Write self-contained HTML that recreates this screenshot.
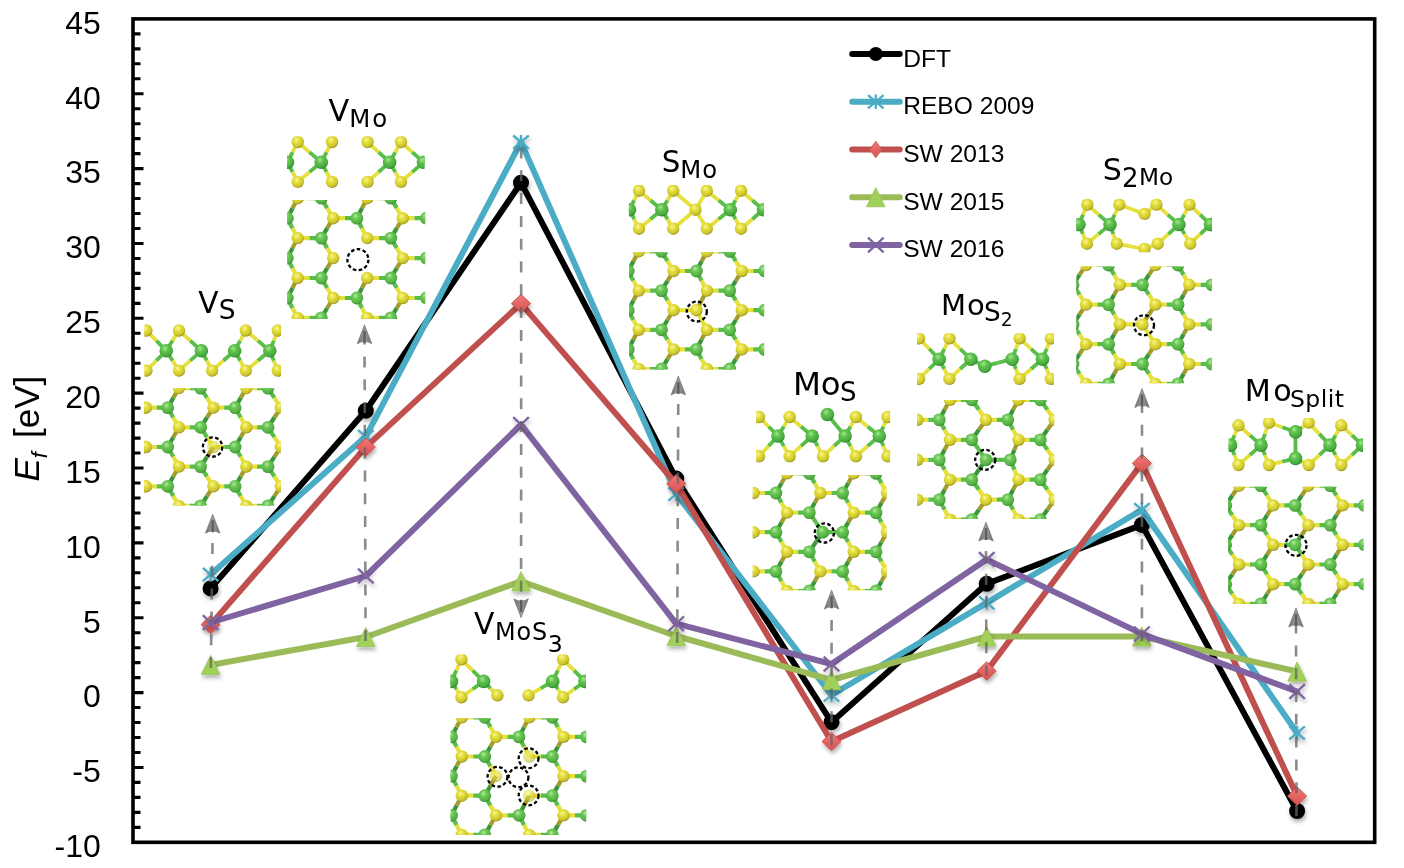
<!DOCTYPE html><html><head><meta charset="utf-8"><title>Formation energies</title><style>html,body{margin:0;padding:0;background:#fff;}svg{display:block;}</style></head><body><svg width="1404" height="868" viewBox="0 0 1404 868">
<defs>
<radialGradient id="gS" cx="0.42" cy="0.36" r="0.66" fx="0.40" fy="0.32">
<stop offset="0" stop-color="#f7f59a"/><stop offset="0.35" stop-color="#e6e03e"/><stop offset="0.8" stop-color="#c9c22c"/><stop offset="1" stop-color="#8f8a1c"/>
</radialGradient>
<radialGradient id="gM" cx="0.42" cy="0.36" r="0.66" fx="0.40" fy="0.32">
<stop offset="0" stop-color="#a6e696"/><stop offset="0.35" stop-color="#62c44e"/><stop offset="0.8" stop-color="#46aa3e"/><stop offset="1" stop-color="#2c7e2a"/>
</radialGradient>
<radialGradient id="gM2" cx="0.42" cy="0.36" r="0.66" fx="0.40" fy="0.32">
<stop offset="0" stop-color="#b4e8a4"/><stop offset="0.35" stop-color="#6cc854"/><stop offset="0.8" stop-color="#52b044"/><stop offset="1" stop-color="#3a8a32"/>
</radialGradient>
<linearGradient id="gDia" x1="0" y1="0" x2="0" y2="1">
<stop offset="0" stop-color="#ef7a78"/><stop offset="1" stop-color="#d9504f"/>
</linearGradient>
<linearGradient id="gTri" x1="0" y1="0" x2="0" y2="1">
<stop offset="0" stop-color="#a4cf5c"/><stop offset="1" stop-color="#9ed255"/>
</linearGradient>
<linearGradient id="gArr" x1="0" y1="0" x2="1" y2="0">
<stop offset="0" stop-color="#6f6f6f"/><stop offset="0.5" stop-color="#9a9a9a"/><stop offset="1" stop-color="#6f6f6f"/>
</linearGradient>
<filter id="sh" x="-60%" y="-60%" width="220%" height="220%">
<feGaussianBlur in="SourceAlpha" stdDeviation="2"/><feOffset dx="1.2" dy="2.6" result="o"/>
<feComponentTransfer><feFuncA type="linear" slope="0.32"/></feComponentTransfer>
<feMerge><feMergeNode/><feMergeNode in="SourceGraphic"/></feMerge>
</filter>
</defs>
<rect width="1404" height="868" fill="#ffffff"/>
<path d="M133.0,827.33H140.5M133.0,812.36H140.5M133.0,797.39H140.5M133.0,782.42H140.5M133.0,767.45H143.5M133.0,752.47H140.5M133.0,737.50H140.5M133.0,722.53H140.5M133.0,707.56H140.5M133.0,692.59H143.5M133.0,677.62H140.5M133.0,662.65H140.5M133.0,647.68H140.5M133.0,632.71H140.5M133.0,617.74H143.5M133.0,602.77H140.5M133.0,587.79H140.5M133.0,572.82H140.5M133.0,557.85H140.5M133.0,542.88H143.5M133.0,527.91H140.5M133.0,512.94H140.5M133.0,497.97H140.5M133.0,483.00H140.5M133.0,468.03H143.5M133.0,453.06H140.5M133.0,438.09H140.5M133.0,423.11H140.5M133.0,408.14H140.5M133.0,393.17H143.5M133.0,378.20H140.5M133.0,363.23H140.5M133.0,348.26H140.5M133.0,333.29H140.5M133.0,318.32H143.5M133.0,303.35H140.5M133.0,288.38H140.5M133.0,273.41H140.5M133.0,258.43H140.5M133.0,243.46H143.5M133.0,228.49H140.5M133.0,213.52H140.5M133.0,198.55H140.5M133.0,183.58H140.5M133.0,168.61H143.5M133.0,153.64H140.5M133.0,138.67H140.5M133.0,123.70H140.5M133.0,108.73H140.5M133.0,93.75H143.5M133.0,78.78H140.5M133.0,63.81H140.5M133.0,48.84H140.5M133.0,33.87H140.5" stroke="#000" stroke-width="3.1" fill="none"/>
<rect x="133.0" y="18.9" width="1241.7" height="823.4" fill="none" stroke="#000" stroke-width="3.6"/>
<g font-family="'Liberation Sans', sans-serif" font-size="32" fill="#000"><text x="100.8" y="857.1" text-anchor="end">-10</text><text x="100.8" y="782.2" text-anchor="end">-5</text><text x="100.8" y="707.4" text-anchor="end">0</text><text x="100.8" y="632.5" text-anchor="end">5</text><text x="100.8" y="557.7" text-anchor="end">10</text><text x="100.8" y="482.8" text-anchor="end">15</text><text x="100.8" y="408.0" text-anchor="end">20</text><text x="100.8" y="333.1" text-anchor="end">25</text><text x="100.8" y="258.3" text-anchor="end">30</text><text x="100.8" y="183.4" text-anchor="end">35</text><text x="100.8" y="108.6" text-anchor="end">40</text><text x="100.8" y="33.7" text-anchor="end">45</text></g>
<text transform="translate(39.3,481.5) rotate(-90)" font-family="'Liberation Sans', sans-serif" font-size="35" fill="#000"><tspan font-style="italic">E</tspan><tspan font-style="italic" font-size="22" dy="8">f</tspan><tspan dy="-8" dx="14">[eV]</tspan></text>
<polyline points="210.6,588.4 365.8,410.7 521.0,182.7 676.2,478.6 831.5,722.2 986.7,583.8 1141.9,524.9 1297.1,811.0" fill="none" stroke="#000000" stroke-width="6" stroke-linejoin="round" stroke-linecap="round"/>
<g filter="url(#sh)"><circle cx="210.6" cy="588.4" r="8" fill="#000000"/><circle cx="365.8" cy="410.7" r="8" fill="#000000"/><circle cx="521.0" cy="182.7" r="8" fill="#000000"/><circle cx="676.2" cy="478.6" r="8" fill="#000000"/><circle cx="831.5" cy="722.2" r="8" fill="#000000"/><circle cx="986.7" cy="583.8" r="8" fill="#000000"/><circle cx="1141.9" cy="524.9" r="8" fill="#000000"/><circle cx="1297.1" cy="811.0" r="8" fill="#000000"/></g>
<polyline points="210.6,574.5 365.8,436.6 521.0,142.1 676.2,494.0 831.5,695.0 986.7,602.8 1141.9,509.7 1297.1,732.9" fill="none" stroke="#4BACC6" stroke-width="6" stroke-linejoin="round" stroke-linecap="round"/>
<g filter="url(#sh)"><path d="M210.6,567.3V581.7M202.8,567.9L218.4,581.1M202.8,581.1L218.4,567.9" stroke="#4BACC6" stroke-width="2.3" fill="none"/><path d="M365.8,429.4V443.8M358.0,430.0L373.6,443.2M358.0,443.2L373.6,430.0" stroke="#4BACC6" stroke-width="2.3" fill="none"/><path d="M521.0,134.9V149.3M513.2,135.5L528.8,148.7M513.2,148.7L528.8,135.5" stroke="#4BACC6" stroke-width="2.3" fill="none"/><path d="M676.2,486.8V501.2M668.4,487.4L684.0,500.6M668.4,500.6L684.0,487.4" stroke="#4BACC6" stroke-width="2.3" fill="none"/><path d="M831.5,687.8V702.2M823.7,688.4L839.3,701.6M823.7,701.6L839.3,688.4" stroke="#4BACC6" stroke-width="2.3" fill="none"/><path d="M986.7,595.6V610.0M978.9,596.2L994.5,609.4M978.9,609.4L994.5,596.2" stroke="#4BACC6" stroke-width="2.3" fill="none"/><path d="M1141.9,502.5V516.9M1134.1,503.1L1149.7,516.3M1134.1,516.3L1149.7,503.1" stroke="#4BACC6" stroke-width="2.3" fill="none"/><path d="M1297.1,725.7V740.1M1289.3,726.3L1304.9,739.5M1289.3,739.5L1304.9,726.3" stroke="#4BACC6" stroke-width="2.3" fill="none"/></g>
<polyline points="210.6,624.6 365.8,447.1 521.0,303.6 676.2,483.8 831.5,741.5 986.7,671.0 1141.9,463.3 1297.1,796.1" fill="none" stroke="#C0504D" stroke-width="6" stroke-linejoin="round" stroke-linecap="round"/>
<g filter="url(#sh)"><path d="M210.6,615.4L220.1,624.6L210.6,633.8L201.1,624.6Z" fill="url(#gDia)" stroke="#c9524f" stroke-width="1"/><path d="M365.8,437.9L375.3,447.1L365.8,456.3L356.3,447.1Z" fill="url(#gDia)" stroke="#c9524f" stroke-width="1"/><path d="M521.0,294.4L530.5,303.6L521.0,312.8L511.5,303.6Z" fill="url(#gDia)" stroke="#c9524f" stroke-width="1"/><path d="M676.2,474.6L685.7,483.8L676.2,493.0L666.7,483.8Z" fill="url(#gDia)" stroke="#c9524f" stroke-width="1"/><path d="M831.5,732.3L841.0,741.5L831.5,750.7L822.0,741.5Z" fill="url(#gDia)" stroke="#c9524f" stroke-width="1"/><path d="M986.7,661.8L996.2,671.0L986.7,680.2L977.2,671.0Z" fill="url(#gDia)" stroke="#c9524f" stroke-width="1"/><path d="M1141.9,454.1L1151.4,463.3L1141.9,472.5L1132.4,463.3Z" fill="url(#gDia)" stroke="#c9524f" stroke-width="1"/><path d="M1297.1,786.9L1306.6,796.1L1297.1,805.3L1287.6,796.1Z" fill="url(#gDia)" stroke="#c9524f" stroke-width="1"/></g>
<polyline points="210.6,665.0 365.8,637.0 521.0,581.3 676.2,636.0 831.5,680.0 986.7,636.5 1141.9,636.5 1297.1,671.5" fill="none" stroke="#9BBB59" stroke-width="6" stroke-linejoin="round" stroke-linecap="round"/>
<g filter="url(#sh)"><path d="M210.6,655.4L219.9,674.6L201.3,674.6Z" fill="url(#gTri)" stroke="#9cc25a" stroke-width="0.8"/><path d="M365.8,627.4L375.1,646.6L356.5,646.6Z" fill="url(#gTri)" stroke="#9cc25a" stroke-width="0.8"/><path d="M521.0,571.7L530.3,590.9L511.7,590.9Z" fill="url(#gTri)" stroke="#9cc25a" stroke-width="0.8"/><path d="M676.2,626.4L685.5,645.6L666.9,645.6Z" fill="url(#gTri)" stroke="#9cc25a" stroke-width="0.8"/><path d="M831.5,670.4L840.8,689.6L822.2,689.6Z" fill="url(#gTri)" stroke="#9cc25a" stroke-width="0.8"/><path d="M986.7,626.9L996.0,646.1L977.4,646.1Z" fill="url(#gTri)" stroke="#9cc25a" stroke-width="0.8"/><path d="M1141.9,626.9L1151.2,646.1L1132.6,646.1Z" fill="url(#gTri)" stroke="#9cc25a" stroke-width="0.8"/><path d="M1297.1,661.9L1306.4,681.1L1287.8,681.1Z" fill="url(#gTri)" stroke="#9cc25a" stroke-width="0.8"/></g>
<polyline points="210.6,622.5 365.8,576.0 521.0,424.6 676.2,623.7 831.5,664.0 986.7,559.5 1141.9,633.9 1297.1,691.5" fill="none" stroke="#8064A2" stroke-width="6" stroke-linejoin="round" stroke-linecap="round"/>
<g filter="url(#sh)"><path d="M202.8,615.1L218.4,629.9M202.8,629.9L218.4,615.1" stroke="#8064A2" stroke-width="2.3" fill="none"/><path d="M358.0,568.6L373.6,583.4M358.0,583.4L373.6,568.6" stroke="#8064A2" stroke-width="2.3" fill="none"/><path d="M513.2,417.2L528.8,432.0M513.2,432.0L528.8,417.2" stroke="#8064A2" stroke-width="2.3" fill="none"/><path d="M668.4,616.3L684.0,631.1M668.4,631.1L684.0,616.3" stroke="#8064A2" stroke-width="2.3" fill="none"/><path d="M823.7,656.6L839.3,671.4M823.7,671.4L839.3,656.6" stroke="#8064A2" stroke-width="2.3" fill="none"/><path d="M978.9,552.1L994.5,566.9M978.9,566.9L994.5,552.1" stroke="#8064A2" stroke-width="2.3" fill="none"/><path d="M1134.1,626.5L1149.7,641.3M1134.1,641.3L1149.7,626.5" stroke="#8064A2" stroke-width="2.3" fill="none"/><path d="M1289.3,684.1L1304.9,698.9M1289.3,698.9L1304.9,684.1" stroke="#8064A2" stroke-width="2.3" fill="none"/></g>
<line x1="852.2" y1="54.0" x2="899.7" y2="54.0" stroke="#000000" stroke-width="6" stroke-linecap="round"/>
<circle cx="875.8" cy="54.0" r="7" fill="#000"/>
<text x="903.2" y="67.3" font-family="'Liberation Sans', sans-serif" font-size="24.6" fill="#000">DFT</text>
<line x1="852.2" y1="101.8" x2="899.7" y2="101.8" stroke="#4BACC6" stroke-width="6" stroke-linecap="round"/>
<path d="M875.8,94.6V109.0M868.0,95.2L883.6,108.4M868.0,108.4L883.6,95.2" stroke="#4BACC6" stroke-width="2.3" fill="none"/>
<text x="903.2" y="114.3" font-family="'Liberation Sans', sans-serif" font-size="24.6" fill="#000">REBO 2009</text>
<line x1="852.2" y1="149.5" x2="899.7" y2="149.5" stroke="#C0504D" stroke-width="6" stroke-linecap="round"/>
<path d="M875.8,141.2L881.9,149.5L875.8,157.8L869.7,149.5Z" fill="url(#gDia)" stroke="#c9524f" stroke-width="0.8"/>
<text x="903.2" y="162.1" font-family="'Liberation Sans', sans-serif" font-size="24.6" fill="#000">SW 2013</text>
<line x1="852.2" y1="197.2" x2="899.7" y2="197.2" stroke="#9BBB59" stroke-width="6" stroke-linecap="round"/>
<path d="M875.8,187.6L885.1,206.8L866.5,206.8Z" fill="url(#gTri)" stroke="#9cc25a" stroke-width="0.8"/>
<text x="903.2" y="209.7" font-family="'Liberation Sans', sans-serif" font-size="24.6" fill="#000">SW 2015</text>
<line x1="852.2" y1="245.0" x2="899.7" y2="245.0" stroke="#8064A2" stroke-width="6" stroke-linecap="round"/>
<path d="M868.0,237.6L883.6,252.4M868.0,252.4L883.6,237.6" stroke="#8064A2" stroke-width="2.3" fill="none"/>
<text x="903.2" y="256.6" font-family="'Liberation Sans', sans-serif" font-size="24.6" fill="#000">SW 2016</text>
<g font-family="'DejaVu Sans', 'Liberation Sans', sans-serif" fill="#000"><text x="198.3" y="313.1" font-size="29.6">V</text><text x="218.7" y="319.3" font-size="26.5">S</text></g>
<clipPath id="c1"><rect x="144.3" y="324.0" width="136.7" height="53.5"/></clipPath>
<g clip-path="url(#c1)"><line x1="131.5" y1="350.8" x2="122.5" y2="340.6" stroke="#58be48" stroke-width="3.8"/><line x1="122.5" y1="340.6" x2="113.5" y2="330.5" stroke="#e6e03c" stroke-width="3.8"/><line x1="131.5" y1="350.8" x2="122.5" y2="360.7" stroke="#58be48" stroke-width="3.8"/><line x1="122.5" y1="360.7" x2="113.5" y2="370.6" stroke="#e6e03c" stroke-width="3.8"/><line x1="131.5" y1="350.8" x2="138.9" y2="340.6" stroke="#58be48" stroke-width="3.8"/><line x1="138.9" y1="340.6" x2="146.4" y2="330.5" stroke="#e6e03c" stroke-width="3.8"/><line x1="131.5" y1="350.8" x2="138.9" y2="360.7" stroke="#58be48" stroke-width="3.8"/><line x1="138.9" y1="360.7" x2="146.4" y2="370.6" stroke="#e6e03c" stroke-width="3.8"/><line x1="166.2" y1="350.8" x2="156.3" y2="340.6" stroke="#58be48" stroke-width="3.8"/><line x1="156.3" y1="340.6" x2="146.4" y2="330.5" stroke="#e6e03c" stroke-width="3.8"/><line x1="166.2" y1="350.8" x2="156.3" y2="360.7" stroke="#58be48" stroke-width="3.8"/><line x1="156.3" y1="360.7" x2="146.4" y2="370.6" stroke="#e6e03c" stroke-width="3.8"/><line x1="166.2" y1="350.8" x2="172.6" y2="340.6" stroke="#58be48" stroke-width="3.8"/><line x1="172.6" y1="340.6" x2="179.0" y2="330.5" stroke="#e6e03c" stroke-width="3.8"/><line x1="166.2" y1="350.8" x2="172.6" y2="360.7" stroke="#58be48" stroke-width="3.8"/><line x1="172.6" y1="360.7" x2="179.0" y2="370.6" stroke="#e6e03c" stroke-width="3.8"/><line x1="201.4" y1="350.8" x2="190.2" y2="340.6" stroke="#58be48" stroke-width="3.8"/><line x1="190.2" y1="340.6" x2="179.0" y2="330.5" stroke="#e6e03c" stroke-width="3.8"/><line x1="201.4" y1="350.8" x2="190.2" y2="360.7" stroke="#58be48" stroke-width="3.8"/><line x1="190.2" y1="360.7" x2="179.0" y2="370.6" stroke="#e6e03c" stroke-width="3.8"/><line x1="201.4" y1="350.8" x2="206.8" y2="360.7" stroke="#58be48" stroke-width="3.8"/><line x1="206.8" y1="360.7" x2="212.1" y2="370.6" stroke="#e6e03c" stroke-width="3.8"/><line x1="234.6" y1="350.8" x2="223.3" y2="360.7" stroke="#58be48" stroke-width="3.8"/><line x1="223.3" y1="360.7" x2="212.1" y2="370.6" stroke="#e6e03c" stroke-width="3.8"/><line x1="234.6" y1="350.8" x2="240.2" y2="340.6" stroke="#58be48" stroke-width="3.8"/><line x1="240.2" y1="340.6" x2="245.8" y2="330.5" stroke="#e6e03c" stroke-width="3.8"/><line x1="234.6" y1="350.8" x2="240.2" y2="360.7" stroke="#58be48" stroke-width="3.8"/><line x1="240.2" y1="360.7" x2="245.8" y2="370.6" stroke="#e6e03c" stroke-width="3.8"/><line x1="269.8" y1="350.8" x2="257.8" y2="340.6" stroke="#58be48" stroke-width="3.8"/><line x1="257.8" y1="340.6" x2="245.8" y2="330.5" stroke="#e6e03c" stroke-width="3.8"/><line x1="269.8" y1="350.8" x2="257.8" y2="360.7" stroke="#58be48" stroke-width="3.8"/><line x1="257.8" y1="360.7" x2="245.8" y2="370.6" stroke="#e6e03c" stroke-width="3.8"/><line x1="269.8" y1="350.8" x2="273.8" y2="340.6" stroke="#58be48" stroke-width="3.8"/><line x1="273.8" y1="340.6" x2="277.8" y2="330.5" stroke="#e6e03c" stroke-width="3.8"/><line x1="269.8" y1="350.8" x2="273.8" y2="360.7" stroke="#58be48" stroke-width="3.8"/><line x1="273.8" y1="360.7" x2="277.8" y2="370.6" stroke="#e6e03c" stroke-width="3.8"/><line x1="304.0" y1="350.8" x2="290.9" y2="340.6" stroke="#58be48" stroke-width="3.8"/><line x1="290.9" y1="340.6" x2="277.8" y2="330.5" stroke="#e6e03c" stroke-width="3.8"/><line x1="304.0" y1="350.8" x2="290.9" y2="360.7" stroke="#58be48" stroke-width="3.8"/><line x1="290.9" y1="360.7" x2="277.8" y2="370.6" stroke="#e6e03c" stroke-width="3.8"/><line x1="304.0" y1="350.8" x2="307.5" y2="340.6" stroke="#58be48" stroke-width="3.8"/><line x1="307.5" y1="340.6" x2="311.0" y2="330.5" stroke="#e6e03c" stroke-width="3.8"/><line x1="304.0" y1="350.8" x2="307.5" y2="360.7" stroke="#58be48" stroke-width="3.8"/><line x1="307.5" y1="360.7" x2="311.0" y2="370.6" stroke="#e6e03c" stroke-width="3.8"/><circle cx="113.5" cy="330.5" r="6.2" fill="url(#gS)"/><circle cx="113.5" cy="370.6" r="6.2" fill="url(#gS)"/><circle cx="146.4" cy="330.5" r="6.2" fill="url(#gS)"/><circle cx="146.4" cy="370.6" r="6.2" fill="url(#gS)"/><circle cx="179.0" cy="330.5" r="6.2" fill="url(#gS)"/><circle cx="179.0" cy="370.6" r="6.2" fill="url(#gS)"/><circle cx="212.1" cy="370.6" r="6.2" fill="url(#gS)"/><circle cx="245.8" cy="330.5" r="6.2" fill="url(#gS)"/><circle cx="245.8" cy="370.6" r="6.2" fill="url(#gS)"/><circle cx="277.8" cy="330.5" r="6.2" fill="url(#gS)"/><circle cx="277.8" cy="370.6" r="6.2" fill="url(#gS)"/><circle cx="311.0" cy="330.5" r="6.2" fill="url(#gS)"/><circle cx="311.0" cy="370.6" r="6.2" fill="url(#gS)"/><circle cx="131.5" cy="350.8" r="6.8" fill="url(#gM)"/><circle cx="166.2" cy="350.8" r="6.8" fill="url(#gM)"/><circle cx="201.4" cy="350.8" r="6.8" fill="url(#gM)"/><circle cx="234.6" cy="350.8" r="6.8" fill="url(#gM)"/><circle cx="269.8" cy="350.8" r="6.8" fill="url(#gM)"/><circle cx="304.0" cy="350.8" r="6.8" fill="url(#gM)"/></g>
<clipPath id="c2"><rect x="144.2" y="388.2" width="136.5" height="117.3"/></clipPath>
<g clip-path="url(#c2)"><line x1="78.6" y1="368.4" x2="89.4" y2="368.4" stroke="#e6e03c" stroke-width="4.2"/><line x1="89.4" y1="368.4" x2="100.3" y2="368.4" stroke="#58be48" stroke-width="4.2"/><line x1="78.6" y1="368.4" x2="72.2" y2="378.2" stroke="#a39c2c" stroke-width="4.2"/><line x1="72.2" y1="378.2" x2="65.8" y2="388.1" stroke="#3a963a" stroke-width="4.2"/><line x1="100.3" y1="368.4" x2="105.9" y2="378.2" stroke="#58be48" stroke-width="4.2"/><line x1="105.9" y1="378.2" x2="111.5" y2="388.1" stroke="#e6e03c" stroke-width="4.2"/><line x1="146.0" y1="368.4" x2="156.8" y2="368.4" stroke="#e6e03c" stroke-width="4.2"/><line x1="156.8" y1="368.4" x2="167.7" y2="368.4" stroke="#58be48" stroke-width="4.2"/><line x1="146.0" y1="368.4" x2="139.6" y2="378.2" stroke="#a39c2c" stroke-width="4.2"/><line x1="139.6" y1="378.2" x2="133.2" y2="388.1" stroke="#3a963a" stroke-width="4.2"/><line x1="167.7" y1="368.4" x2="173.3" y2="378.2" stroke="#58be48" stroke-width="4.2"/><line x1="173.3" y1="378.2" x2="178.9" y2="388.1" stroke="#e6e03c" stroke-width="4.2"/><line x1="213.4" y1="368.4" x2="224.2" y2="368.4" stroke="#e6e03c" stroke-width="4.2"/><line x1="224.2" y1="368.4" x2="235.1" y2="368.4" stroke="#58be48" stroke-width="4.2"/><line x1="213.4" y1="368.4" x2="207.0" y2="378.2" stroke="#a39c2c" stroke-width="4.2"/><line x1="207.0" y1="378.2" x2="200.6" y2="388.1" stroke="#3a963a" stroke-width="4.2"/><line x1="235.1" y1="368.4" x2="240.7" y2="378.2" stroke="#58be48" stroke-width="4.2"/><line x1="240.7" y1="378.2" x2="246.3" y2="388.1" stroke="#e6e03c" stroke-width="4.2"/><line x1="280.8" y1="368.4" x2="291.6" y2="368.4" stroke="#e6e03c" stroke-width="4.2"/><line x1="291.6" y1="368.4" x2="302.5" y2="368.4" stroke="#58be48" stroke-width="4.2"/><line x1="280.8" y1="368.4" x2="274.4" y2="378.2" stroke="#a39c2c" stroke-width="4.2"/><line x1="274.4" y1="378.2" x2="268.0" y2="388.1" stroke="#3a963a" stroke-width="4.2"/><line x1="302.5" y1="368.4" x2="308.1" y2="378.2" stroke="#58be48" stroke-width="4.2"/><line x1="308.1" y1="378.2" x2="313.7" y2="388.1" stroke="#e6e03c" stroke-width="4.2"/><line x1="348.2" y1="368.4" x2="359.1" y2="368.4" stroke="#e6e03c" stroke-width="4.2"/><line x1="359.1" y1="368.4" x2="369.9" y2="368.4" stroke="#58be48" stroke-width="4.2"/><line x1="348.2" y1="368.4" x2="341.8" y2="378.2" stroke="#a39c2c" stroke-width="4.2"/><line x1="341.8" y1="378.2" x2="335.4" y2="388.1" stroke="#3a963a" stroke-width="4.2"/><line x1="369.9" y1="368.4" x2="375.5" y2="378.2" stroke="#58be48" stroke-width="4.2"/><line x1="375.5" y1="378.2" x2="381.1" y2="388.1" stroke="#e6e03c" stroke-width="4.2"/><line x1="44.1" y1="388.1" x2="54.9" y2="388.1" stroke="#e6e03c" stroke-width="4.2"/><line x1="54.9" y1="388.1" x2="65.8" y2="388.1" stroke="#58be48" stroke-width="4.2"/><line x1="65.8" y1="388.1" x2="72.2" y2="397.9" stroke="#58be48" stroke-width="4.2"/><line x1="72.2" y1="397.9" x2="78.6" y2="407.7" stroke="#e6e03c" stroke-width="4.2"/><line x1="111.5" y1="388.1" x2="122.3" y2="388.1" stroke="#e6e03c" stroke-width="4.2"/><line x1="122.3" y1="388.1" x2="133.2" y2="388.1" stroke="#58be48" stroke-width="4.2"/><line x1="111.5" y1="388.1" x2="105.9" y2="397.9" stroke="#a39c2c" stroke-width="4.2"/><line x1="105.9" y1="397.9" x2="100.3" y2="407.7" stroke="#3a963a" stroke-width="4.2"/><line x1="133.2" y1="388.1" x2="139.6" y2="397.9" stroke="#58be48" stroke-width="4.2"/><line x1="139.6" y1="397.9" x2="146.0" y2="407.7" stroke="#e6e03c" stroke-width="4.2"/><line x1="178.9" y1="388.1" x2="189.8" y2="388.1" stroke="#e6e03c" stroke-width="4.2"/><line x1="189.8" y1="388.1" x2="200.6" y2="388.1" stroke="#58be48" stroke-width="4.2"/><line x1="178.9" y1="388.1" x2="173.3" y2="397.9" stroke="#a39c2c" stroke-width="4.2"/><line x1="173.3" y1="397.9" x2="167.7" y2="407.7" stroke="#3a963a" stroke-width="4.2"/><line x1="200.6" y1="388.1" x2="207.0" y2="397.9" stroke="#58be48" stroke-width="4.2"/><line x1="207.0" y1="397.9" x2="213.4" y2="407.7" stroke="#e6e03c" stroke-width="4.2"/><line x1="246.3" y1="388.1" x2="257.1" y2="388.1" stroke="#e6e03c" stroke-width="4.2"/><line x1="257.1" y1="388.1" x2="268.0" y2="388.1" stroke="#58be48" stroke-width="4.2"/><line x1="246.3" y1="388.1" x2="240.7" y2="397.9" stroke="#a39c2c" stroke-width="4.2"/><line x1="240.7" y1="397.9" x2="235.1" y2="407.7" stroke="#3a963a" stroke-width="4.2"/><line x1="268.0" y1="388.1" x2="274.4" y2="397.9" stroke="#58be48" stroke-width="4.2"/><line x1="274.4" y1="397.9" x2="280.8" y2="407.7" stroke="#e6e03c" stroke-width="4.2"/><line x1="313.7" y1="388.1" x2="324.6" y2="388.1" stroke="#e6e03c" stroke-width="4.2"/><line x1="324.6" y1="388.1" x2="335.4" y2="388.1" stroke="#58be48" stroke-width="4.2"/><line x1="313.7" y1="388.1" x2="308.1" y2="397.9" stroke="#a39c2c" stroke-width="4.2"/><line x1="308.1" y1="397.9" x2="302.5" y2="407.7" stroke="#3a963a" stroke-width="4.2"/><line x1="335.4" y1="388.1" x2="341.8" y2="397.9" stroke="#58be48" stroke-width="4.2"/><line x1="341.8" y1="397.9" x2="348.2" y2="407.7" stroke="#e6e03c" stroke-width="4.2"/><line x1="381.1" y1="388.1" x2="392.0" y2="388.1" stroke="#e6e03c" stroke-width="4.2"/><line x1="392.0" y1="388.1" x2="402.8" y2="388.1" stroke="#58be48" stroke-width="4.2"/><line x1="381.1" y1="388.1" x2="375.5" y2="397.9" stroke="#a39c2c" stroke-width="4.2"/><line x1="375.5" y1="397.9" x2="369.9" y2="407.7" stroke="#3a963a" stroke-width="4.2"/><line x1="78.6" y1="407.7" x2="89.4" y2="407.7" stroke="#e6e03c" stroke-width="4.2"/><line x1="89.4" y1="407.7" x2="100.3" y2="407.7" stroke="#58be48" stroke-width="4.2"/><line x1="78.6" y1="407.7" x2="72.2" y2="417.5" stroke="#a39c2c" stroke-width="4.2"/><line x1="72.2" y1="417.5" x2="65.8" y2="427.3" stroke="#3a963a" stroke-width="4.2"/><line x1="100.3" y1="407.7" x2="105.9" y2="417.5" stroke="#58be48" stroke-width="4.2"/><line x1="105.9" y1="417.5" x2="111.5" y2="427.3" stroke="#e6e03c" stroke-width="4.2"/><line x1="146.0" y1="407.7" x2="156.8" y2="407.7" stroke="#e6e03c" stroke-width="4.2"/><line x1="156.8" y1="407.7" x2="167.7" y2="407.7" stroke="#58be48" stroke-width="4.2"/><line x1="146.0" y1="407.7" x2="139.6" y2="417.5" stroke="#a39c2c" stroke-width="4.2"/><line x1="139.6" y1="417.5" x2="133.2" y2="427.3" stroke="#3a963a" stroke-width="4.2"/><line x1="167.7" y1="407.7" x2="173.3" y2="417.5" stroke="#58be48" stroke-width="4.2"/><line x1="173.3" y1="417.5" x2="178.9" y2="427.3" stroke="#e6e03c" stroke-width="4.2"/><line x1="213.4" y1="407.7" x2="224.2" y2="407.7" stroke="#e6e03c" stroke-width="4.2"/><line x1="224.2" y1="407.7" x2="235.1" y2="407.7" stroke="#58be48" stroke-width="4.2"/><line x1="213.4" y1="407.7" x2="207.0" y2="417.5" stroke="#a39c2c" stroke-width="4.2"/><line x1="207.0" y1="417.5" x2="200.6" y2="427.3" stroke="#3a963a" stroke-width="4.2"/><line x1="235.1" y1="407.7" x2="240.7" y2="417.5" stroke="#58be48" stroke-width="4.2"/><line x1="240.7" y1="417.5" x2="246.3" y2="427.3" stroke="#e6e03c" stroke-width="4.2"/><line x1="280.8" y1="407.7" x2="291.6" y2="407.7" stroke="#e6e03c" stroke-width="4.2"/><line x1="291.6" y1="407.7" x2="302.5" y2="407.7" stroke="#58be48" stroke-width="4.2"/><line x1="280.8" y1="407.7" x2="274.4" y2="417.5" stroke="#a39c2c" stroke-width="4.2"/><line x1="274.4" y1="417.5" x2="268.0" y2="427.3" stroke="#3a963a" stroke-width="4.2"/><line x1="302.5" y1="407.7" x2="308.1" y2="417.5" stroke="#58be48" stroke-width="4.2"/><line x1="308.1" y1="417.5" x2="313.7" y2="427.3" stroke="#e6e03c" stroke-width="4.2"/><line x1="348.2" y1="407.7" x2="359.1" y2="407.7" stroke="#e6e03c" stroke-width="4.2"/><line x1="359.1" y1="407.7" x2="369.9" y2="407.7" stroke="#58be48" stroke-width="4.2"/><line x1="348.2" y1="407.7" x2="341.8" y2="417.5" stroke="#a39c2c" stroke-width="4.2"/><line x1="341.8" y1="417.5" x2="335.4" y2="427.3" stroke="#3a963a" stroke-width="4.2"/><line x1="369.9" y1="407.7" x2="375.5" y2="417.5" stroke="#58be48" stroke-width="4.2"/><line x1="375.5" y1="417.5" x2="381.1" y2="427.3" stroke="#e6e03c" stroke-width="4.2"/><line x1="44.1" y1="427.3" x2="54.9" y2="427.3" stroke="#e6e03c" stroke-width="4.2"/><line x1="54.9" y1="427.3" x2="65.8" y2="427.3" stroke="#58be48" stroke-width="4.2"/><line x1="65.8" y1="427.3" x2="72.2" y2="437.2" stroke="#58be48" stroke-width="4.2"/><line x1="72.2" y1="437.2" x2="78.6" y2="447.0" stroke="#e6e03c" stroke-width="4.2"/><line x1="111.5" y1="427.3" x2="122.3" y2="427.3" stroke="#e6e03c" stroke-width="4.2"/><line x1="122.3" y1="427.3" x2="133.2" y2="427.3" stroke="#58be48" stroke-width="4.2"/><line x1="111.5" y1="427.3" x2="105.9" y2="437.2" stroke="#a39c2c" stroke-width="4.2"/><line x1="105.9" y1="437.2" x2="100.3" y2="447.0" stroke="#3a963a" stroke-width="4.2"/><line x1="133.2" y1="427.3" x2="139.6" y2="437.2" stroke="#58be48" stroke-width="4.2"/><line x1="139.6" y1="437.2" x2="146.0" y2="447.0" stroke="#e6e03c" stroke-width="4.2"/><line x1="178.9" y1="427.3" x2="189.8" y2="427.3" stroke="#e6e03c" stroke-width="4.2"/><line x1="189.8" y1="427.3" x2="200.6" y2="427.3" stroke="#58be48" stroke-width="4.2"/><line x1="178.9" y1="427.3" x2="173.3" y2="437.2" stroke="#a39c2c" stroke-width="4.2"/><line x1="173.3" y1="437.2" x2="167.7" y2="447.0" stroke="#3a963a" stroke-width="4.2"/><line x1="200.6" y1="427.3" x2="207.0" y2="437.2" stroke="#58be48" stroke-width="4.2"/><line x1="207.0" y1="437.2" x2="213.4" y2="447.0" stroke="#e6e03c" stroke-width="4.2"/><line x1="246.3" y1="427.3" x2="257.1" y2="427.3" stroke="#e6e03c" stroke-width="4.2"/><line x1="257.1" y1="427.3" x2="268.0" y2="427.3" stroke="#58be48" stroke-width="4.2"/><line x1="246.3" y1="427.3" x2="240.7" y2="437.2" stroke="#a39c2c" stroke-width="4.2"/><line x1="240.7" y1="437.2" x2="235.1" y2="447.0" stroke="#3a963a" stroke-width="4.2"/><line x1="268.0" y1="427.3" x2="274.4" y2="437.2" stroke="#58be48" stroke-width="4.2"/><line x1="274.4" y1="437.2" x2="280.8" y2="447.0" stroke="#e6e03c" stroke-width="4.2"/><line x1="313.7" y1="427.3" x2="324.6" y2="427.3" stroke="#e6e03c" stroke-width="4.2"/><line x1="324.6" y1="427.3" x2="335.4" y2="427.3" stroke="#58be48" stroke-width="4.2"/><line x1="313.7" y1="427.3" x2="308.1" y2="437.2" stroke="#a39c2c" stroke-width="4.2"/><line x1="308.1" y1="437.2" x2="302.5" y2="447.0" stroke="#3a963a" stroke-width="4.2"/><line x1="335.4" y1="427.3" x2="341.8" y2="437.2" stroke="#58be48" stroke-width="4.2"/><line x1="341.8" y1="437.2" x2="348.2" y2="447.0" stroke="#e6e03c" stroke-width="4.2"/><line x1="381.1" y1="427.3" x2="392.0" y2="427.3" stroke="#e6e03c" stroke-width="4.2"/><line x1="392.0" y1="427.3" x2="402.8" y2="427.3" stroke="#58be48" stroke-width="4.2"/><line x1="381.1" y1="427.3" x2="375.5" y2="437.2" stroke="#a39c2c" stroke-width="4.2"/><line x1="375.5" y1="437.2" x2="369.9" y2="447.0" stroke="#3a963a" stroke-width="4.2"/><line x1="78.6" y1="447.0" x2="89.4" y2="447.0" stroke="#e6e03c" stroke-width="4.2"/><line x1="89.4" y1="447.0" x2="100.3" y2="447.0" stroke="#58be48" stroke-width="4.2"/><line x1="78.6" y1="447.0" x2="72.2" y2="456.8" stroke="#a39c2c" stroke-width="4.2"/><line x1="72.2" y1="456.8" x2="65.8" y2="466.6" stroke="#3a963a" stroke-width="4.2"/><line x1="100.3" y1="447.0" x2="105.9" y2="456.8" stroke="#58be48" stroke-width="4.2"/><line x1="105.9" y1="456.8" x2="111.5" y2="466.6" stroke="#e6e03c" stroke-width="4.2"/><line x1="146.0" y1="447.0" x2="156.8" y2="447.0" stroke="#e6e03c" stroke-width="4.2"/><line x1="156.8" y1="447.0" x2="167.7" y2="447.0" stroke="#58be48" stroke-width="4.2"/><line x1="146.0" y1="447.0" x2="139.6" y2="456.8" stroke="#a39c2c" stroke-width="4.2"/><line x1="139.6" y1="456.8" x2="133.2" y2="466.6" stroke="#3a963a" stroke-width="4.2"/><line x1="167.7" y1="447.0" x2="173.3" y2="456.8" stroke="#58be48" stroke-width="4.2"/><line x1="173.3" y1="456.8" x2="178.9" y2="466.6" stroke="#e6e03c" stroke-width="4.2"/><line x1="213.4" y1="447.0" x2="224.2" y2="447.0" stroke="#e6e03c" stroke-width="4.2"/><line x1="224.2" y1="447.0" x2="235.1" y2="447.0" stroke="#58be48" stroke-width="4.2"/><line x1="213.4" y1="447.0" x2="207.0" y2="456.8" stroke="#a39c2c" stroke-width="4.2"/><line x1="207.0" y1="456.8" x2="200.6" y2="466.6" stroke="#3a963a" stroke-width="4.2"/><line x1="235.1" y1="447.0" x2="240.7" y2="456.8" stroke="#58be48" stroke-width="4.2"/><line x1="240.7" y1="456.8" x2="246.3" y2="466.6" stroke="#e6e03c" stroke-width="4.2"/><line x1="280.8" y1="447.0" x2="291.6" y2="447.0" stroke="#e6e03c" stroke-width="4.2"/><line x1="291.6" y1="447.0" x2="302.5" y2="447.0" stroke="#58be48" stroke-width="4.2"/><line x1="280.8" y1="447.0" x2="274.4" y2="456.8" stroke="#a39c2c" stroke-width="4.2"/><line x1="274.4" y1="456.8" x2="268.0" y2="466.6" stroke="#3a963a" stroke-width="4.2"/><line x1="302.5" y1="447.0" x2="308.1" y2="456.8" stroke="#58be48" stroke-width="4.2"/><line x1="308.1" y1="456.8" x2="313.7" y2="466.6" stroke="#e6e03c" stroke-width="4.2"/><line x1="348.2" y1="447.0" x2="359.1" y2="447.0" stroke="#e6e03c" stroke-width="4.2"/><line x1="359.1" y1="447.0" x2="369.9" y2="447.0" stroke="#58be48" stroke-width="4.2"/><line x1="348.2" y1="447.0" x2="341.8" y2="456.8" stroke="#a39c2c" stroke-width="4.2"/><line x1="341.8" y1="456.8" x2="335.4" y2="466.6" stroke="#3a963a" stroke-width="4.2"/><line x1="369.9" y1="447.0" x2="375.5" y2="456.8" stroke="#58be48" stroke-width="4.2"/><line x1="375.5" y1="456.8" x2="381.1" y2="466.6" stroke="#e6e03c" stroke-width="4.2"/><line x1="44.1" y1="466.6" x2="54.9" y2="466.6" stroke="#e6e03c" stroke-width="4.2"/><line x1="54.9" y1="466.6" x2="65.8" y2="466.6" stroke="#58be48" stroke-width="4.2"/><line x1="65.8" y1="466.6" x2="72.2" y2="476.5" stroke="#58be48" stroke-width="4.2"/><line x1="72.2" y1="476.5" x2="78.6" y2="486.3" stroke="#e6e03c" stroke-width="4.2"/><line x1="111.5" y1="466.6" x2="122.3" y2="466.6" stroke="#e6e03c" stroke-width="4.2"/><line x1="122.3" y1="466.6" x2="133.2" y2="466.6" stroke="#58be48" stroke-width="4.2"/><line x1="111.5" y1="466.6" x2="105.9" y2="476.5" stroke="#a39c2c" stroke-width="4.2"/><line x1="105.9" y1="476.5" x2="100.3" y2="486.3" stroke="#3a963a" stroke-width="4.2"/><line x1="133.2" y1="466.6" x2="139.6" y2="476.5" stroke="#58be48" stroke-width="4.2"/><line x1="139.6" y1="476.5" x2="146.0" y2="486.3" stroke="#e6e03c" stroke-width="4.2"/><line x1="178.9" y1="466.6" x2="189.8" y2="466.6" stroke="#e6e03c" stroke-width="4.2"/><line x1="189.8" y1="466.6" x2="200.6" y2="466.6" stroke="#58be48" stroke-width="4.2"/><line x1="178.9" y1="466.6" x2="173.3" y2="476.5" stroke="#a39c2c" stroke-width="4.2"/><line x1="173.3" y1="476.5" x2="167.7" y2="486.3" stroke="#3a963a" stroke-width="4.2"/><line x1="200.6" y1="466.6" x2="207.0" y2="476.5" stroke="#58be48" stroke-width="4.2"/><line x1="207.0" y1="476.5" x2="213.4" y2="486.3" stroke="#e6e03c" stroke-width="4.2"/><line x1="246.3" y1="466.6" x2="257.1" y2="466.6" stroke="#e6e03c" stroke-width="4.2"/><line x1="257.1" y1="466.6" x2="268.0" y2="466.6" stroke="#58be48" stroke-width="4.2"/><line x1="246.3" y1="466.6" x2="240.7" y2="476.5" stroke="#a39c2c" stroke-width="4.2"/><line x1="240.7" y1="476.5" x2="235.1" y2="486.3" stroke="#3a963a" stroke-width="4.2"/><line x1="268.0" y1="466.6" x2="274.4" y2="476.5" stroke="#58be48" stroke-width="4.2"/><line x1="274.4" y1="476.5" x2="280.8" y2="486.3" stroke="#e6e03c" stroke-width="4.2"/><line x1="313.7" y1="466.6" x2="324.6" y2="466.6" stroke="#e6e03c" stroke-width="4.2"/><line x1="324.6" y1="466.6" x2="335.4" y2="466.6" stroke="#58be48" stroke-width="4.2"/><line x1="313.7" y1="466.6" x2="308.1" y2="476.5" stroke="#a39c2c" stroke-width="4.2"/><line x1="308.1" y1="476.5" x2="302.5" y2="486.3" stroke="#3a963a" stroke-width="4.2"/><line x1="335.4" y1="466.6" x2="341.8" y2="476.5" stroke="#58be48" stroke-width="4.2"/><line x1="341.8" y1="476.5" x2="348.2" y2="486.3" stroke="#e6e03c" stroke-width="4.2"/><line x1="381.1" y1="466.6" x2="392.0" y2="466.6" stroke="#e6e03c" stroke-width="4.2"/><line x1="392.0" y1="466.6" x2="402.8" y2="466.6" stroke="#58be48" stroke-width="4.2"/><line x1="381.1" y1="466.6" x2="375.5" y2="476.5" stroke="#a39c2c" stroke-width="4.2"/><line x1="375.5" y1="476.5" x2="369.9" y2="486.3" stroke="#3a963a" stroke-width="4.2"/><line x1="78.6" y1="486.3" x2="89.4" y2="486.3" stroke="#e6e03c" stroke-width="4.2"/><line x1="89.4" y1="486.3" x2="100.3" y2="486.3" stroke="#58be48" stroke-width="4.2"/><line x1="78.6" y1="486.3" x2="72.2" y2="496.1" stroke="#a39c2c" stroke-width="4.2"/><line x1="72.2" y1="496.1" x2="65.8" y2="505.9" stroke="#3a963a" stroke-width="4.2"/><line x1="100.3" y1="486.3" x2="105.9" y2="496.1" stroke="#58be48" stroke-width="4.2"/><line x1="105.9" y1="496.1" x2="111.5" y2="505.9" stroke="#e6e03c" stroke-width="4.2"/><line x1="146.0" y1="486.3" x2="156.8" y2="486.3" stroke="#e6e03c" stroke-width="4.2"/><line x1="156.8" y1="486.3" x2="167.7" y2="486.3" stroke="#58be48" stroke-width="4.2"/><line x1="146.0" y1="486.3" x2="139.6" y2="496.1" stroke="#a39c2c" stroke-width="4.2"/><line x1="139.6" y1="496.1" x2="133.2" y2="505.9" stroke="#3a963a" stroke-width="4.2"/><line x1="167.7" y1="486.3" x2="173.3" y2="496.1" stroke="#58be48" stroke-width="4.2"/><line x1="173.3" y1="496.1" x2="178.9" y2="505.9" stroke="#e6e03c" stroke-width="4.2"/><line x1="213.4" y1="486.3" x2="224.2" y2="486.3" stroke="#e6e03c" stroke-width="4.2"/><line x1="224.2" y1="486.3" x2="235.1" y2="486.3" stroke="#58be48" stroke-width="4.2"/><line x1="213.4" y1="486.3" x2="207.0" y2="496.1" stroke="#a39c2c" stroke-width="4.2"/><line x1="207.0" y1="496.1" x2="200.6" y2="505.9" stroke="#3a963a" stroke-width="4.2"/><line x1="235.1" y1="486.3" x2="240.7" y2="496.1" stroke="#58be48" stroke-width="4.2"/><line x1="240.7" y1="496.1" x2="246.3" y2="505.9" stroke="#e6e03c" stroke-width="4.2"/><line x1="280.8" y1="486.3" x2="291.6" y2="486.3" stroke="#e6e03c" stroke-width="4.2"/><line x1="291.6" y1="486.3" x2="302.5" y2="486.3" stroke="#58be48" stroke-width="4.2"/><line x1="280.8" y1="486.3" x2="274.4" y2="496.1" stroke="#a39c2c" stroke-width="4.2"/><line x1="274.4" y1="496.1" x2="268.0" y2="505.9" stroke="#3a963a" stroke-width="4.2"/><line x1="302.5" y1="486.3" x2="308.1" y2="496.1" stroke="#58be48" stroke-width="4.2"/><line x1="308.1" y1="496.1" x2="313.7" y2="505.9" stroke="#e6e03c" stroke-width="4.2"/><line x1="348.2" y1="486.3" x2="359.1" y2="486.3" stroke="#e6e03c" stroke-width="4.2"/><line x1="359.1" y1="486.3" x2="369.9" y2="486.3" stroke="#58be48" stroke-width="4.2"/><line x1="348.2" y1="486.3" x2="341.8" y2="496.1" stroke="#a39c2c" stroke-width="4.2"/><line x1="341.8" y1="496.1" x2="335.4" y2="505.9" stroke="#3a963a" stroke-width="4.2"/><line x1="369.9" y1="486.3" x2="375.5" y2="496.1" stroke="#58be48" stroke-width="4.2"/><line x1="375.5" y1="496.1" x2="381.1" y2="505.9" stroke="#e6e03c" stroke-width="4.2"/><line x1="44.1" y1="505.9" x2="54.9" y2="505.9" stroke="#e6e03c" stroke-width="4.2"/><line x1="54.9" y1="505.9" x2="65.8" y2="505.9" stroke="#58be48" stroke-width="4.2"/><line x1="65.8" y1="505.9" x2="72.2" y2="515.8" stroke="#58be48" stroke-width="4.2"/><line x1="72.2" y1="515.8" x2="78.6" y2="525.6" stroke="#e6e03c" stroke-width="4.2"/><line x1="111.5" y1="505.9" x2="122.3" y2="505.9" stroke="#e6e03c" stroke-width="4.2"/><line x1="122.3" y1="505.9" x2="133.2" y2="505.9" stroke="#58be48" stroke-width="4.2"/><line x1="111.5" y1="505.9" x2="105.9" y2="515.8" stroke="#a39c2c" stroke-width="4.2"/><line x1="105.9" y1="515.8" x2="100.3" y2="525.6" stroke="#3a963a" stroke-width="4.2"/><line x1="133.2" y1="505.9" x2="139.6" y2="515.8" stroke="#58be48" stroke-width="4.2"/><line x1="139.6" y1="515.8" x2="146.0" y2="525.6" stroke="#e6e03c" stroke-width="4.2"/><line x1="178.9" y1="505.9" x2="189.8" y2="505.9" stroke="#e6e03c" stroke-width="4.2"/><line x1="189.8" y1="505.9" x2="200.6" y2="505.9" stroke="#58be48" stroke-width="4.2"/><line x1="178.9" y1="505.9" x2="173.3" y2="515.8" stroke="#a39c2c" stroke-width="4.2"/><line x1="173.3" y1="515.8" x2="167.7" y2="525.6" stroke="#3a963a" stroke-width="4.2"/><line x1="200.6" y1="505.9" x2="207.0" y2="515.8" stroke="#58be48" stroke-width="4.2"/><line x1="207.0" y1="515.8" x2="213.4" y2="525.6" stroke="#e6e03c" stroke-width="4.2"/><line x1="246.3" y1="505.9" x2="257.1" y2="505.9" stroke="#e6e03c" stroke-width="4.2"/><line x1="257.1" y1="505.9" x2="268.0" y2="505.9" stroke="#58be48" stroke-width="4.2"/><line x1="246.3" y1="505.9" x2="240.7" y2="515.8" stroke="#a39c2c" stroke-width="4.2"/><line x1="240.7" y1="515.8" x2="235.1" y2="525.6" stroke="#3a963a" stroke-width="4.2"/><line x1="268.0" y1="505.9" x2="274.4" y2="515.8" stroke="#58be48" stroke-width="4.2"/><line x1="274.4" y1="515.8" x2="280.8" y2="525.6" stroke="#e6e03c" stroke-width="4.2"/><line x1="313.7" y1="505.9" x2="324.6" y2="505.9" stroke="#e6e03c" stroke-width="4.2"/><line x1="324.6" y1="505.9" x2="335.4" y2="505.9" stroke="#58be48" stroke-width="4.2"/><line x1="313.7" y1="505.9" x2="308.1" y2="515.8" stroke="#a39c2c" stroke-width="4.2"/><line x1="308.1" y1="515.8" x2="302.5" y2="525.6" stroke="#3a963a" stroke-width="4.2"/><line x1="335.4" y1="505.9" x2="341.8" y2="515.8" stroke="#58be48" stroke-width="4.2"/><line x1="341.8" y1="515.8" x2="348.2" y2="525.6" stroke="#e6e03c" stroke-width="4.2"/><line x1="381.1" y1="505.9" x2="392.0" y2="505.9" stroke="#e6e03c" stroke-width="4.2"/><line x1="392.0" y1="505.9" x2="402.8" y2="505.9" stroke="#58be48" stroke-width="4.2"/><line x1="381.1" y1="505.9" x2="375.5" y2="515.8" stroke="#a39c2c" stroke-width="4.2"/><line x1="375.5" y1="515.8" x2="369.9" y2="525.6" stroke="#3a963a" stroke-width="4.2"/><line x1="78.6" y1="525.6" x2="89.4" y2="525.6" stroke="#e6e03c" stroke-width="4.2"/><line x1="89.4" y1="525.6" x2="100.3" y2="525.6" stroke="#58be48" stroke-width="4.2"/><line x1="146.0" y1="525.6" x2="156.8" y2="525.6" stroke="#e6e03c" stroke-width="4.2"/><line x1="156.8" y1="525.6" x2="167.7" y2="525.6" stroke="#58be48" stroke-width="4.2"/><line x1="213.4" y1="525.6" x2="224.2" y2="525.6" stroke="#e6e03c" stroke-width="4.2"/><line x1="224.2" y1="525.6" x2="235.1" y2="525.6" stroke="#58be48" stroke-width="4.2"/><line x1="280.8" y1="525.6" x2="291.6" y2="525.6" stroke="#e6e03c" stroke-width="4.2"/><line x1="291.6" y1="525.6" x2="302.5" y2="525.6" stroke="#58be48" stroke-width="4.2"/><line x1="348.2" y1="525.6" x2="359.1" y2="525.6" stroke="#e6e03c" stroke-width="4.2"/><line x1="359.1" y1="525.6" x2="369.9" y2="525.6" stroke="#58be48" stroke-width="4.2"/><circle cx="78.6" cy="368.4" r="6.2" fill="url(#gS)"/><circle cx="100.3" cy="368.4" r="6.4" fill="url(#gM2)"/><circle cx="146.0" cy="368.4" r="6.2" fill="url(#gS)"/><circle cx="167.7" cy="368.4" r="6.4" fill="url(#gM2)"/><circle cx="213.4" cy="368.4" r="6.2" fill="url(#gS)"/><circle cx="235.1" cy="368.4" r="6.4" fill="url(#gM2)"/><circle cx="280.8" cy="368.4" r="6.2" fill="url(#gS)"/><circle cx="302.5" cy="368.4" r="6.4" fill="url(#gM2)"/><circle cx="348.2" cy="368.4" r="6.2" fill="url(#gS)"/><circle cx="369.9" cy="368.4" r="6.4" fill="url(#gM2)"/><circle cx="44.1" cy="388.1" r="6.2" fill="url(#gS)"/><circle cx="65.8" cy="388.1" r="6.4" fill="url(#gM2)"/><circle cx="111.5" cy="388.1" r="6.2" fill="url(#gS)"/><circle cx="133.2" cy="388.1" r="6.4" fill="url(#gM2)"/><circle cx="178.9" cy="388.1" r="6.2" fill="url(#gS)"/><circle cx="200.6" cy="388.1" r="6.4" fill="url(#gM2)"/><circle cx="246.3" cy="388.1" r="6.2" fill="url(#gS)"/><circle cx="268.0" cy="388.1" r="6.4" fill="url(#gM2)"/><circle cx="313.7" cy="388.1" r="6.2" fill="url(#gS)"/><circle cx="335.4" cy="388.1" r="6.4" fill="url(#gM2)"/><circle cx="381.1" cy="388.1" r="6.2" fill="url(#gS)"/><circle cx="402.8" cy="388.1" r="6.4" fill="url(#gM2)"/><circle cx="78.6" cy="407.7" r="6.2" fill="url(#gS)"/><circle cx="100.3" cy="407.7" r="6.4" fill="url(#gM2)"/><circle cx="146.0" cy="407.7" r="6.2" fill="url(#gS)"/><circle cx="167.7" cy="407.7" r="6.4" fill="url(#gM2)"/><circle cx="213.4" cy="407.7" r="6.2" fill="url(#gS)"/><circle cx="235.1" cy="407.7" r="6.4" fill="url(#gM2)"/><circle cx="280.8" cy="407.7" r="6.2" fill="url(#gS)"/><circle cx="302.5" cy="407.7" r="6.4" fill="url(#gM2)"/><circle cx="348.2" cy="407.7" r="6.2" fill="url(#gS)"/><circle cx="369.9" cy="407.7" r="6.4" fill="url(#gM2)"/><circle cx="44.1" cy="427.3" r="6.2" fill="url(#gS)"/><circle cx="65.8" cy="427.3" r="6.4" fill="url(#gM2)"/><circle cx="111.5" cy="427.3" r="6.2" fill="url(#gS)"/><circle cx="133.2" cy="427.3" r="6.4" fill="url(#gM2)"/><circle cx="178.9" cy="427.3" r="6.2" fill="url(#gS)"/><circle cx="200.6" cy="427.3" r="6.4" fill="url(#gM2)"/><circle cx="246.3" cy="427.3" r="6.2" fill="url(#gS)"/><circle cx="268.0" cy="427.3" r="6.4" fill="url(#gM2)"/><circle cx="313.7" cy="427.3" r="6.2" fill="url(#gS)"/><circle cx="335.4" cy="427.3" r="6.4" fill="url(#gM2)"/><circle cx="381.1" cy="427.3" r="6.2" fill="url(#gS)"/><circle cx="402.8" cy="427.3" r="6.4" fill="url(#gM2)"/><circle cx="78.6" cy="447.0" r="6.2" fill="url(#gS)"/><circle cx="100.3" cy="447.0" r="6.4" fill="url(#gM2)"/><circle cx="146.0" cy="447.0" r="6.2" fill="url(#gS)"/><circle cx="167.7" cy="447.0" r="6.4" fill="url(#gM2)"/><circle cx="213.4" cy="447.0" r="6.2" fill="url(#gS)" opacity="0.6"/><circle cx="235.1" cy="447.0" r="6.4" fill="url(#gM2)"/><circle cx="280.8" cy="447.0" r="6.2" fill="url(#gS)"/><circle cx="302.5" cy="447.0" r="6.4" fill="url(#gM2)"/><circle cx="348.2" cy="447.0" r="6.2" fill="url(#gS)"/><circle cx="369.9" cy="447.0" r="6.4" fill="url(#gM2)"/><circle cx="44.1" cy="466.6" r="6.2" fill="url(#gS)"/><circle cx="65.8" cy="466.6" r="6.4" fill="url(#gM2)"/><circle cx="111.5" cy="466.6" r="6.2" fill="url(#gS)"/><circle cx="133.2" cy="466.6" r="6.4" fill="url(#gM2)"/><circle cx="178.9" cy="466.6" r="6.2" fill="url(#gS)"/><circle cx="200.6" cy="466.6" r="6.4" fill="url(#gM2)"/><circle cx="246.3" cy="466.6" r="6.2" fill="url(#gS)"/><circle cx="268.0" cy="466.6" r="6.4" fill="url(#gM2)"/><circle cx="313.7" cy="466.6" r="6.2" fill="url(#gS)"/><circle cx="335.4" cy="466.6" r="6.4" fill="url(#gM2)"/><circle cx="381.1" cy="466.6" r="6.2" fill="url(#gS)"/><circle cx="402.8" cy="466.6" r="6.4" fill="url(#gM2)"/><circle cx="78.6" cy="486.3" r="6.2" fill="url(#gS)"/><circle cx="100.3" cy="486.3" r="6.4" fill="url(#gM2)"/><circle cx="146.0" cy="486.3" r="6.2" fill="url(#gS)"/><circle cx="167.7" cy="486.3" r="6.4" fill="url(#gM2)"/><circle cx="213.4" cy="486.3" r="6.2" fill="url(#gS)"/><circle cx="235.1" cy="486.3" r="6.4" fill="url(#gM2)"/><circle cx="280.8" cy="486.3" r="6.2" fill="url(#gS)"/><circle cx="302.5" cy="486.3" r="6.4" fill="url(#gM2)"/><circle cx="348.2" cy="486.3" r="6.2" fill="url(#gS)"/><circle cx="369.9" cy="486.3" r="6.4" fill="url(#gM2)"/><circle cx="44.1" cy="505.9" r="6.2" fill="url(#gS)"/><circle cx="65.8" cy="505.9" r="6.4" fill="url(#gM2)"/><circle cx="111.5" cy="505.9" r="6.2" fill="url(#gS)"/><circle cx="133.2" cy="505.9" r="6.4" fill="url(#gM2)"/><circle cx="178.9" cy="505.9" r="6.2" fill="url(#gS)"/><circle cx="200.6" cy="505.9" r="6.4" fill="url(#gM2)"/><circle cx="246.3" cy="505.9" r="6.2" fill="url(#gS)"/><circle cx="268.0" cy="505.9" r="6.4" fill="url(#gM2)"/><circle cx="313.7" cy="505.9" r="6.2" fill="url(#gS)"/><circle cx="335.4" cy="505.9" r="6.4" fill="url(#gM2)"/><circle cx="381.1" cy="505.9" r="6.2" fill="url(#gS)"/><circle cx="402.8" cy="505.9" r="6.4" fill="url(#gM2)"/><circle cx="78.6" cy="525.6" r="6.2" fill="url(#gS)"/><circle cx="100.3" cy="525.6" r="6.4" fill="url(#gM2)"/><circle cx="146.0" cy="525.6" r="6.2" fill="url(#gS)"/><circle cx="167.7" cy="525.6" r="6.4" fill="url(#gM2)"/><circle cx="213.4" cy="525.6" r="6.2" fill="url(#gS)"/><circle cx="235.1" cy="525.6" r="6.4" fill="url(#gM2)"/><circle cx="280.8" cy="525.6" r="6.2" fill="url(#gS)"/><circle cx="302.5" cy="525.6" r="6.4" fill="url(#gM2)"/><circle cx="348.2" cy="525.6" r="6.2" fill="url(#gS)"/><circle cx="369.9" cy="525.6" r="6.4" fill="url(#gM2)"/></g><circle cx="212.6" cy="447.0" r="9.7" fill="none" stroke="#000" stroke-width="2.3" stroke-dasharray="3.6 2.4"/>
<g font-family="'DejaVu Sans', 'Liberation Sans', sans-serif" fill="#000"><text x="328.6" y="121.0" font-size="30.3">V</text><text x="349.2" y="127.4" font-size="24.4" letter-spacing="2">Mo</text></g>
<clipPath id="c3"><rect x="287.0" y="136.3" width="137.5" height="52.6"/></clipPath>
<g clip-path="url(#c3)"><line x1="287.5" y1="162.2" x2="275.5" y2="152.1" stroke="#58be48" stroke-width="3.8"/><line x1="275.5" y1="152.1" x2="263.5" y2="142.0" stroke="#e6e03c" stroke-width="3.8"/><line x1="287.5" y1="162.2" x2="275.5" y2="172.1" stroke="#58be48" stroke-width="3.8"/><line x1="275.5" y1="172.1" x2="263.5" y2="181.9" stroke="#e6e03c" stroke-width="3.8"/><line x1="287.5" y1="162.2" x2="292.6" y2="152.1" stroke="#58be48" stroke-width="3.8"/><line x1="292.6" y1="152.1" x2="297.7" y2="142.0" stroke="#e6e03c" stroke-width="3.8"/><line x1="287.5" y1="162.2" x2="292.6" y2="172.1" stroke="#58be48" stroke-width="3.8"/><line x1="292.6" y1="172.1" x2="297.7" y2="181.9" stroke="#e6e03c" stroke-width="3.8"/><line x1="321.2" y1="162.2" x2="309.4" y2="152.1" stroke="#58be48" stroke-width="3.8"/><line x1="309.4" y1="152.1" x2="297.7" y2="142.0" stroke="#e6e03c" stroke-width="3.8"/><line x1="321.2" y1="162.2" x2="309.4" y2="172.1" stroke="#58be48" stroke-width="3.8"/><line x1="309.4" y1="172.1" x2="297.7" y2="181.9" stroke="#e6e03c" stroke-width="3.8"/><line x1="321.2" y1="162.2" x2="326.6" y2="152.1" stroke="#58be48" stroke-width="3.8"/><line x1="326.6" y1="152.1" x2="332.0" y2="142.0" stroke="#e6e03c" stroke-width="3.8"/><line x1="321.2" y1="162.2" x2="326.6" y2="172.1" stroke="#58be48" stroke-width="3.8"/><line x1="326.6" y1="172.1" x2="332.0" y2="181.9" stroke="#e6e03c" stroke-width="3.8"/><line x1="389.6" y1="162.2" x2="378.6" y2="152.1" stroke="#58be48" stroke-width="3.8"/><line x1="378.6" y1="152.1" x2="367.5" y2="142.0" stroke="#e6e03c" stroke-width="3.8"/><line x1="389.6" y1="162.2" x2="378.6" y2="172.1" stroke="#58be48" stroke-width="3.8"/><line x1="378.6" y1="172.1" x2="367.5" y2="181.9" stroke="#e6e03c" stroke-width="3.8"/><line x1="389.6" y1="162.2" x2="395.3" y2="152.1" stroke="#58be48" stroke-width="3.8"/><line x1="395.3" y1="152.1" x2="401.0" y2="142.0" stroke="#e6e03c" stroke-width="3.8"/><line x1="389.6" y1="162.2" x2="395.3" y2="172.1" stroke="#58be48" stroke-width="3.8"/><line x1="395.3" y1="172.1" x2="401.0" y2="181.9" stroke="#e6e03c" stroke-width="3.8"/><line x1="423.5" y1="162.2" x2="412.2" y2="152.1" stroke="#58be48" stroke-width="3.8"/><line x1="412.2" y1="152.1" x2="401.0" y2="142.0" stroke="#e6e03c" stroke-width="3.8"/><line x1="423.5" y1="162.2" x2="412.2" y2="172.1" stroke="#58be48" stroke-width="3.8"/><line x1="412.2" y1="172.1" x2="401.0" y2="181.9" stroke="#e6e03c" stroke-width="3.8"/><line x1="423.5" y1="162.2" x2="429.2" y2="152.1" stroke="#58be48" stroke-width="3.8"/><line x1="429.2" y1="152.1" x2="435.0" y2="142.0" stroke="#e6e03c" stroke-width="3.8"/><line x1="423.5" y1="162.2" x2="429.2" y2="172.1" stroke="#58be48" stroke-width="3.8"/><line x1="429.2" y1="172.1" x2="435.0" y2="181.9" stroke="#e6e03c" stroke-width="3.8"/><line x1="457.0" y1="162.2" x2="446.0" y2="152.1" stroke="#58be48" stroke-width="3.8"/><line x1="446.0" y1="152.1" x2="435.0" y2="142.0" stroke="#e6e03c" stroke-width="3.8"/><line x1="457.0" y1="162.2" x2="446.0" y2="172.1" stroke="#58be48" stroke-width="3.8"/><line x1="446.0" y1="172.1" x2="435.0" y2="181.9" stroke="#e6e03c" stroke-width="3.8"/><circle cx="263.5" cy="142.0" r="6.2" fill="url(#gS)"/><circle cx="263.5" cy="181.9" r="6.2" fill="url(#gS)"/><circle cx="297.7" cy="142.0" r="6.2" fill="url(#gS)"/><circle cx="297.7" cy="181.9" r="6.2" fill="url(#gS)"/><circle cx="332.0" cy="142.0" r="6.2" fill="url(#gS)"/><circle cx="332.0" cy="181.9" r="6.2" fill="url(#gS)"/><circle cx="367.5" cy="142.0" r="6.2" fill="url(#gS)"/><circle cx="367.5" cy="181.9" r="6.2" fill="url(#gS)"/><circle cx="401.0" cy="142.0" r="6.2" fill="url(#gS)"/><circle cx="401.0" cy="181.9" r="6.2" fill="url(#gS)"/><circle cx="435.0" cy="142.0" r="6.2" fill="url(#gS)"/><circle cx="435.0" cy="181.9" r="6.2" fill="url(#gS)"/><circle cx="287.5" cy="162.2" r="6.8" fill="url(#gM)"/><circle cx="321.2" cy="162.2" r="6.8" fill="url(#gM)"/><circle cx="389.6" cy="162.2" r="6.8" fill="url(#gM)"/><circle cx="423.5" cy="162.2" r="6.8" fill="url(#gM)"/><circle cx="457.0" cy="162.2" r="6.8" fill="url(#gM)"/></g>
<clipPath id="c4"><rect x="287.3" y="200.0" width="137.9" height="119.0"/></clipPath>
<g clip-path="url(#c4)"><line x1="194.2" y1="178.3" x2="206.0" y2="178.3" stroke="#e6e03c" stroke-width="4.2"/><line x1="206.0" y1="178.3" x2="217.8" y2="178.3" stroke="#58be48" stroke-width="4.2"/><line x1="217.8" y1="178.3" x2="223.0" y2="188.3" stroke="#58be48" stroke-width="4.2"/><line x1="223.0" y1="188.3" x2="228.2" y2="198.2" stroke="#e6e03c" stroke-width="4.2"/><line x1="263.7" y1="178.3" x2="275.5" y2="178.3" stroke="#e6e03c" stroke-width="4.2"/><line x1="275.5" y1="178.3" x2="287.3" y2="178.3" stroke="#58be48" stroke-width="4.2"/><line x1="263.7" y1="178.3" x2="257.8" y2="188.3" stroke="#a39c2c" stroke-width="4.2"/><line x1="257.8" y1="188.3" x2="251.8" y2="198.2" stroke="#3a963a" stroke-width="4.2"/><line x1="287.3" y1="178.3" x2="292.5" y2="188.3" stroke="#58be48" stroke-width="4.2"/><line x1="292.5" y1="188.3" x2="297.7" y2="198.2" stroke="#e6e03c" stroke-width="4.2"/><line x1="333.2" y1="178.3" x2="345.0" y2="178.3" stroke="#e6e03c" stroke-width="4.2"/><line x1="345.0" y1="178.3" x2="356.8" y2="178.3" stroke="#58be48" stroke-width="4.2"/><line x1="333.2" y1="178.3" x2="327.2" y2="188.3" stroke="#a39c2c" stroke-width="4.2"/><line x1="327.2" y1="188.3" x2="321.3" y2="198.2" stroke="#3a963a" stroke-width="4.2"/><line x1="356.8" y1="178.3" x2="362.0" y2="188.3" stroke="#58be48" stroke-width="4.2"/><line x1="362.0" y1="188.3" x2="367.2" y2="198.2" stroke="#e6e03c" stroke-width="4.2"/><line x1="402.7" y1="178.3" x2="414.5" y2="178.3" stroke="#e6e03c" stroke-width="4.2"/><line x1="414.5" y1="178.3" x2="426.3" y2="178.3" stroke="#58be48" stroke-width="4.2"/><line x1="402.7" y1="178.3" x2="396.8" y2="188.3" stroke="#a39c2c" stroke-width="4.2"/><line x1="396.8" y1="188.3" x2="390.8" y2="198.2" stroke="#3a963a" stroke-width="4.2"/><line x1="426.3" y1="178.3" x2="431.5" y2="188.3" stroke="#58be48" stroke-width="4.2"/><line x1="431.5" y1="188.3" x2="436.7" y2="198.2" stroke="#e6e03c" stroke-width="4.2"/><line x1="472.2" y1="178.3" x2="484.0" y2="178.3" stroke="#e6e03c" stroke-width="4.2"/><line x1="484.0" y1="178.3" x2="495.8" y2="178.3" stroke="#58be48" stroke-width="4.2"/><line x1="472.2" y1="178.3" x2="466.2" y2="188.3" stroke="#a39c2c" stroke-width="4.2"/><line x1="466.2" y1="188.3" x2="460.3" y2="198.2" stroke="#3a963a" stroke-width="4.2"/><line x1="495.8" y1="178.3" x2="501.0" y2="188.3" stroke="#58be48" stroke-width="4.2"/><line x1="501.0" y1="188.3" x2="506.2" y2="198.2" stroke="#e6e03c" stroke-width="4.2"/><line x1="228.2" y1="198.2" x2="240.0" y2="198.2" stroke="#e6e03c" stroke-width="4.2"/><line x1="240.0" y1="198.2" x2="251.8" y2="198.2" stroke="#58be48" stroke-width="4.2"/><line x1="228.2" y1="198.2" x2="223.0" y2="208.2" stroke="#a39c2c" stroke-width="4.2"/><line x1="223.0" y1="208.2" x2="217.8" y2="218.2" stroke="#3a963a" stroke-width="4.2"/><line x1="251.8" y1="198.2" x2="257.8" y2="208.2" stroke="#58be48" stroke-width="4.2"/><line x1="257.8" y1="208.2" x2="263.7" y2="218.2" stroke="#e6e03c" stroke-width="4.2"/><line x1="297.7" y1="198.2" x2="309.5" y2="198.2" stroke="#e6e03c" stroke-width="4.2"/><line x1="309.5" y1="198.2" x2="321.3" y2="198.2" stroke="#58be48" stroke-width="4.2"/><line x1="297.7" y1="198.2" x2="292.5" y2="208.2" stroke="#a39c2c" stroke-width="4.2"/><line x1="292.5" y1="208.2" x2="287.3" y2="218.2" stroke="#3a963a" stroke-width="4.2"/><line x1="321.3" y1="198.2" x2="327.2" y2="208.2" stroke="#58be48" stroke-width="4.2"/><line x1="327.2" y1="208.2" x2="333.2" y2="218.2" stroke="#e6e03c" stroke-width="4.2"/><line x1="367.2" y1="198.2" x2="379.0" y2="198.2" stroke="#e6e03c" stroke-width="4.2"/><line x1="379.0" y1="198.2" x2="390.8" y2="198.2" stroke="#58be48" stroke-width="4.2"/><line x1="367.2" y1="198.2" x2="362.0" y2="208.2" stroke="#a39c2c" stroke-width="4.2"/><line x1="362.0" y1="208.2" x2="356.8" y2="218.2" stroke="#3a963a" stroke-width="4.2"/><line x1="390.8" y1="198.2" x2="396.8" y2="208.2" stroke="#58be48" stroke-width="4.2"/><line x1="396.8" y1="208.2" x2="402.7" y2="218.2" stroke="#e6e03c" stroke-width="4.2"/><line x1="436.7" y1="198.2" x2="448.5" y2="198.2" stroke="#e6e03c" stroke-width="4.2"/><line x1="448.5" y1="198.2" x2="460.3" y2="198.2" stroke="#58be48" stroke-width="4.2"/><line x1="436.7" y1="198.2" x2="431.5" y2="208.2" stroke="#a39c2c" stroke-width="4.2"/><line x1="431.5" y1="208.2" x2="426.3" y2="218.2" stroke="#3a963a" stroke-width="4.2"/><line x1="460.3" y1="198.2" x2="466.2" y2="208.2" stroke="#58be48" stroke-width="4.2"/><line x1="466.2" y1="208.2" x2="472.2" y2="218.2" stroke="#e6e03c" stroke-width="4.2"/><line x1="506.2" y1="198.2" x2="518.0" y2="198.2" stroke="#e6e03c" stroke-width="4.2"/><line x1="518.0" y1="198.2" x2="529.8" y2="198.2" stroke="#58be48" stroke-width="4.2"/><line x1="506.2" y1="198.2" x2="501.0" y2="208.2" stroke="#a39c2c" stroke-width="4.2"/><line x1="501.0" y1="208.2" x2="495.8" y2="218.2" stroke="#3a963a" stroke-width="4.2"/><line x1="194.2" y1="218.2" x2="206.0" y2="218.2" stroke="#e6e03c" stroke-width="4.2"/><line x1="206.0" y1="218.2" x2="217.8" y2="218.2" stroke="#58be48" stroke-width="4.2"/><line x1="217.8" y1="218.2" x2="223.0" y2="228.2" stroke="#58be48" stroke-width="4.2"/><line x1="223.0" y1="228.2" x2="228.2" y2="238.1" stroke="#e6e03c" stroke-width="4.2"/><line x1="263.7" y1="218.2" x2="275.5" y2="218.2" stroke="#e6e03c" stroke-width="4.2"/><line x1="275.5" y1="218.2" x2="287.3" y2="218.2" stroke="#58be48" stroke-width="4.2"/><line x1="263.7" y1="218.2" x2="257.8" y2="228.2" stroke="#a39c2c" stroke-width="4.2"/><line x1="257.8" y1="228.2" x2="251.8" y2="238.1" stroke="#3a963a" stroke-width="4.2"/><line x1="287.3" y1="218.2" x2="292.5" y2="228.2" stroke="#58be48" stroke-width="4.2"/><line x1="292.5" y1="228.2" x2="297.7" y2="238.1" stroke="#e6e03c" stroke-width="4.2"/><line x1="333.2" y1="218.2" x2="345.0" y2="218.2" stroke="#e6e03c" stroke-width="4.2"/><line x1="345.0" y1="218.2" x2="356.8" y2="218.2" stroke="#58be48" stroke-width="4.2"/><line x1="333.2" y1="218.2" x2="327.2" y2="228.2" stroke="#a39c2c" stroke-width="4.2"/><line x1="327.2" y1="228.2" x2="321.3" y2="238.1" stroke="#3a963a" stroke-width="4.2"/><line x1="356.8" y1="218.2" x2="362.0" y2="228.2" stroke="#58be48" stroke-width="4.2"/><line x1="362.0" y1="228.2" x2="367.2" y2="238.1" stroke="#e6e03c" stroke-width="4.2"/><line x1="402.7" y1="218.2" x2="414.5" y2="218.2" stroke="#e6e03c" stroke-width="4.2"/><line x1="414.5" y1="218.2" x2="426.3" y2="218.2" stroke="#58be48" stroke-width="4.2"/><line x1="402.7" y1="218.2" x2="396.8" y2="228.2" stroke="#a39c2c" stroke-width="4.2"/><line x1="396.8" y1="228.2" x2="390.8" y2="238.1" stroke="#3a963a" stroke-width="4.2"/><line x1="426.3" y1="218.2" x2="431.5" y2="228.2" stroke="#58be48" stroke-width="4.2"/><line x1="431.5" y1="228.2" x2="436.7" y2="238.1" stroke="#e6e03c" stroke-width="4.2"/><line x1="472.2" y1="218.2" x2="484.0" y2="218.2" stroke="#e6e03c" stroke-width="4.2"/><line x1="484.0" y1="218.2" x2="495.8" y2="218.2" stroke="#58be48" stroke-width="4.2"/><line x1="472.2" y1="218.2" x2="466.2" y2="228.2" stroke="#a39c2c" stroke-width="4.2"/><line x1="466.2" y1="228.2" x2="460.3" y2="238.1" stroke="#3a963a" stroke-width="4.2"/><line x1="495.8" y1="218.2" x2="501.0" y2="228.2" stroke="#58be48" stroke-width="4.2"/><line x1="501.0" y1="228.2" x2="506.2" y2="238.1" stroke="#e6e03c" stroke-width="4.2"/><line x1="228.2" y1="238.1" x2="240.0" y2="238.1" stroke="#e6e03c" stroke-width="4.2"/><line x1="240.0" y1="238.1" x2="251.8" y2="238.1" stroke="#58be48" stroke-width="4.2"/><line x1="228.2" y1="238.1" x2="223.0" y2="248.1" stroke="#a39c2c" stroke-width="4.2"/><line x1="223.0" y1="248.1" x2="217.8" y2="258.1" stroke="#3a963a" stroke-width="4.2"/><line x1="251.8" y1="238.1" x2="257.8" y2="248.1" stroke="#58be48" stroke-width="4.2"/><line x1="257.8" y1="248.1" x2="263.7" y2="258.1" stroke="#e6e03c" stroke-width="4.2"/><line x1="297.7" y1="238.1" x2="309.5" y2="238.1" stroke="#e6e03c" stroke-width="4.2"/><line x1="309.5" y1="238.1" x2="321.3" y2="238.1" stroke="#58be48" stroke-width="4.2"/><line x1="297.7" y1="238.1" x2="292.5" y2="248.1" stroke="#a39c2c" stroke-width="4.2"/><line x1="292.5" y1="248.1" x2="287.3" y2="258.1" stroke="#3a963a" stroke-width="4.2"/><line x1="321.3" y1="238.1" x2="327.2" y2="248.1" stroke="#58be48" stroke-width="4.2"/><line x1="327.2" y1="248.1" x2="333.2" y2="258.1" stroke="#e6e03c" stroke-width="4.2"/><line x1="367.2" y1="238.1" x2="379.0" y2="238.1" stroke="#e6e03c" stroke-width="4.2"/><line x1="379.0" y1="238.1" x2="390.8" y2="238.1" stroke="#58be48" stroke-width="4.2"/><line x1="390.8" y1="238.1" x2="396.8" y2="248.1" stroke="#58be48" stroke-width="4.2"/><line x1="396.8" y1="248.1" x2="402.7" y2="258.1" stroke="#e6e03c" stroke-width="4.2"/><line x1="436.7" y1="238.1" x2="448.5" y2="238.1" stroke="#e6e03c" stroke-width="4.2"/><line x1="448.5" y1="238.1" x2="460.3" y2="238.1" stroke="#58be48" stroke-width="4.2"/><line x1="436.7" y1="238.1" x2="431.5" y2="248.1" stroke="#a39c2c" stroke-width="4.2"/><line x1="431.5" y1="248.1" x2="426.3" y2="258.1" stroke="#3a963a" stroke-width="4.2"/><line x1="460.3" y1="238.1" x2="466.2" y2="248.1" stroke="#58be48" stroke-width="4.2"/><line x1="466.2" y1="248.1" x2="472.2" y2="258.1" stroke="#e6e03c" stroke-width="4.2"/><line x1="506.2" y1="238.1" x2="518.0" y2="238.1" stroke="#e6e03c" stroke-width="4.2"/><line x1="518.0" y1="238.1" x2="529.8" y2="238.1" stroke="#58be48" stroke-width="4.2"/><line x1="506.2" y1="238.1" x2="501.0" y2="248.1" stroke="#a39c2c" stroke-width="4.2"/><line x1="501.0" y1="248.1" x2="495.8" y2="258.1" stroke="#3a963a" stroke-width="4.2"/><line x1="194.2" y1="258.1" x2="206.0" y2="258.1" stroke="#e6e03c" stroke-width="4.2"/><line x1="206.0" y1="258.1" x2="217.8" y2="258.1" stroke="#58be48" stroke-width="4.2"/><line x1="217.8" y1="258.1" x2="223.0" y2="268.1" stroke="#58be48" stroke-width="4.2"/><line x1="223.0" y1="268.1" x2="228.2" y2="278.0" stroke="#e6e03c" stroke-width="4.2"/><line x1="263.7" y1="258.1" x2="275.5" y2="258.1" stroke="#e6e03c" stroke-width="4.2"/><line x1="275.5" y1="258.1" x2="287.3" y2="258.1" stroke="#58be48" stroke-width="4.2"/><line x1="263.7" y1="258.1" x2="257.8" y2="268.1" stroke="#a39c2c" stroke-width="4.2"/><line x1="257.8" y1="268.1" x2="251.8" y2="278.0" stroke="#3a963a" stroke-width="4.2"/><line x1="287.3" y1="258.1" x2="292.5" y2="268.1" stroke="#58be48" stroke-width="4.2"/><line x1="292.5" y1="268.1" x2="297.7" y2="278.0" stroke="#e6e03c" stroke-width="4.2"/><line x1="333.2" y1="258.1" x2="327.2" y2="268.1" stroke="#a39c2c" stroke-width="4.2"/><line x1="327.2" y1="268.1" x2="321.3" y2="278.0" stroke="#3a963a" stroke-width="4.2"/><line x1="402.7" y1="258.1" x2="414.5" y2="258.1" stroke="#e6e03c" stroke-width="4.2"/><line x1="414.5" y1="258.1" x2="426.3" y2="258.1" stroke="#58be48" stroke-width="4.2"/><line x1="402.7" y1="258.1" x2="396.8" y2="268.1" stroke="#a39c2c" stroke-width="4.2"/><line x1="396.8" y1="268.1" x2="390.8" y2="278.0" stroke="#3a963a" stroke-width="4.2"/><line x1="426.3" y1="258.1" x2="431.5" y2="268.1" stroke="#58be48" stroke-width="4.2"/><line x1="431.5" y1="268.1" x2="436.7" y2="278.0" stroke="#e6e03c" stroke-width="4.2"/><line x1="472.2" y1="258.1" x2="484.0" y2="258.1" stroke="#e6e03c" stroke-width="4.2"/><line x1="484.0" y1="258.1" x2="495.8" y2="258.1" stroke="#58be48" stroke-width="4.2"/><line x1="472.2" y1="258.1" x2="466.2" y2="268.1" stroke="#a39c2c" stroke-width="4.2"/><line x1="466.2" y1="268.1" x2="460.3" y2="278.0" stroke="#3a963a" stroke-width="4.2"/><line x1="495.8" y1="258.1" x2="501.0" y2="268.1" stroke="#58be48" stroke-width="4.2"/><line x1="501.0" y1="268.1" x2="506.2" y2="278.0" stroke="#e6e03c" stroke-width="4.2"/><line x1="228.2" y1="278.0" x2="240.0" y2="278.0" stroke="#e6e03c" stroke-width="4.2"/><line x1="240.0" y1="278.0" x2="251.8" y2="278.0" stroke="#58be48" stroke-width="4.2"/><line x1="228.2" y1="278.0" x2="223.0" y2="288.0" stroke="#a39c2c" stroke-width="4.2"/><line x1="223.0" y1="288.0" x2="217.8" y2="298.0" stroke="#3a963a" stroke-width="4.2"/><line x1="251.8" y1="278.0" x2="257.8" y2="288.0" stroke="#58be48" stroke-width="4.2"/><line x1="257.8" y1="288.0" x2="263.7" y2="298.0" stroke="#e6e03c" stroke-width="4.2"/><line x1="297.7" y1="278.0" x2="309.5" y2="278.0" stroke="#e6e03c" stroke-width="4.2"/><line x1="309.5" y1="278.0" x2="321.3" y2="278.0" stroke="#58be48" stroke-width="4.2"/><line x1="297.7" y1="278.0" x2="292.5" y2="288.0" stroke="#a39c2c" stroke-width="4.2"/><line x1="292.5" y1="288.0" x2="287.3" y2="298.0" stroke="#3a963a" stroke-width="4.2"/><line x1="321.3" y1="278.0" x2="327.2" y2="288.0" stroke="#58be48" stroke-width="4.2"/><line x1="327.2" y1="288.0" x2="333.2" y2="298.0" stroke="#e6e03c" stroke-width="4.2"/><line x1="367.2" y1="278.0" x2="379.0" y2="278.0" stroke="#e6e03c" stroke-width="4.2"/><line x1="379.0" y1="278.0" x2="390.8" y2="278.0" stroke="#58be48" stroke-width="4.2"/><line x1="367.2" y1="278.0" x2="362.0" y2="288.0" stroke="#a39c2c" stroke-width="4.2"/><line x1="362.0" y1="288.0" x2="356.8" y2="298.0" stroke="#3a963a" stroke-width="4.2"/><line x1="390.8" y1="278.0" x2="396.8" y2="288.0" stroke="#58be48" stroke-width="4.2"/><line x1="396.8" y1="288.0" x2="402.7" y2="298.0" stroke="#e6e03c" stroke-width="4.2"/><line x1="436.7" y1="278.0" x2="448.5" y2="278.0" stroke="#e6e03c" stroke-width="4.2"/><line x1="448.5" y1="278.0" x2="460.3" y2="278.0" stroke="#58be48" stroke-width="4.2"/><line x1="436.7" y1="278.0" x2="431.5" y2="288.0" stroke="#a39c2c" stroke-width="4.2"/><line x1="431.5" y1="288.0" x2="426.3" y2="298.0" stroke="#3a963a" stroke-width="4.2"/><line x1="460.3" y1="278.0" x2="466.2" y2="288.0" stroke="#58be48" stroke-width="4.2"/><line x1="466.2" y1="288.0" x2="472.2" y2="298.0" stroke="#e6e03c" stroke-width="4.2"/><line x1="506.2" y1="278.0" x2="518.0" y2="278.0" stroke="#e6e03c" stroke-width="4.2"/><line x1="518.0" y1="278.0" x2="529.8" y2="278.0" stroke="#58be48" stroke-width="4.2"/><line x1="506.2" y1="278.0" x2="501.0" y2="288.0" stroke="#a39c2c" stroke-width="4.2"/><line x1="501.0" y1="288.0" x2="495.8" y2="298.0" stroke="#3a963a" stroke-width="4.2"/><line x1="194.2" y1="298.0" x2="206.0" y2="298.0" stroke="#e6e03c" stroke-width="4.2"/><line x1="206.0" y1="298.0" x2="217.8" y2="298.0" stroke="#58be48" stroke-width="4.2"/><line x1="217.8" y1="298.0" x2="223.0" y2="308.0" stroke="#58be48" stroke-width="4.2"/><line x1="223.0" y1="308.0" x2="228.2" y2="317.9" stroke="#e6e03c" stroke-width="4.2"/><line x1="263.7" y1="298.0" x2="275.5" y2="298.0" stroke="#e6e03c" stroke-width="4.2"/><line x1="275.5" y1="298.0" x2="287.3" y2="298.0" stroke="#58be48" stroke-width="4.2"/><line x1="263.7" y1="298.0" x2="257.8" y2="308.0" stroke="#a39c2c" stroke-width="4.2"/><line x1="257.8" y1="308.0" x2="251.8" y2="317.9" stroke="#3a963a" stroke-width="4.2"/><line x1="287.3" y1="298.0" x2="292.5" y2="308.0" stroke="#58be48" stroke-width="4.2"/><line x1="292.5" y1="308.0" x2="297.7" y2="317.9" stroke="#e6e03c" stroke-width="4.2"/><line x1="333.2" y1="298.0" x2="345.0" y2="298.0" stroke="#e6e03c" stroke-width="4.2"/><line x1="345.0" y1="298.0" x2="356.8" y2="298.0" stroke="#58be48" stroke-width="4.2"/><line x1="333.2" y1="298.0" x2="327.2" y2="308.0" stroke="#a39c2c" stroke-width="4.2"/><line x1="327.2" y1="308.0" x2="321.3" y2="317.9" stroke="#3a963a" stroke-width="4.2"/><line x1="356.8" y1="298.0" x2="362.0" y2="308.0" stroke="#58be48" stroke-width="4.2"/><line x1="362.0" y1="308.0" x2="367.2" y2="317.9" stroke="#e6e03c" stroke-width="4.2"/><line x1="402.7" y1="298.0" x2="414.5" y2="298.0" stroke="#e6e03c" stroke-width="4.2"/><line x1="414.5" y1="298.0" x2="426.3" y2="298.0" stroke="#58be48" stroke-width="4.2"/><line x1="402.7" y1="298.0" x2="396.8" y2="308.0" stroke="#a39c2c" stroke-width="4.2"/><line x1="396.8" y1="308.0" x2="390.8" y2="317.9" stroke="#3a963a" stroke-width="4.2"/><line x1="426.3" y1="298.0" x2="431.5" y2="308.0" stroke="#58be48" stroke-width="4.2"/><line x1="431.5" y1="308.0" x2="436.7" y2="317.9" stroke="#e6e03c" stroke-width="4.2"/><line x1="472.2" y1="298.0" x2="484.0" y2="298.0" stroke="#e6e03c" stroke-width="4.2"/><line x1="484.0" y1="298.0" x2="495.8" y2="298.0" stroke="#58be48" stroke-width="4.2"/><line x1="472.2" y1="298.0" x2="466.2" y2="308.0" stroke="#a39c2c" stroke-width="4.2"/><line x1="466.2" y1="308.0" x2="460.3" y2="317.9" stroke="#3a963a" stroke-width="4.2"/><line x1="495.8" y1="298.0" x2="501.0" y2="308.0" stroke="#58be48" stroke-width="4.2"/><line x1="501.0" y1="308.0" x2="506.2" y2="317.9" stroke="#e6e03c" stroke-width="4.2"/><line x1="228.2" y1="317.9" x2="240.0" y2="317.9" stroke="#e6e03c" stroke-width="4.2"/><line x1="240.0" y1="317.9" x2="251.8" y2="317.9" stroke="#58be48" stroke-width="4.2"/><line x1="228.2" y1="317.9" x2="223.0" y2="327.9" stroke="#a39c2c" stroke-width="4.2"/><line x1="223.0" y1="327.9" x2="217.8" y2="337.9" stroke="#3a963a" stroke-width="4.2"/><line x1="251.8" y1="317.9" x2="257.8" y2="327.9" stroke="#58be48" stroke-width="4.2"/><line x1="257.8" y1="327.9" x2="263.7" y2="337.9" stroke="#e6e03c" stroke-width="4.2"/><line x1="297.7" y1="317.9" x2="309.5" y2="317.9" stroke="#e6e03c" stroke-width="4.2"/><line x1="309.5" y1="317.9" x2="321.3" y2="317.9" stroke="#58be48" stroke-width="4.2"/><line x1="297.7" y1="317.9" x2="292.5" y2="327.9" stroke="#a39c2c" stroke-width="4.2"/><line x1="292.5" y1="327.9" x2="287.3" y2="337.9" stroke="#3a963a" stroke-width="4.2"/><line x1="321.3" y1="317.9" x2="327.2" y2="327.9" stroke="#58be48" stroke-width="4.2"/><line x1="327.2" y1="327.9" x2="333.2" y2="337.9" stroke="#e6e03c" stroke-width="4.2"/><line x1="367.2" y1="317.9" x2="379.0" y2="317.9" stroke="#e6e03c" stroke-width="4.2"/><line x1="379.0" y1="317.9" x2="390.8" y2="317.9" stroke="#58be48" stroke-width="4.2"/><line x1="367.2" y1="317.9" x2="362.0" y2="327.9" stroke="#a39c2c" stroke-width="4.2"/><line x1="362.0" y1="327.9" x2="356.8" y2="337.9" stroke="#3a963a" stroke-width="4.2"/><line x1="390.8" y1="317.9" x2="396.8" y2="327.9" stroke="#58be48" stroke-width="4.2"/><line x1="396.8" y1="327.9" x2="402.7" y2="337.9" stroke="#e6e03c" stroke-width="4.2"/><line x1="436.7" y1="317.9" x2="448.5" y2="317.9" stroke="#e6e03c" stroke-width="4.2"/><line x1="448.5" y1="317.9" x2="460.3" y2="317.9" stroke="#58be48" stroke-width="4.2"/><line x1="436.7" y1="317.9" x2="431.5" y2="327.9" stroke="#a39c2c" stroke-width="4.2"/><line x1="431.5" y1="327.9" x2="426.3" y2="337.9" stroke="#3a963a" stroke-width="4.2"/><line x1="460.3" y1="317.9" x2="466.2" y2="327.9" stroke="#58be48" stroke-width="4.2"/><line x1="466.2" y1="327.9" x2="472.2" y2="337.9" stroke="#e6e03c" stroke-width="4.2"/><line x1="506.2" y1="317.9" x2="518.0" y2="317.9" stroke="#e6e03c" stroke-width="4.2"/><line x1="518.0" y1="317.9" x2="529.8" y2="317.9" stroke="#58be48" stroke-width="4.2"/><line x1="506.2" y1="317.9" x2="501.0" y2="327.9" stroke="#a39c2c" stroke-width="4.2"/><line x1="501.0" y1="327.9" x2="495.8" y2="337.9" stroke="#3a963a" stroke-width="4.2"/><line x1="194.2" y1="337.9" x2="206.0" y2="337.9" stroke="#e6e03c" stroke-width="4.2"/><line x1="206.0" y1="337.9" x2="217.8" y2="337.9" stroke="#58be48" stroke-width="4.2"/><line x1="217.8" y1="337.9" x2="223.0" y2="347.9" stroke="#58be48" stroke-width="4.2"/><line x1="223.0" y1="347.9" x2="228.2" y2="357.9" stroke="#e6e03c" stroke-width="4.2"/><line x1="263.7" y1="337.9" x2="275.5" y2="337.9" stroke="#e6e03c" stroke-width="4.2"/><line x1="275.5" y1="337.9" x2="287.3" y2="337.9" stroke="#58be48" stroke-width="4.2"/><line x1="263.7" y1="337.9" x2="257.8" y2="347.9" stroke="#a39c2c" stroke-width="4.2"/><line x1="257.8" y1="347.9" x2="251.8" y2="357.9" stroke="#3a963a" stroke-width="4.2"/><line x1="287.3" y1="337.9" x2="292.5" y2="347.9" stroke="#58be48" stroke-width="4.2"/><line x1="292.5" y1="347.9" x2="297.7" y2="357.9" stroke="#e6e03c" stroke-width="4.2"/><line x1="333.2" y1="337.9" x2="345.0" y2="337.9" stroke="#e6e03c" stroke-width="4.2"/><line x1="345.0" y1="337.9" x2="356.8" y2="337.9" stroke="#58be48" stroke-width="4.2"/><line x1="333.2" y1="337.9" x2="327.2" y2="347.9" stroke="#a39c2c" stroke-width="4.2"/><line x1="327.2" y1="347.9" x2="321.3" y2="357.9" stroke="#3a963a" stroke-width="4.2"/><line x1="356.8" y1="337.9" x2="362.0" y2="347.9" stroke="#58be48" stroke-width="4.2"/><line x1="362.0" y1="347.9" x2="367.2" y2="357.9" stroke="#e6e03c" stroke-width="4.2"/><line x1="402.7" y1="337.9" x2="414.5" y2="337.9" stroke="#e6e03c" stroke-width="4.2"/><line x1="414.5" y1="337.9" x2="426.3" y2="337.9" stroke="#58be48" stroke-width="4.2"/><line x1="402.7" y1="337.9" x2="396.8" y2="347.9" stroke="#a39c2c" stroke-width="4.2"/><line x1="396.8" y1="347.9" x2="390.8" y2="357.9" stroke="#3a963a" stroke-width="4.2"/><line x1="426.3" y1="337.9" x2="431.5" y2="347.9" stroke="#58be48" stroke-width="4.2"/><line x1="431.5" y1="347.9" x2="436.7" y2="357.9" stroke="#e6e03c" stroke-width="4.2"/><line x1="472.2" y1="337.9" x2="484.0" y2="337.9" stroke="#e6e03c" stroke-width="4.2"/><line x1="484.0" y1="337.9" x2="495.8" y2="337.9" stroke="#58be48" stroke-width="4.2"/><line x1="472.2" y1="337.9" x2="466.2" y2="347.9" stroke="#a39c2c" stroke-width="4.2"/><line x1="466.2" y1="347.9" x2="460.3" y2="357.9" stroke="#3a963a" stroke-width="4.2"/><line x1="495.8" y1="337.9" x2="501.0" y2="347.9" stroke="#58be48" stroke-width="4.2"/><line x1="501.0" y1="347.9" x2="506.2" y2="357.9" stroke="#e6e03c" stroke-width="4.2"/><line x1="228.2" y1="357.9" x2="240.0" y2="357.9" stroke="#e6e03c" stroke-width="4.2"/><line x1="240.0" y1="357.9" x2="251.8" y2="357.9" stroke="#58be48" stroke-width="4.2"/><line x1="297.7" y1="357.9" x2="309.5" y2="357.9" stroke="#e6e03c" stroke-width="4.2"/><line x1="309.5" y1="357.9" x2="321.3" y2="357.9" stroke="#58be48" stroke-width="4.2"/><line x1="367.2" y1="357.9" x2="379.0" y2="357.9" stroke="#e6e03c" stroke-width="4.2"/><line x1="379.0" y1="357.9" x2="390.8" y2="357.9" stroke="#58be48" stroke-width="4.2"/><line x1="436.7" y1="357.9" x2="448.5" y2="357.9" stroke="#e6e03c" stroke-width="4.2"/><line x1="448.5" y1="357.9" x2="460.3" y2="357.9" stroke="#58be48" stroke-width="4.2"/><line x1="506.2" y1="357.9" x2="518.0" y2="357.9" stroke="#e6e03c" stroke-width="4.2"/><line x1="518.0" y1="357.9" x2="529.8" y2="357.9" stroke="#58be48" stroke-width="4.2"/><circle cx="194.2" cy="178.3" r="6.2" fill="url(#gS)"/><circle cx="217.8" cy="178.3" r="6.4" fill="url(#gM2)"/><circle cx="263.7" cy="178.3" r="6.2" fill="url(#gS)"/><circle cx="287.3" cy="178.3" r="6.4" fill="url(#gM2)"/><circle cx="333.2" cy="178.3" r="6.2" fill="url(#gS)"/><circle cx="356.8" cy="178.3" r="6.4" fill="url(#gM2)"/><circle cx="402.7" cy="178.3" r="6.2" fill="url(#gS)"/><circle cx="426.3" cy="178.3" r="6.4" fill="url(#gM2)"/><circle cx="472.2" cy="178.3" r="6.2" fill="url(#gS)"/><circle cx="495.8" cy="178.3" r="6.4" fill="url(#gM2)"/><circle cx="228.2" cy="198.2" r="6.2" fill="url(#gS)"/><circle cx="251.8" cy="198.2" r="6.4" fill="url(#gM2)"/><circle cx="297.7" cy="198.2" r="6.2" fill="url(#gS)"/><circle cx="321.3" cy="198.2" r="6.4" fill="url(#gM2)"/><circle cx="367.2" cy="198.2" r="6.2" fill="url(#gS)"/><circle cx="390.8" cy="198.2" r="6.4" fill="url(#gM2)"/><circle cx="436.7" cy="198.2" r="6.2" fill="url(#gS)"/><circle cx="460.3" cy="198.2" r="6.4" fill="url(#gM2)"/><circle cx="506.2" cy="198.2" r="6.2" fill="url(#gS)"/><circle cx="529.8" cy="198.2" r="6.4" fill="url(#gM2)"/><circle cx="194.2" cy="218.2" r="6.2" fill="url(#gS)"/><circle cx="217.8" cy="218.2" r="6.4" fill="url(#gM2)"/><circle cx="263.7" cy="218.2" r="6.2" fill="url(#gS)"/><circle cx="287.3" cy="218.2" r="6.4" fill="url(#gM2)"/><circle cx="333.2" cy="218.2" r="6.2" fill="url(#gS)"/><circle cx="356.8" cy="218.2" r="6.4" fill="url(#gM2)"/><circle cx="402.7" cy="218.2" r="6.2" fill="url(#gS)"/><circle cx="426.3" cy="218.2" r="6.4" fill="url(#gM2)"/><circle cx="472.2" cy="218.2" r="6.2" fill="url(#gS)"/><circle cx="495.8" cy="218.2" r="6.4" fill="url(#gM2)"/><circle cx="228.2" cy="238.1" r="6.2" fill="url(#gS)"/><circle cx="251.8" cy="238.1" r="6.4" fill="url(#gM2)"/><circle cx="297.7" cy="238.1" r="6.2" fill="url(#gS)"/><circle cx="321.3" cy="238.1" r="6.4" fill="url(#gM2)"/><circle cx="367.2" cy="238.1" r="6.2" fill="url(#gS)"/><circle cx="390.8" cy="238.1" r="6.4" fill="url(#gM2)"/><circle cx="436.7" cy="238.1" r="6.2" fill="url(#gS)"/><circle cx="460.3" cy="238.1" r="6.4" fill="url(#gM2)"/><circle cx="506.2" cy="238.1" r="6.2" fill="url(#gS)"/><circle cx="529.8" cy="238.1" r="6.4" fill="url(#gM2)"/><circle cx="194.2" cy="258.1" r="6.2" fill="url(#gS)"/><circle cx="217.8" cy="258.1" r="6.4" fill="url(#gM2)"/><circle cx="263.7" cy="258.1" r="6.2" fill="url(#gS)"/><circle cx="287.3" cy="258.1" r="6.4" fill="url(#gM2)"/><circle cx="333.2" cy="258.1" r="6.2" fill="url(#gS)"/><circle cx="402.7" cy="258.1" r="6.2" fill="url(#gS)"/><circle cx="426.3" cy="258.1" r="6.4" fill="url(#gM2)"/><circle cx="472.2" cy="258.1" r="6.2" fill="url(#gS)"/><circle cx="495.8" cy="258.1" r="6.4" fill="url(#gM2)"/><circle cx="228.2" cy="278.0" r="6.2" fill="url(#gS)"/><circle cx="251.8" cy="278.0" r="6.4" fill="url(#gM2)"/><circle cx="297.7" cy="278.0" r="6.2" fill="url(#gS)"/><circle cx="321.3" cy="278.0" r="6.4" fill="url(#gM2)"/><circle cx="367.2" cy="278.0" r="6.2" fill="url(#gS)"/><circle cx="390.8" cy="278.0" r="6.4" fill="url(#gM2)"/><circle cx="436.7" cy="278.0" r="6.2" fill="url(#gS)"/><circle cx="460.3" cy="278.0" r="6.4" fill="url(#gM2)"/><circle cx="506.2" cy="278.0" r="6.2" fill="url(#gS)"/><circle cx="529.8" cy="278.0" r="6.4" fill="url(#gM2)"/><circle cx="194.2" cy="298.0" r="6.2" fill="url(#gS)"/><circle cx="217.8" cy="298.0" r="6.4" fill="url(#gM2)"/><circle cx="263.7" cy="298.0" r="6.2" fill="url(#gS)"/><circle cx="287.3" cy="298.0" r="6.4" fill="url(#gM2)"/><circle cx="333.2" cy="298.0" r="6.2" fill="url(#gS)"/><circle cx="356.8" cy="298.0" r="6.4" fill="url(#gM2)"/><circle cx="402.7" cy="298.0" r="6.2" fill="url(#gS)"/><circle cx="426.3" cy="298.0" r="6.4" fill="url(#gM2)"/><circle cx="472.2" cy="298.0" r="6.2" fill="url(#gS)"/><circle cx="495.8" cy="298.0" r="6.4" fill="url(#gM2)"/><circle cx="228.2" cy="317.9" r="6.2" fill="url(#gS)"/><circle cx="251.8" cy="317.9" r="6.4" fill="url(#gM2)"/><circle cx="297.7" cy="317.9" r="6.2" fill="url(#gS)"/><circle cx="321.3" cy="317.9" r="6.4" fill="url(#gM2)"/><circle cx="367.2" cy="317.9" r="6.2" fill="url(#gS)"/><circle cx="390.8" cy="317.9" r="6.4" fill="url(#gM2)"/><circle cx="436.7" cy="317.9" r="6.2" fill="url(#gS)"/><circle cx="460.3" cy="317.9" r="6.4" fill="url(#gM2)"/><circle cx="506.2" cy="317.9" r="6.2" fill="url(#gS)"/><circle cx="529.8" cy="317.9" r="6.4" fill="url(#gM2)"/><circle cx="194.2" cy="337.9" r="6.2" fill="url(#gS)"/><circle cx="217.8" cy="337.9" r="6.4" fill="url(#gM2)"/><circle cx="263.7" cy="337.9" r="6.2" fill="url(#gS)"/><circle cx="287.3" cy="337.9" r="6.4" fill="url(#gM2)"/><circle cx="333.2" cy="337.9" r="6.2" fill="url(#gS)"/><circle cx="356.8" cy="337.9" r="6.4" fill="url(#gM2)"/><circle cx="402.7" cy="337.9" r="6.2" fill="url(#gS)"/><circle cx="426.3" cy="337.9" r="6.4" fill="url(#gM2)"/><circle cx="472.2" cy="337.9" r="6.2" fill="url(#gS)"/><circle cx="495.8" cy="337.9" r="6.4" fill="url(#gM2)"/><circle cx="228.2" cy="357.9" r="6.2" fill="url(#gS)"/><circle cx="251.8" cy="357.9" r="6.4" fill="url(#gM2)"/><circle cx="297.7" cy="357.9" r="6.2" fill="url(#gS)"/><circle cx="321.3" cy="357.9" r="6.4" fill="url(#gM2)"/><circle cx="367.2" cy="357.9" r="6.2" fill="url(#gS)"/><circle cx="390.8" cy="357.9" r="6.4" fill="url(#gM2)"/><circle cx="436.7" cy="357.9" r="6.2" fill="url(#gS)"/><circle cx="460.3" cy="357.9" r="6.4" fill="url(#gM2)"/><circle cx="506.2" cy="357.9" r="6.2" fill="url(#gS)"/><circle cx="529.8" cy="357.9" r="6.4" fill="url(#gM2)"/></g><circle cx="357.9" cy="259.7" r="10.5" fill="none" stroke="#000" stroke-width="2.3" stroke-dasharray="3.6 2.4"/>
<g font-family="'DejaVu Sans', 'Liberation Sans', sans-serif" fill="#000"><text x="473.9" y="633.8" font-size="29.8">V</text><text x="494.9" y="639.5" font-size="23.9" letter-spacing="1">MoS</text><text x="547.8" y="652.1" font-size="23.6">3</text></g>
<clipPath id="c5"><rect x="450.4" y="654.5" width="135.6" height="51.5"/></clipPath>
<g clip-path="url(#c5)"><line x1="451.5" y1="681.4" x2="439.8" y2="670.3" stroke="#58be48" stroke-width="3.8"/><line x1="439.8" y1="670.3" x2="428.0" y2="659.3" stroke="#e6e03c" stroke-width="3.8"/><line x1="451.5" y1="681.4" x2="439.8" y2="689.3" stroke="#58be48" stroke-width="3.8"/><line x1="439.8" y1="689.3" x2="428.0" y2="697.3" stroke="#e6e03c" stroke-width="3.8"/><line x1="451.5" y1="681.4" x2="456.4" y2="670.3" stroke="#58be48" stroke-width="3.8"/><line x1="456.4" y1="670.3" x2="461.4" y2="659.3" stroke="#e6e03c" stroke-width="3.8"/><line x1="451.5" y1="681.4" x2="456.4" y2="689.3" stroke="#58be48" stroke-width="3.8"/><line x1="456.4" y1="689.3" x2="461.4" y2="697.3" stroke="#e6e03c" stroke-width="3.8"/><line x1="483.6" y1="681.4" x2="472.5" y2="670.3" stroke="#58be48" stroke-width="3.8"/><line x1="472.5" y1="670.3" x2="461.4" y2="659.3" stroke="#e6e03c" stroke-width="3.8"/><line x1="483.6" y1="681.4" x2="472.5" y2="689.3" stroke="#58be48" stroke-width="3.8"/><line x1="472.5" y1="689.3" x2="461.4" y2="697.3" stroke="#e6e03c" stroke-width="3.8"/><line x1="483.6" y1="681.4" x2="490.5" y2="688.3" stroke="#58be48" stroke-width="3.8"/><line x1="490.5" y1="688.3" x2="497.4" y2="695.3" stroke="#e6e03c" stroke-width="3.8"/><line x1="552.7" y1="681.4" x2="540.6" y2="688.3" stroke="#58be48" stroke-width="3.8"/><line x1="540.6" y1="688.3" x2="528.5" y2="695.3" stroke="#e6e03c" stroke-width="3.8"/><line x1="552.7" y1="681.4" x2="557.9" y2="670.3" stroke="#58be48" stroke-width="3.8"/><line x1="557.9" y1="670.3" x2="563.0" y2="659.3" stroke="#e6e03c" stroke-width="3.8"/><line x1="552.7" y1="681.4" x2="557.9" y2="689.3" stroke="#58be48" stroke-width="3.8"/><line x1="557.9" y1="689.3" x2="563.0" y2="697.3" stroke="#e6e03c" stroke-width="3.8"/><line x1="585.0" y1="681.4" x2="574.0" y2="670.3" stroke="#58be48" stroke-width="3.8"/><line x1="574.0" y1="670.3" x2="563.0" y2="659.3" stroke="#e6e03c" stroke-width="3.8"/><line x1="585.0" y1="681.4" x2="574.0" y2="689.3" stroke="#58be48" stroke-width="3.8"/><line x1="574.0" y1="689.3" x2="563.0" y2="697.3" stroke="#e6e03c" stroke-width="3.8"/><line x1="585.0" y1="681.4" x2="590.5" y2="670.3" stroke="#58be48" stroke-width="3.8"/><line x1="590.5" y1="670.3" x2="596.0" y2="659.3" stroke="#e6e03c" stroke-width="3.8"/><line x1="585.0" y1="681.4" x2="590.5" y2="689.3" stroke="#58be48" stroke-width="3.8"/><line x1="590.5" y1="689.3" x2="596.0" y2="697.3" stroke="#e6e03c" stroke-width="3.8"/><circle cx="428.0" cy="659.3" r="6.2" fill="url(#gS)"/><circle cx="428.0" cy="697.3" r="6.2" fill="url(#gS)"/><circle cx="461.4" cy="659.3" r="6.2" fill="url(#gS)"/><circle cx="461.4" cy="697.3" r="6.2" fill="url(#gS)"/><circle cx="497.4" cy="695.3" r="6.2" fill="url(#gS)"/><circle cx="528.5" cy="695.3" r="6.2" fill="url(#gS)"/><circle cx="563.0" cy="659.3" r="6.2" fill="url(#gS)"/><circle cx="563.0" cy="697.3" r="6.2" fill="url(#gS)"/><circle cx="596.0" cy="659.3" r="6.2" fill="url(#gS)"/><circle cx="596.0" cy="697.3" r="6.2" fill="url(#gS)"/><circle cx="451.5" cy="681.4" r="6.8" fill="url(#gM)"/><circle cx="483.6" cy="681.4" r="6.8" fill="url(#gM)"/><circle cx="552.7" cy="681.4" r="6.8" fill="url(#gM)"/><circle cx="585.0" cy="681.4" r="6.8" fill="url(#gM)"/></g>
<clipPath id="c6"><rect x="450.6" y="718.2" width="135.6" height="116.7"/></clipPath>
<g clip-path="url(#c6)"><line x1="361.0" y1="697.7" x2="372.5" y2="697.7" stroke="#e6e03c" stroke-width="4.2"/><line x1="372.5" y1="697.7" x2="384.0" y2="697.7" stroke="#58be48" stroke-width="4.2"/><line x1="384.0" y1="697.7" x2="389.1" y2="707.5" stroke="#58be48" stroke-width="4.2"/><line x1="389.1" y1="707.5" x2="394.3" y2="717.3" stroke="#e6e03c" stroke-width="4.2"/><line x1="428.5" y1="697.7" x2="440.0" y2="697.7" stroke="#e6e03c" stroke-width="4.2"/><line x1="440.0" y1="697.7" x2="451.5" y2="697.7" stroke="#58be48" stroke-width="4.2"/><line x1="428.5" y1="697.7" x2="422.9" y2="707.5" stroke="#a39c2c" stroke-width="4.2"/><line x1="422.9" y1="707.5" x2="417.3" y2="717.3" stroke="#3a963a" stroke-width="4.2"/><line x1="451.5" y1="697.7" x2="456.6" y2="707.5" stroke="#58be48" stroke-width="4.2"/><line x1="456.6" y1="707.5" x2="461.8" y2="717.3" stroke="#e6e03c" stroke-width="4.2"/><line x1="496.0" y1="697.7" x2="507.5" y2="697.7" stroke="#e6e03c" stroke-width="4.2"/><line x1="507.5" y1="697.7" x2="519.0" y2="697.7" stroke="#58be48" stroke-width="4.2"/><line x1="496.0" y1="697.7" x2="490.4" y2="707.5" stroke="#a39c2c" stroke-width="4.2"/><line x1="490.4" y1="707.5" x2="484.8" y2="717.3" stroke="#3a963a" stroke-width="4.2"/><line x1="519.0" y1="697.7" x2="524.1" y2="707.5" stroke="#58be48" stroke-width="4.2"/><line x1="524.1" y1="707.5" x2="529.3" y2="717.3" stroke="#e6e03c" stroke-width="4.2"/><line x1="563.5" y1="697.7" x2="575.0" y2="697.7" stroke="#e6e03c" stroke-width="4.2"/><line x1="575.0" y1="697.7" x2="586.5" y2="697.7" stroke="#58be48" stroke-width="4.2"/><line x1="563.5" y1="697.7" x2="557.9" y2="707.5" stroke="#a39c2c" stroke-width="4.2"/><line x1="557.9" y1="707.5" x2="552.3" y2="717.3" stroke="#3a963a" stroke-width="4.2"/><line x1="586.5" y1="697.7" x2="591.6" y2="707.5" stroke="#58be48" stroke-width="4.2"/><line x1="591.6" y1="707.5" x2="596.8" y2="717.3" stroke="#e6e03c" stroke-width="4.2"/><line x1="631.0" y1="697.7" x2="642.5" y2="697.7" stroke="#e6e03c" stroke-width="4.2"/><line x1="642.5" y1="697.7" x2="654.0" y2="697.7" stroke="#58be48" stroke-width="4.2"/><line x1="631.0" y1="697.7" x2="625.4" y2="707.5" stroke="#a39c2c" stroke-width="4.2"/><line x1="625.4" y1="707.5" x2="619.8" y2="717.3" stroke="#3a963a" stroke-width="4.2"/><line x1="654.0" y1="697.7" x2="659.1" y2="707.5" stroke="#58be48" stroke-width="4.2"/><line x1="659.1" y1="707.5" x2="664.3" y2="717.3" stroke="#e6e03c" stroke-width="4.2"/><line x1="394.3" y1="717.3" x2="405.8" y2="717.3" stroke="#e6e03c" stroke-width="4.2"/><line x1="405.8" y1="717.3" x2="417.3" y2="717.3" stroke="#58be48" stroke-width="4.2"/><line x1="394.3" y1="717.3" x2="389.1" y2="727.1" stroke="#a39c2c" stroke-width="4.2"/><line x1="389.1" y1="727.1" x2="384.0" y2="736.9" stroke="#3a963a" stroke-width="4.2"/><line x1="417.3" y1="717.3" x2="422.9" y2="727.1" stroke="#58be48" stroke-width="4.2"/><line x1="422.9" y1="727.1" x2="428.5" y2="736.9" stroke="#e6e03c" stroke-width="4.2"/><line x1="461.8" y1="717.3" x2="473.3" y2="717.3" stroke="#e6e03c" stroke-width="4.2"/><line x1="473.3" y1="717.3" x2="484.8" y2="717.3" stroke="#58be48" stroke-width="4.2"/><line x1="461.8" y1="717.3" x2="456.6" y2="727.1" stroke="#a39c2c" stroke-width="4.2"/><line x1="456.6" y1="727.1" x2="451.5" y2="736.9" stroke="#3a963a" stroke-width="4.2"/><line x1="484.8" y1="717.3" x2="490.4" y2="727.1" stroke="#58be48" stroke-width="4.2"/><line x1="490.4" y1="727.1" x2="496.0" y2="736.9" stroke="#e6e03c" stroke-width="4.2"/><line x1="529.3" y1="717.3" x2="540.8" y2="717.3" stroke="#e6e03c" stroke-width="4.2"/><line x1="540.8" y1="717.3" x2="552.3" y2="717.3" stroke="#58be48" stroke-width="4.2"/><line x1="529.3" y1="717.3" x2="524.1" y2="727.1" stroke="#a39c2c" stroke-width="4.2"/><line x1="524.1" y1="727.1" x2="519.0" y2="736.9" stroke="#3a963a" stroke-width="4.2"/><line x1="552.3" y1="717.3" x2="557.9" y2="727.1" stroke="#58be48" stroke-width="4.2"/><line x1="557.9" y1="727.1" x2="563.5" y2="736.9" stroke="#e6e03c" stroke-width="4.2"/><line x1="596.8" y1="717.3" x2="608.3" y2="717.3" stroke="#e6e03c" stroke-width="4.2"/><line x1="608.3" y1="717.3" x2="619.8" y2="717.3" stroke="#58be48" stroke-width="4.2"/><line x1="596.8" y1="717.3" x2="591.6" y2="727.1" stroke="#a39c2c" stroke-width="4.2"/><line x1="591.6" y1="727.1" x2="586.5" y2="736.9" stroke="#3a963a" stroke-width="4.2"/><line x1="619.8" y1="717.3" x2="625.4" y2="727.1" stroke="#58be48" stroke-width="4.2"/><line x1="625.4" y1="727.1" x2="631.0" y2="736.9" stroke="#e6e03c" stroke-width="4.2"/><line x1="664.3" y1="717.3" x2="675.8" y2="717.3" stroke="#e6e03c" stroke-width="4.2"/><line x1="675.8" y1="717.3" x2="687.3" y2="717.3" stroke="#58be48" stroke-width="4.2"/><line x1="664.3" y1="717.3" x2="659.1" y2="727.1" stroke="#a39c2c" stroke-width="4.2"/><line x1="659.1" y1="727.1" x2="654.0" y2="736.9" stroke="#3a963a" stroke-width="4.2"/><line x1="361.0" y1="736.9" x2="372.5" y2="736.9" stroke="#e6e03c" stroke-width="4.2"/><line x1="372.5" y1="736.9" x2="384.0" y2="736.9" stroke="#58be48" stroke-width="4.2"/><line x1="384.0" y1="736.9" x2="389.1" y2="746.7" stroke="#58be48" stroke-width="4.2"/><line x1="389.1" y1="746.7" x2="394.3" y2="756.5" stroke="#e6e03c" stroke-width="4.2"/><line x1="428.5" y1="736.9" x2="440.0" y2="736.9" stroke="#e6e03c" stroke-width="4.2"/><line x1="440.0" y1="736.9" x2="451.5" y2="736.9" stroke="#58be48" stroke-width="4.2"/><line x1="428.5" y1="736.9" x2="422.9" y2="746.7" stroke="#a39c2c" stroke-width="4.2"/><line x1="422.9" y1="746.7" x2="417.3" y2="756.5" stroke="#3a963a" stroke-width="4.2"/><line x1="451.5" y1="736.9" x2="456.6" y2="746.7" stroke="#58be48" stroke-width="4.2"/><line x1="456.6" y1="746.7" x2="461.8" y2="756.5" stroke="#e6e03c" stroke-width="4.2"/><line x1="496.0" y1="736.9" x2="507.5" y2="736.9" stroke="#e6e03c" stroke-width="4.2"/><line x1="507.5" y1="736.9" x2="519.0" y2="736.9" stroke="#58be48" stroke-width="4.2"/><line x1="496.0" y1="736.9" x2="490.4" y2="746.7" stroke="#a39c2c" stroke-width="4.2"/><line x1="490.4" y1="746.7" x2="484.8" y2="756.5" stroke="#3a963a" stroke-width="4.2"/><line x1="519.0" y1="736.9" x2="524.1" y2="746.7" stroke="#58be48" stroke-width="4.2"/><line x1="524.1" y1="746.7" x2="529.3" y2="756.5" stroke="#e6e03c" stroke-width="4.2"/><line x1="563.5" y1="736.9" x2="575.0" y2="736.9" stroke="#e6e03c" stroke-width="4.2"/><line x1="575.0" y1="736.9" x2="586.5" y2="736.9" stroke="#58be48" stroke-width="4.2"/><line x1="563.5" y1="736.9" x2="557.9" y2="746.7" stroke="#a39c2c" stroke-width="4.2"/><line x1="557.9" y1="746.7" x2="552.3" y2="756.5" stroke="#3a963a" stroke-width="4.2"/><line x1="586.5" y1="736.9" x2="591.6" y2="746.7" stroke="#58be48" stroke-width="4.2"/><line x1="591.6" y1="746.7" x2="596.8" y2="756.5" stroke="#e6e03c" stroke-width="4.2"/><line x1="631.0" y1="736.9" x2="642.5" y2="736.9" stroke="#e6e03c" stroke-width="4.2"/><line x1="642.5" y1="736.9" x2="654.0" y2="736.9" stroke="#58be48" stroke-width="4.2"/><line x1="631.0" y1="736.9" x2="625.4" y2="746.7" stroke="#a39c2c" stroke-width="4.2"/><line x1="625.4" y1="746.7" x2="619.8" y2="756.5" stroke="#3a963a" stroke-width="4.2"/><line x1="654.0" y1="736.9" x2="659.1" y2="746.7" stroke="#58be48" stroke-width="4.2"/><line x1="659.1" y1="746.7" x2="664.3" y2="756.5" stroke="#e6e03c" stroke-width="4.2"/><line x1="394.3" y1="756.5" x2="405.8" y2="756.5" stroke="#e6e03c" stroke-width="4.2"/><line x1="405.8" y1="756.5" x2="417.3" y2="756.5" stroke="#58be48" stroke-width="4.2"/><line x1="394.3" y1="756.5" x2="389.1" y2="766.3" stroke="#a39c2c" stroke-width="4.2"/><line x1="389.1" y1="766.3" x2="384.0" y2="776.1" stroke="#3a963a" stroke-width="4.2"/><line x1="417.3" y1="756.5" x2="422.9" y2="766.3" stroke="#58be48" stroke-width="4.2"/><line x1="422.9" y1="766.3" x2="428.5" y2="776.1" stroke="#e6e03c" stroke-width="4.2"/><line x1="461.8" y1="756.5" x2="473.3" y2="756.5" stroke="#e6e03c" stroke-width="4.2"/><line x1="473.3" y1="756.5" x2="484.8" y2="756.5" stroke="#58be48" stroke-width="4.2"/><line x1="461.8" y1="756.5" x2="456.6" y2="766.3" stroke="#a39c2c" stroke-width="4.2"/><line x1="456.6" y1="766.3" x2="451.5" y2="776.1" stroke="#3a963a" stroke-width="4.2"/><line x1="484.8" y1="756.5" x2="490.4" y2="766.3" stroke="#58be48" stroke-width="4.2"/><line x1="490.4" y1="766.3" x2="496.0" y2="776.1" stroke="#e6e03c" stroke-width="4.2"/><line x1="529.3" y1="756.5" x2="540.8" y2="756.5" stroke="#e6e03c" stroke-width="4.2"/><line x1="540.8" y1="756.5" x2="552.3" y2="756.5" stroke="#58be48" stroke-width="4.2"/><line x1="552.3" y1="756.5" x2="557.9" y2="766.3" stroke="#58be48" stroke-width="4.2"/><line x1="557.9" y1="766.3" x2="563.5" y2="776.1" stroke="#e6e03c" stroke-width="4.2"/><line x1="596.8" y1="756.5" x2="608.3" y2="756.5" stroke="#e6e03c" stroke-width="4.2"/><line x1="608.3" y1="756.5" x2="619.8" y2="756.5" stroke="#58be48" stroke-width="4.2"/><line x1="596.8" y1="756.5" x2="591.6" y2="766.3" stroke="#a39c2c" stroke-width="4.2"/><line x1="591.6" y1="766.3" x2="586.5" y2="776.1" stroke="#3a963a" stroke-width="4.2"/><line x1="619.8" y1="756.5" x2="625.4" y2="766.3" stroke="#58be48" stroke-width="4.2"/><line x1="625.4" y1="766.3" x2="631.0" y2="776.1" stroke="#e6e03c" stroke-width="4.2"/><line x1="664.3" y1="756.5" x2="675.8" y2="756.5" stroke="#e6e03c" stroke-width="4.2"/><line x1="675.8" y1="756.5" x2="687.3" y2="756.5" stroke="#58be48" stroke-width="4.2"/><line x1="664.3" y1="756.5" x2="659.1" y2="766.3" stroke="#a39c2c" stroke-width="4.2"/><line x1="659.1" y1="766.3" x2="654.0" y2="776.1" stroke="#3a963a" stroke-width="4.2"/><line x1="361.0" y1="776.1" x2="372.5" y2="776.1" stroke="#e6e03c" stroke-width="4.2"/><line x1="372.5" y1="776.1" x2="384.0" y2="776.1" stroke="#58be48" stroke-width="4.2"/><line x1="384.0" y1="776.1" x2="389.1" y2="785.9" stroke="#58be48" stroke-width="4.2"/><line x1="389.1" y1="785.9" x2="394.3" y2="795.7" stroke="#e6e03c" stroke-width="4.2"/><line x1="428.5" y1="776.1" x2="440.0" y2="776.1" stroke="#e6e03c" stroke-width="4.2"/><line x1="440.0" y1="776.1" x2="451.5" y2="776.1" stroke="#58be48" stroke-width="4.2"/><line x1="428.5" y1="776.1" x2="422.9" y2="785.9" stroke="#a39c2c" stroke-width="4.2"/><line x1="422.9" y1="785.9" x2="417.3" y2="795.7" stroke="#3a963a" stroke-width="4.2"/><line x1="451.5" y1="776.1" x2="456.6" y2="785.9" stroke="#58be48" stroke-width="4.2"/><line x1="456.6" y1="785.9" x2="461.8" y2="795.7" stroke="#e6e03c" stroke-width="4.2"/><line x1="496.0" y1="776.1" x2="490.4" y2="785.9" stroke="#a39c2c" stroke-width="4.2"/><line x1="490.4" y1="785.9" x2="484.8" y2="795.7" stroke="#3a963a" stroke-width="4.2"/><line x1="563.5" y1="776.1" x2="575.0" y2="776.1" stroke="#e6e03c" stroke-width="4.2"/><line x1="575.0" y1="776.1" x2="586.5" y2="776.1" stroke="#58be48" stroke-width="4.2"/><line x1="563.5" y1="776.1" x2="557.9" y2="785.9" stroke="#a39c2c" stroke-width="4.2"/><line x1="557.9" y1="785.9" x2="552.3" y2="795.7" stroke="#3a963a" stroke-width="4.2"/><line x1="586.5" y1="776.1" x2="591.6" y2="785.9" stroke="#58be48" stroke-width="4.2"/><line x1="591.6" y1="785.9" x2="596.8" y2="795.7" stroke="#e6e03c" stroke-width="4.2"/><line x1="631.0" y1="776.1" x2="642.5" y2="776.1" stroke="#e6e03c" stroke-width="4.2"/><line x1="642.5" y1="776.1" x2="654.0" y2="776.1" stroke="#58be48" stroke-width="4.2"/><line x1="631.0" y1="776.1" x2="625.4" y2="785.9" stroke="#a39c2c" stroke-width="4.2"/><line x1="625.4" y1="785.9" x2="619.8" y2="795.7" stroke="#3a963a" stroke-width="4.2"/><line x1="654.0" y1="776.1" x2="659.1" y2="785.9" stroke="#58be48" stroke-width="4.2"/><line x1="659.1" y1="785.9" x2="664.3" y2="795.7" stroke="#e6e03c" stroke-width="4.2"/><line x1="394.3" y1="795.7" x2="405.8" y2="795.7" stroke="#e6e03c" stroke-width="4.2"/><line x1="405.8" y1="795.7" x2="417.3" y2="795.7" stroke="#58be48" stroke-width="4.2"/><line x1="394.3" y1="795.7" x2="389.1" y2="805.5" stroke="#a39c2c" stroke-width="4.2"/><line x1="389.1" y1="805.5" x2="384.0" y2="815.3" stroke="#3a963a" stroke-width="4.2"/><line x1="417.3" y1="795.7" x2="422.9" y2="805.5" stroke="#58be48" stroke-width="4.2"/><line x1="422.9" y1="805.5" x2="428.5" y2="815.3" stroke="#e6e03c" stroke-width="4.2"/><line x1="461.8" y1="795.7" x2="473.3" y2="795.7" stroke="#e6e03c" stroke-width="4.2"/><line x1="473.3" y1="795.7" x2="484.8" y2="795.7" stroke="#58be48" stroke-width="4.2"/><line x1="461.8" y1="795.7" x2="456.6" y2="805.5" stroke="#a39c2c" stroke-width="4.2"/><line x1="456.6" y1="805.5" x2="451.5" y2="815.3" stroke="#3a963a" stroke-width="4.2"/><line x1="484.8" y1="795.7" x2="490.4" y2="805.5" stroke="#58be48" stroke-width="4.2"/><line x1="490.4" y1="805.5" x2="496.0" y2="815.3" stroke="#e6e03c" stroke-width="4.2"/><line x1="529.3" y1="795.7" x2="540.8" y2="795.7" stroke="#e6e03c" stroke-width="4.2"/><line x1="540.8" y1="795.7" x2="552.3" y2="795.7" stroke="#58be48" stroke-width="4.2"/><line x1="529.3" y1="795.7" x2="524.1" y2="805.5" stroke="#a39c2c" stroke-width="4.2"/><line x1="524.1" y1="805.5" x2="519.0" y2="815.3" stroke="#3a963a" stroke-width="4.2"/><line x1="552.3" y1="795.7" x2="557.9" y2="805.5" stroke="#58be48" stroke-width="4.2"/><line x1="557.9" y1="805.5" x2="563.5" y2="815.3" stroke="#e6e03c" stroke-width="4.2"/><line x1="596.8" y1="795.7" x2="608.3" y2="795.7" stroke="#e6e03c" stroke-width="4.2"/><line x1="608.3" y1="795.7" x2="619.8" y2="795.7" stroke="#58be48" stroke-width="4.2"/><line x1="596.8" y1="795.7" x2="591.6" y2="805.5" stroke="#a39c2c" stroke-width="4.2"/><line x1="591.6" y1="805.5" x2="586.5" y2="815.3" stroke="#3a963a" stroke-width="4.2"/><line x1="619.8" y1="795.7" x2="625.4" y2="805.5" stroke="#58be48" stroke-width="4.2"/><line x1="625.4" y1="805.5" x2="631.0" y2="815.3" stroke="#e6e03c" stroke-width="4.2"/><line x1="664.3" y1="795.7" x2="675.8" y2="795.7" stroke="#e6e03c" stroke-width="4.2"/><line x1="675.8" y1="795.7" x2="687.3" y2="795.7" stroke="#58be48" stroke-width="4.2"/><line x1="664.3" y1="795.7" x2="659.1" y2="805.5" stroke="#a39c2c" stroke-width="4.2"/><line x1="659.1" y1="805.5" x2="654.0" y2="815.3" stroke="#3a963a" stroke-width="4.2"/><line x1="361.0" y1="815.3" x2="372.5" y2="815.3" stroke="#e6e03c" stroke-width="4.2"/><line x1="372.5" y1="815.3" x2="384.0" y2="815.3" stroke="#58be48" stroke-width="4.2"/><line x1="384.0" y1="815.3" x2="389.1" y2="825.1" stroke="#58be48" stroke-width="4.2"/><line x1="389.1" y1="825.1" x2="394.3" y2="834.9" stroke="#e6e03c" stroke-width="4.2"/><line x1="428.5" y1="815.3" x2="440.0" y2="815.3" stroke="#e6e03c" stroke-width="4.2"/><line x1="440.0" y1="815.3" x2="451.5" y2="815.3" stroke="#58be48" stroke-width="4.2"/><line x1="428.5" y1="815.3" x2="422.9" y2="825.1" stroke="#a39c2c" stroke-width="4.2"/><line x1="422.9" y1="825.1" x2="417.3" y2="834.9" stroke="#3a963a" stroke-width="4.2"/><line x1="451.5" y1="815.3" x2="456.6" y2="825.1" stroke="#58be48" stroke-width="4.2"/><line x1="456.6" y1="825.1" x2="461.8" y2="834.9" stroke="#e6e03c" stroke-width="4.2"/><line x1="496.0" y1="815.3" x2="507.5" y2="815.3" stroke="#e6e03c" stroke-width="4.2"/><line x1="507.5" y1="815.3" x2="519.0" y2="815.3" stroke="#58be48" stroke-width="4.2"/><line x1="496.0" y1="815.3" x2="490.4" y2="825.1" stroke="#a39c2c" stroke-width="4.2"/><line x1="490.4" y1="825.1" x2="484.8" y2="834.9" stroke="#3a963a" stroke-width="4.2"/><line x1="519.0" y1="815.3" x2="524.1" y2="825.1" stroke="#58be48" stroke-width="4.2"/><line x1="524.1" y1="825.1" x2="529.3" y2="834.9" stroke="#e6e03c" stroke-width="4.2"/><line x1="563.5" y1="815.3" x2="575.0" y2="815.3" stroke="#e6e03c" stroke-width="4.2"/><line x1="575.0" y1="815.3" x2="586.5" y2="815.3" stroke="#58be48" stroke-width="4.2"/><line x1="563.5" y1="815.3" x2="557.9" y2="825.1" stroke="#a39c2c" stroke-width="4.2"/><line x1="557.9" y1="825.1" x2="552.3" y2="834.9" stroke="#3a963a" stroke-width="4.2"/><line x1="586.5" y1="815.3" x2="591.6" y2="825.1" stroke="#58be48" stroke-width="4.2"/><line x1="591.6" y1="825.1" x2="596.8" y2="834.9" stroke="#e6e03c" stroke-width="4.2"/><line x1="631.0" y1="815.3" x2="642.5" y2="815.3" stroke="#e6e03c" stroke-width="4.2"/><line x1="642.5" y1="815.3" x2="654.0" y2="815.3" stroke="#58be48" stroke-width="4.2"/><line x1="631.0" y1="815.3" x2="625.4" y2="825.1" stroke="#a39c2c" stroke-width="4.2"/><line x1="625.4" y1="825.1" x2="619.8" y2="834.9" stroke="#3a963a" stroke-width="4.2"/><line x1="654.0" y1="815.3" x2="659.1" y2="825.1" stroke="#58be48" stroke-width="4.2"/><line x1="659.1" y1="825.1" x2="664.3" y2="834.9" stroke="#e6e03c" stroke-width="4.2"/><line x1="394.3" y1="834.9" x2="405.8" y2="834.9" stroke="#e6e03c" stroke-width="4.2"/><line x1="405.8" y1="834.9" x2="417.3" y2="834.9" stroke="#58be48" stroke-width="4.2"/><line x1="394.3" y1="834.9" x2="389.1" y2="844.7" stroke="#a39c2c" stroke-width="4.2"/><line x1="389.1" y1="844.7" x2="384.0" y2="854.5" stroke="#3a963a" stroke-width="4.2"/><line x1="417.3" y1="834.9" x2="422.9" y2="844.7" stroke="#58be48" stroke-width="4.2"/><line x1="422.9" y1="844.7" x2="428.5" y2="854.5" stroke="#e6e03c" stroke-width="4.2"/><line x1="461.8" y1="834.9" x2="473.3" y2="834.9" stroke="#e6e03c" stroke-width="4.2"/><line x1="473.3" y1="834.9" x2="484.8" y2="834.9" stroke="#58be48" stroke-width="4.2"/><line x1="461.8" y1="834.9" x2="456.6" y2="844.7" stroke="#a39c2c" stroke-width="4.2"/><line x1="456.6" y1="844.7" x2="451.5" y2="854.5" stroke="#3a963a" stroke-width="4.2"/><line x1="484.8" y1="834.9" x2="490.4" y2="844.7" stroke="#58be48" stroke-width="4.2"/><line x1="490.4" y1="844.7" x2="496.0" y2="854.5" stroke="#e6e03c" stroke-width="4.2"/><line x1="529.3" y1="834.9" x2="540.8" y2="834.9" stroke="#e6e03c" stroke-width="4.2"/><line x1="540.8" y1="834.9" x2="552.3" y2="834.9" stroke="#58be48" stroke-width="4.2"/><line x1="529.3" y1="834.9" x2="524.1" y2="844.7" stroke="#a39c2c" stroke-width="4.2"/><line x1="524.1" y1="844.7" x2="519.0" y2="854.5" stroke="#3a963a" stroke-width="4.2"/><line x1="552.3" y1="834.9" x2="557.9" y2="844.7" stroke="#58be48" stroke-width="4.2"/><line x1="557.9" y1="844.7" x2="563.5" y2="854.5" stroke="#e6e03c" stroke-width="4.2"/><line x1="596.8" y1="834.9" x2="608.3" y2="834.9" stroke="#e6e03c" stroke-width="4.2"/><line x1="608.3" y1="834.9" x2="619.8" y2="834.9" stroke="#58be48" stroke-width="4.2"/><line x1="596.8" y1="834.9" x2="591.6" y2="844.7" stroke="#a39c2c" stroke-width="4.2"/><line x1="591.6" y1="844.7" x2="586.5" y2="854.5" stroke="#3a963a" stroke-width="4.2"/><line x1="619.8" y1="834.9" x2="625.4" y2="844.7" stroke="#58be48" stroke-width="4.2"/><line x1="625.4" y1="844.7" x2="631.0" y2="854.5" stroke="#e6e03c" stroke-width="4.2"/><line x1="664.3" y1="834.9" x2="675.8" y2="834.9" stroke="#e6e03c" stroke-width="4.2"/><line x1="675.8" y1="834.9" x2="687.3" y2="834.9" stroke="#58be48" stroke-width="4.2"/><line x1="664.3" y1="834.9" x2="659.1" y2="844.7" stroke="#a39c2c" stroke-width="4.2"/><line x1="659.1" y1="844.7" x2="654.0" y2="854.5" stroke="#3a963a" stroke-width="4.2"/><line x1="361.0" y1="854.5" x2="372.5" y2="854.5" stroke="#e6e03c" stroke-width="4.2"/><line x1="372.5" y1="854.5" x2="384.0" y2="854.5" stroke="#58be48" stroke-width="4.2"/><line x1="428.5" y1="854.5" x2="440.0" y2="854.5" stroke="#e6e03c" stroke-width="4.2"/><line x1="440.0" y1="854.5" x2="451.5" y2="854.5" stroke="#58be48" stroke-width="4.2"/><line x1="496.0" y1="854.5" x2="507.5" y2="854.5" stroke="#e6e03c" stroke-width="4.2"/><line x1="507.5" y1="854.5" x2="519.0" y2="854.5" stroke="#58be48" stroke-width="4.2"/><line x1="563.5" y1="854.5" x2="575.0" y2="854.5" stroke="#e6e03c" stroke-width="4.2"/><line x1="575.0" y1="854.5" x2="586.5" y2="854.5" stroke="#58be48" stroke-width="4.2"/><line x1="631.0" y1="854.5" x2="642.5" y2="854.5" stroke="#e6e03c" stroke-width="4.2"/><line x1="642.5" y1="854.5" x2="654.0" y2="854.5" stroke="#58be48" stroke-width="4.2"/><circle cx="361.0" cy="697.7" r="6.2" fill="url(#gS)"/><circle cx="384.0" cy="697.7" r="6.4" fill="url(#gM2)"/><circle cx="428.5" cy="697.7" r="6.2" fill="url(#gS)"/><circle cx="451.5" cy="697.7" r="6.4" fill="url(#gM2)"/><circle cx="496.0" cy="697.7" r="6.2" fill="url(#gS)"/><circle cx="519.0" cy="697.7" r="6.4" fill="url(#gM2)"/><circle cx="563.5" cy="697.7" r="6.2" fill="url(#gS)"/><circle cx="586.5" cy="697.7" r="6.4" fill="url(#gM2)"/><circle cx="631.0" cy="697.7" r="6.2" fill="url(#gS)"/><circle cx="654.0" cy="697.7" r="6.4" fill="url(#gM2)"/><circle cx="394.3" cy="717.3" r="6.2" fill="url(#gS)"/><circle cx="417.3" cy="717.3" r="6.4" fill="url(#gM2)"/><circle cx="461.8" cy="717.3" r="6.2" fill="url(#gS)"/><circle cx="484.8" cy="717.3" r="6.4" fill="url(#gM2)"/><circle cx="529.3" cy="717.3" r="6.2" fill="url(#gS)"/><circle cx="552.3" cy="717.3" r="6.4" fill="url(#gM2)"/><circle cx="596.8" cy="717.3" r="6.2" fill="url(#gS)"/><circle cx="619.8" cy="717.3" r="6.4" fill="url(#gM2)"/><circle cx="664.3" cy="717.3" r="6.2" fill="url(#gS)"/><circle cx="687.3" cy="717.3" r="6.4" fill="url(#gM2)"/><circle cx="361.0" cy="736.9" r="6.2" fill="url(#gS)"/><circle cx="384.0" cy="736.9" r="6.4" fill="url(#gM2)"/><circle cx="428.5" cy="736.9" r="6.2" fill="url(#gS)"/><circle cx="451.5" cy="736.9" r="6.4" fill="url(#gM2)"/><circle cx="496.0" cy="736.9" r="6.2" fill="url(#gS)"/><circle cx="519.0" cy="736.9" r="6.4" fill="url(#gM2)"/><circle cx="563.5" cy="736.9" r="6.2" fill="url(#gS)"/><circle cx="586.5" cy="736.9" r="6.4" fill="url(#gM2)"/><circle cx="631.0" cy="736.9" r="6.2" fill="url(#gS)"/><circle cx="654.0" cy="736.9" r="6.4" fill="url(#gM2)"/><circle cx="394.3" cy="756.5" r="6.2" fill="url(#gS)"/><circle cx="417.3" cy="756.5" r="6.4" fill="url(#gM2)"/><circle cx="461.8" cy="756.5" r="6.2" fill="url(#gS)"/><circle cx="484.8" cy="756.5" r="6.4" fill="url(#gM2)"/><circle cx="529.3" cy="756.5" r="6.2" fill="url(#gS)" opacity="0.6"/><circle cx="552.3" cy="756.5" r="6.4" fill="url(#gM2)"/><circle cx="596.8" cy="756.5" r="6.2" fill="url(#gS)"/><circle cx="619.8" cy="756.5" r="6.4" fill="url(#gM2)"/><circle cx="664.3" cy="756.5" r="6.2" fill="url(#gS)"/><circle cx="687.3" cy="756.5" r="6.4" fill="url(#gM2)"/><circle cx="361.0" cy="776.1" r="6.2" fill="url(#gS)"/><circle cx="384.0" cy="776.1" r="6.4" fill="url(#gM2)"/><circle cx="428.5" cy="776.1" r="6.2" fill="url(#gS)"/><circle cx="451.5" cy="776.1" r="6.4" fill="url(#gM2)"/><circle cx="496.0" cy="776.1" r="6.2" fill="url(#gS)" opacity="0.6"/><circle cx="563.5" cy="776.1" r="6.2" fill="url(#gS)"/><circle cx="586.5" cy="776.1" r="6.4" fill="url(#gM2)"/><circle cx="631.0" cy="776.1" r="6.2" fill="url(#gS)"/><circle cx="654.0" cy="776.1" r="6.4" fill="url(#gM2)"/><circle cx="394.3" cy="795.7" r="6.2" fill="url(#gS)"/><circle cx="417.3" cy="795.7" r="6.4" fill="url(#gM2)"/><circle cx="461.8" cy="795.7" r="6.2" fill="url(#gS)"/><circle cx="484.8" cy="795.7" r="6.4" fill="url(#gM2)"/><circle cx="529.3" cy="795.7" r="6.2" fill="url(#gS)" opacity="0.6"/><circle cx="552.3" cy="795.7" r="6.4" fill="url(#gM2)"/><circle cx="596.8" cy="795.7" r="6.2" fill="url(#gS)"/><circle cx="619.8" cy="795.7" r="6.4" fill="url(#gM2)"/><circle cx="664.3" cy="795.7" r="6.2" fill="url(#gS)"/><circle cx="687.3" cy="795.7" r="6.4" fill="url(#gM2)"/><circle cx="361.0" cy="815.3" r="6.2" fill="url(#gS)"/><circle cx="384.0" cy="815.3" r="6.4" fill="url(#gM2)"/><circle cx="428.5" cy="815.3" r="6.2" fill="url(#gS)"/><circle cx="451.5" cy="815.3" r="6.4" fill="url(#gM2)"/><circle cx="496.0" cy="815.3" r="6.2" fill="url(#gS)"/><circle cx="519.0" cy="815.3" r="6.4" fill="url(#gM2)"/><circle cx="563.5" cy="815.3" r="6.2" fill="url(#gS)"/><circle cx="586.5" cy="815.3" r="6.4" fill="url(#gM2)"/><circle cx="631.0" cy="815.3" r="6.2" fill="url(#gS)"/><circle cx="654.0" cy="815.3" r="6.4" fill="url(#gM2)"/><circle cx="394.3" cy="834.9" r="6.2" fill="url(#gS)"/><circle cx="417.3" cy="834.9" r="6.4" fill="url(#gM2)"/><circle cx="461.8" cy="834.9" r="6.2" fill="url(#gS)"/><circle cx="484.8" cy="834.9" r="6.4" fill="url(#gM2)"/><circle cx="529.3" cy="834.9" r="6.2" fill="url(#gS)"/><circle cx="552.3" cy="834.9" r="6.4" fill="url(#gM2)"/><circle cx="596.8" cy="834.9" r="6.2" fill="url(#gS)"/><circle cx="619.8" cy="834.9" r="6.4" fill="url(#gM2)"/><circle cx="664.3" cy="834.9" r="6.2" fill="url(#gS)"/><circle cx="687.3" cy="834.9" r="6.4" fill="url(#gM2)"/><circle cx="361.0" cy="854.5" r="6.2" fill="url(#gS)"/><circle cx="384.0" cy="854.5" r="6.4" fill="url(#gM2)"/><circle cx="428.5" cy="854.5" r="6.2" fill="url(#gS)"/><circle cx="451.5" cy="854.5" r="6.4" fill="url(#gM2)"/><circle cx="496.0" cy="854.5" r="6.2" fill="url(#gS)"/><circle cx="519.0" cy="854.5" r="6.4" fill="url(#gM2)"/><circle cx="563.5" cy="854.5" r="6.2" fill="url(#gS)"/><circle cx="586.5" cy="854.5" r="6.4" fill="url(#gM2)"/><circle cx="631.0" cy="854.5" r="6.2" fill="url(#gS)"/><circle cx="654.0" cy="854.5" r="6.4" fill="url(#gM2)"/></g><circle cx="528.6" cy="758.2" r="9.9" fill="none" stroke="#000" stroke-width="2.3" stroke-dasharray="3.6 2.4"/><circle cx="497.5" cy="776.8" r="9.9" fill="none" stroke="#000" stroke-width="2.3" stroke-dasharray="3.6 2.4"/><circle cx="528.6" cy="795.4" r="9.9" fill="none" stroke="#000" stroke-width="2.3" stroke-dasharray="3.6 2.4"/><circle cx="518.5" cy="777.3" r="9.9" fill="none" stroke="#000" stroke-width="2.3" stroke-dasharray="3.6 2.4"/>
<g font-family="'DejaVu Sans', 'Liberation Sans', sans-serif" fill="#000"><text x="661.8" y="172.0" font-size="29.3">S</text><text x="680.3" y="178.0" font-size="24.3" letter-spacing="1">Mo</text></g>
<clipPath id="c7"><rect x="628.9" y="185.0" width="135.0" height="51.3"/></clipPath>
<g clip-path="url(#c7)"><line x1="629.5" y1="209.7" x2="617.2" y2="200.2" stroke="#58be48" stroke-width="3.8"/><line x1="617.2" y1="200.2" x2="605.0" y2="190.7" stroke="#e6e03c" stroke-width="3.8"/><line x1="629.5" y1="209.7" x2="617.2" y2="219.2" stroke="#58be48" stroke-width="3.8"/><line x1="617.2" y1="219.2" x2="605.0" y2="228.7" stroke="#e6e03c" stroke-width="3.8"/><line x1="629.5" y1="209.7" x2="634.2" y2="200.2" stroke="#58be48" stroke-width="3.8"/><line x1="634.2" y1="200.2" x2="639.0" y2="190.7" stroke="#e6e03c" stroke-width="3.8"/><line x1="629.5" y1="209.7" x2="634.2" y2="219.2" stroke="#58be48" stroke-width="3.8"/><line x1="634.2" y1="219.2" x2="639.0" y2="228.7" stroke="#e6e03c" stroke-width="3.8"/><line x1="661.8" y1="209.7" x2="650.4" y2="200.2" stroke="#58be48" stroke-width="3.8"/><line x1="650.4" y1="200.2" x2="639.0" y2="190.7" stroke="#e6e03c" stroke-width="3.8"/><line x1="661.8" y1="209.7" x2="650.4" y2="219.2" stroke="#58be48" stroke-width="3.8"/><line x1="650.4" y1="219.2" x2="639.0" y2="228.7" stroke="#e6e03c" stroke-width="3.8"/><line x1="661.8" y1="209.7" x2="667.5" y2="200.2" stroke="#58be48" stroke-width="3.8"/><line x1="667.5" y1="200.2" x2="673.2" y2="190.7" stroke="#e6e03c" stroke-width="3.8"/><line x1="661.8" y1="209.7" x2="667.5" y2="219.2" stroke="#58be48" stroke-width="3.8"/><line x1="667.5" y1="219.2" x2="673.2" y2="228.7" stroke="#e6e03c" stroke-width="3.8"/><line x1="695.4" y1="209.7" x2="684.3" y2="200.2" stroke="#e6e03c" stroke-width="3.8"/><line x1="684.3" y1="200.2" x2="673.2" y2="190.7" stroke="#e6e03c" stroke-width="3.8"/><line x1="695.4" y1="209.7" x2="684.3" y2="219.2" stroke="#e6e03c" stroke-width="3.8"/><line x1="684.3" y1="219.2" x2="673.2" y2="228.7" stroke="#e6e03c" stroke-width="3.8"/><line x1="695.4" y1="209.7" x2="701.1" y2="200.2" stroke="#e6e03c" stroke-width="3.8"/><line x1="701.1" y1="200.2" x2="706.8" y2="190.7" stroke="#e6e03c" stroke-width="3.8"/><line x1="695.4" y1="209.7" x2="701.1" y2="219.2" stroke="#e6e03c" stroke-width="3.8"/><line x1="701.1" y1="219.2" x2="706.8" y2="228.7" stroke="#e6e03c" stroke-width="3.8"/><line x1="730.3" y1="209.7" x2="718.5" y2="200.2" stroke="#58be48" stroke-width="3.8"/><line x1="718.5" y1="200.2" x2="706.8" y2="190.7" stroke="#e6e03c" stroke-width="3.8"/><line x1="730.3" y1="209.7" x2="718.5" y2="219.2" stroke="#58be48" stroke-width="3.8"/><line x1="718.5" y1="219.2" x2="706.8" y2="228.7" stroke="#e6e03c" stroke-width="3.8"/><line x1="730.3" y1="209.7" x2="735.6" y2="200.2" stroke="#58be48" stroke-width="3.8"/><line x1="735.6" y1="200.2" x2="741.0" y2="190.7" stroke="#e6e03c" stroke-width="3.8"/><line x1="730.3" y1="209.7" x2="735.6" y2="219.2" stroke="#58be48" stroke-width="3.8"/><line x1="735.6" y1="219.2" x2="741.0" y2="228.7" stroke="#e6e03c" stroke-width="3.8"/><line x1="763.5" y1="209.7" x2="752.2" y2="200.2" stroke="#58be48" stroke-width="3.8"/><line x1="752.2" y1="200.2" x2="741.0" y2="190.7" stroke="#e6e03c" stroke-width="3.8"/><line x1="763.5" y1="209.7" x2="752.2" y2="219.2" stroke="#58be48" stroke-width="3.8"/><line x1="752.2" y1="219.2" x2="741.0" y2="228.7" stroke="#e6e03c" stroke-width="3.8"/><line x1="763.5" y1="209.7" x2="769.2" y2="200.2" stroke="#58be48" stroke-width="3.8"/><line x1="769.2" y1="200.2" x2="775.0" y2="190.7" stroke="#e6e03c" stroke-width="3.8"/><line x1="763.5" y1="209.7" x2="769.2" y2="219.2" stroke="#58be48" stroke-width="3.8"/><line x1="769.2" y1="219.2" x2="775.0" y2="228.7" stroke="#e6e03c" stroke-width="3.8"/><circle cx="605.0" cy="190.7" r="6.2" fill="url(#gS)"/><circle cx="605.0" cy="228.7" r="6.2" fill="url(#gS)"/><circle cx="639.0" cy="190.7" r="6.2" fill="url(#gS)"/><circle cx="639.0" cy="228.7" r="6.2" fill="url(#gS)"/><circle cx="673.2" cy="190.7" r="6.2" fill="url(#gS)"/><circle cx="673.2" cy="228.7" r="6.2" fill="url(#gS)"/><circle cx="706.8" cy="190.7" r="6.2" fill="url(#gS)"/><circle cx="706.8" cy="228.7" r="6.2" fill="url(#gS)"/><circle cx="741.0" cy="190.7" r="6.2" fill="url(#gS)"/><circle cx="741.0" cy="228.7" r="6.2" fill="url(#gS)"/><circle cx="775.0" cy="190.7" r="6.2" fill="url(#gS)"/><circle cx="775.0" cy="228.7" r="6.2" fill="url(#gS)"/><circle cx="629.5" cy="209.7" r="6.8" fill="url(#gM)"/><circle cx="661.8" cy="209.7" r="6.8" fill="url(#gM)"/><circle cx="695.4" cy="209.7" r="6.2" fill="url(#gS)"/><circle cx="730.3" cy="209.7" r="6.8" fill="url(#gM)"/><circle cx="763.5" cy="209.7" r="6.8" fill="url(#gM)"/></g>
<clipPath id="c8"><rect x="629.1" y="252.2" width="135.0" height="117.4"/></clipPath>
<g clip-path="url(#c8)"><line x1="537.2" y1="231.8" x2="548.6" y2="231.8" stroke="#e6e03c" stroke-width="4.2"/><line x1="548.6" y1="231.8" x2="560.0" y2="231.8" stroke="#58be48" stroke-width="4.2"/><line x1="560.0" y1="231.8" x2="565.2" y2="241.6" stroke="#58be48" stroke-width="4.2"/><line x1="565.2" y1="241.6" x2="570.5" y2="251.4" stroke="#e6e03c" stroke-width="4.2"/><line x1="605.4" y1="231.8" x2="616.8" y2="231.8" stroke="#e6e03c" stroke-width="4.2"/><line x1="616.8" y1="231.8" x2="628.2" y2="231.8" stroke="#58be48" stroke-width="4.2"/><line x1="605.4" y1="231.8" x2="599.3" y2="241.6" stroke="#a39c2c" stroke-width="4.2"/><line x1="599.3" y1="241.6" x2="593.3" y2="251.4" stroke="#3a963a" stroke-width="4.2"/><line x1="628.2" y1="231.8" x2="633.4" y2="241.6" stroke="#58be48" stroke-width="4.2"/><line x1="633.4" y1="241.6" x2="638.7" y2="251.4" stroke="#e6e03c" stroke-width="4.2"/><line x1="673.6" y1="231.8" x2="685.0" y2="231.8" stroke="#e6e03c" stroke-width="4.2"/><line x1="685.0" y1="231.8" x2="696.4" y2="231.8" stroke="#58be48" stroke-width="4.2"/><line x1="673.6" y1="231.8" x2="667.5" y2="241.6" stroke="#a39c2c" stroke-width="4.2"/><line x1="667.5" y1="241.6" x2="661.5" y2="251.4" stroke="#3a963a" stroke-width="4.2"/><line x1="696.4" y1="231.8" x2="701.6" y2="241.6" stroke="#58be48" stroke-width="4.2"/><line x1="701.6" y1="241.6" x2="706.9" y2="251.4" stroke="#e6e03c" stroke-width="4.2"/><line x1="741.8" y1="231.8" x2="753.2" y2="231.8" stroke="#e6e03c" stroke-width="4.2"/><line x1="753.2" y1="231.8" x2="764.6" y2="231.8" stroke="#58be48" stroke-width="4.2"/><line x1="741.8" y1="231.8" x2="735.8" y2="241.6" stroke="#a39c2c" stroke-width="4.2"/><line x1="735.8" y1="241.6" x2="729.7" y2="251.4" stroke="#3a963a" stroke-width="4.2"/><line x1="764.6" y1="231.8" x2="769.9" y2="241.6" stroke="#58be48" stroke-width="4.2"/><line x1="769.9" y1="241.6" x2="775.1" y2="251.4" stroke="#e6e03c" stroke-width="4.2"/><line x1="810.0" y1="231.8" x2="821.4" y2="231.8" stroke="#e6e03c" stroke-width="4.2"/><line x1="821.4" y1="231.8" x2="832.8" y2="231.8" stroke="#58be48" stroke-width="4.2"/><line x1="810.0" y1="231.8" x2="804.0" y2="241.6" stroke="#a39c2c" stroke-width="4.2"/><line x1="804.0" y1="241.6" x2="797.9" y2="251.4" stroke="#3a963a" stroke-width="4.2"/><line x1="832.8" y1="231.8" x2="838.0" y2="241.6" stroke="#58be48" stroke-width="4.2"/><line x1="838.0" y1="241.6" x2="843.3" y2="251.4" stroke="#e6e03c" stroke-width="4.2"/><line x1="570.5" y1="251.4" x2="581.9" y2="251.4" stroke="#e6e03c" stroke-width="4.2"/><line x1="581.9" y1="251.4" x2="593.3" y2="251.4" stroke="#58be48" stroke-width="4.2"/><line x1="570.5" y1="251.4" x2="565.2" y2="261.2" stroke="#a39c2c" stroke-width="4.2"/><line x1="565.2" y1="261.2" x2="560.0" y2="271.0" stroke="#3a963a" stroke-width="4.2"/><line x1="593.3" y1="251.4" x2="599.3" y2="261.2" stroke="#58be48" stroke-width="4.2"/><line x1="599.3" y1="261.2" x2="605.4" y2="271.0" stroke="#e6e03c" stroke-width="4.2"/><line x1="638.7" y1="251.4" x2="650.1" y2="251.4" stroke="#e6e03c" stroke-width="4.2"/><line x1="650.1" y1="251.4" x2="661.5" y2="251.4" stroke="#58be48" stroke-width="4.2"/><line x1="638.7" y1="251.4" x2="633.4" y2="261.2" stroke="#a39c2c" stroke-width="4.2"/><line x1="633.4" y1="261.2" x2="628.2" y2="271.0" stroke="#3a963a" stroke-width="4.2"/><line x1="661.5" y1="251.4" x2="667.5" y2="261.2" stroke="#58be48" stroke-width="4.2"/><line x1="667.5" y1="261.2" x2="673.6" y2="271.0" stroke="#e6e03c" stroke-width="4.2"/><line x1="706.9" y1="251.4" x2="718.3" y2="251.4" stroke="#e6e03c" stroke-width="4.2"/><line x1="718.3" y1="251.4" x2="729.7" y2="251.4" stroke="#58be48" stroke-width="4.2"/><line x1="706.9" y1="251.4" x2="701.6" y2="261.2" stroke="#a39c2c" stroke-width="4.2"/><line x1="701.6" y1="261.2" x2="696.4" y2="271.0" stroke="#3a963a" stroke-width="4.2"/><line x1="729.7" y1="251.4" x2="735.8" y2="261.2" stroke="#58be48" stroke-width="4.2"/><line x1="735.8" y1="261.2" x2="741.8" y2="271.0" stroke="#e6e03c" stroke-width="4.2"/><line x1="775.1" y1="251.4" x2="786.5" y2="251.4" stroke="#e6e03c" stroke-width="4.2"/><line x1="786.5" y1="251.4" x2="797.9" y2="251.4" stroke="#58be48" stroke-width="4.2"/><line x1="775.1" y1="251.4" x2="769.9" y2="261.2" stroke="#a39c2c" stroke-width="4.2"/><line x1="769.9" y1="261.2" x2="764.6" y2="271.0" stroke="#3a963a" stroke-width="4.2"/><line x1="797.9" y1="251.4" x2="804.0" y2="261.2" stroke="#58be48" stroke-width="4.2"/><line x1="804.0" y1="261.2" x2="810.0" y2="271.0" stroke="#e6e03c" stroke-width="4.2"/><line x1="843.3" y1="251.4" x2="854.7" y2="251.4" stroke="#e6e03c" stroke-width="4.2"/><line x1="854.7" y1="251.4" x2="866.1" y2="251.4" stroke="#58be48" stroke-width="4.2"/><line x1="843.3" y1="251.4" x2="838.0" y2="261.2" stroke="#a39c2c" stroke-width="4.2"/><line x1="838.0" y1="261.2" x2="832.8" y2="271.0" stroke="#3a963a" stroke-width="4.2"/><line x1="537.2" y1="271.0" x2="548.6" y2="271.0" stroke="#e6e03c" stroke-width="4.2"/><line x1="548.6" y1="271.0" x2="560.0" y2="271.0" stroke="#58be48" stroke-width="4.2"/><line x1="560.0" y1="271.0" x2="565.2" y2="280.8" stroke="#58be48" stroke-width="4.2"/><line x1="565.2" y1="280.8" x2="570.5" y2="290.6" stroke="#e6e03c" stroke-width="4.2"/><line x1="605.4" y1="271.0" x2="616.8" y2="271.0" stroke="#e6e03c" stroke-width="4.2"/><line x1="616.8" y1="271.0" x2="628.2" y2="271.0" stroke="#58be48" stroke-width="4.2"/><line x1="605.4" y1="271.0" x2="599.3" y2="280.8" stroke="#a39c2c" stroke-width="4.2"/><line x1="599.3" y1="280.8" x2="593.3" y2="290.6" stroke="#3a963a" stroke-width="4.2"/><line x1="628.2" y1="271.0" x2="633.4" y2="280.8" stroke="#58be48" stroke-width="4.2"/><line x1="633.4" y1="280.8" x2="638.7" y2="290.6" stroke="#e6e03c" stroke-width="4.2"/><line x1="673.6" y1="271.0" x2="685.0" y2="271.0" stroke="#e6e03c" stroke-width="4.2"/><line x1="685.0" y1="271.0" x2="696.4" y2="271.0" stroke="#58be48" stroke-width="4.2"/><line x1="673.6" y1="271.0" x2="667.5" y2="280.8" stroke="#a39c2c" stroke-width="4.2"/><line x1="667.5" y1="280.8" x2="661.5" y2="290.6" stroke="#3a963a" stroke-width="4.2"/><line x1="696.4" y1="271.0" x2="701.6" y2="280.8" stroke="#58be48" stroke-width="4.2"/><line x1="701.6" y1="280.8" x2="706.9" y2="290.6" stroke="#e6e03c" stroke-width="4.2"/><line x1="741.8" y1="271.0" x2="753.2" y2="271.0" stroke="#e6e03c" stroke-width="4.2"/><line x1="753.2" y1="271.0" x2="764.6" y2="271.0" stroke="#58be48" stroke-width="4.2"/><line x1="741.8" y1="271.0" x2="735.8" y2="280.8" stroke="#a39c2c" stroke-width="4.2"/><line x1="735.8" y1="280.8" x2="729.7" y2="290.6" stroke="#3a963a" stroke-width="4.2"/><line x1="764.6" y1="271.0" x2="769.9" y2="280.8" stroke="#58be48" stroke-width="4.2"/><line x1="769.9" y1="280.8" x2="775.1" y2="290.6" stroke="#e6e03c" stroke-width="4.2"/><line x1="810.0" y1="271.0" x2="821.4" y2="271.0" stroke="#e6e03c" stroke-width="4.2"/><line x1="821.4" y1="271.0" x2="832.8" y2="271.0" stroke="#58be48" stroke-width="4.2"/><line x1="810.0" y1="271.0" x2="804.0" y2="280.8" stroke="#a39c2c" stroke-width="4.2"/><line x1="804.0" y1="280.8" x2="797.9" y2="290.6" stroke="#3a963a" stroke-width="4.2"/><line x1="832.8" y1="271.0" x2="838.0" y2="280.8" stroke="#58be48" stroke-width="4.2"/><line x1="838.0" y1="280.8" x2="843.3" y2="290.6" stroke="#e6e03c" stroke-width="4.2"/><line x1="570.5" y1="290.6" x2="581.9" y2="290.6" stroke="#e6e03c" stroke-width="4.2"/><line x1="581.9" y1="290.6" x2="593.3" y2="290.6" stroke="#58be48" stroke-width="4.2"/><line x1="570.5" y1="290.6" x2="565.2" y2="300.4" stroke="#a39c2c" stroke-width="4.2"/><line x1="565.2" y1="300.4" x2="560.0" y2="310.2" stroke="#3a963a" stroke-width="4.2"/><line x1="593.3" y1="290.6" x2="599.3" y2="300.4" stroke="#58be48" stroke-width="4.2"/><line x1="599.3" y1="300.4" x2="605.4" y2="310.2" stroke="#e6e03c" stroke-width="4.2"/><line x1="638.7" y1="290.6" x2="650.1" y2="290.6" stroke="#e6e03c" stroke-width="4.2"/><line x1="650.1" y1="290.6" x2="661.5" y2="290.6" stroke="#58be48" stroke-width="4.2"/><line x1="638.7" y1="290.6" x2="633.4" y2="300.4" stroke="#a39c2c" stroke-width="4.2"/><line x1="633.4" y1="300.4" x2="628.2" y2="310.2" stroke="#3a963a" stroke-width="4.2"/><line x1="661.5" y1="290.6" x2="667.5" y2="300.4" stroke="#58be48" stroke-width="4.2"/><line x1="667.5" y1="300.4" x2="673.6" y2="310.2" stroke="#e6e03c" stroke-width="4.2"/><line x1="706.9" y1="290.6" x2="718.3" y2="290.6" stroke="#e6e03c" stroke-width="4.2"/><line x1="718.3" y1="290.6" x2="729.7" y2="290.6" stroke="#58be48" stroke-width="4.2"/><line x1="706.9" y1="290.6" x2="701.6" y2="300.4" stroke="#a39c2c" stroke-width="4.2"/><line x1="701.6" y1="300.4" x2="696.4" y2="310.2" stroke="#a39c2c" stroke-width="4.2"/><line x1="729.7" y1="290.6" x2="735.8" y2="300.4" stroke="#58be48" stroke-width="4.2"/><line x1="735.8" y1="300.4" x2="741.8" y2="310.2" stroke="#e6e03c" stroke-width="4.2"/><line x1="775.1" y1="290.6" x2="786.5" y2="290.6" stroke="#e6e03c" stroke-width="4.2"/><line x1="786.5" y1="290.6" x2="797.9" y2="290.6" stroke="#58be48" stroke-width="4.2"/><line x1="775.1" y1="290.6" x2="769.9" y2="300.4" stroke="#a39c2c" stroke-width="4.2"/><line x1="769.9" y1="300.4" x2="764.6" y2="310.2" stroke="#3a963a" stroke-width="4.2"/><line x1="797.9" y1="290.6" x2="804.0" y2="300.4" stroke="#58be48" stroke-width="4.2"/><line x1="804.0" y1="300.4" x2="810.0" y2="310.2" stroke="#e6e03c" stroke-width="4.2"/><line x1="843.3" y1="290.6" x2="854.7" y2="290.6" stroke="#e6e03c" stroke-width="4.2"/><line x1="854.7" y1="290.6" x2="866.1" y2="290.6" stroke="#58be48" stroke-width="4.2"/><line x1="843.3" y1="290.6" x2="838.0" y2="300.4" stroke="#a39c2c" stroke-width="4.2"/><line x1="838.0" y1="300.4" x2="832.8" y2="310.2" stroke="#3a963a" stroke-width="4.2"/><line x1="537.2" y1="310.2" x2="548.6" y2="310.2" stroke="#e6e03c" stroke-width="4.2"/><line x1="548.6" y1="310.2" x2="560.0" y2="310.2" stroke="#58be48" stroke-width="4.2"/><line x1="560.0" y1="310.2" x2="565.2" y2="320.0" stroke="#58be48" stroke-width="4.2"/><line x1="565.2" y1="320.0" x2="570.5" y2="329.8" stroke="#e6e03c" stroke-width="4.2"/><line x1="605.4" y1="310.2" x2="616.8" y2="310.2" stroke="#e6e03c" stroke-width="4.2"/><line x1="616.8" y1="310.2" x2="628.2" y2="310.2" stroke="#58be48" stroke-width="4.2"/><line x1="605.4" y1="310.2" x2="599.3" y2="320.0" stroke="#a39c2c" stroke-width="4.2"/><line x1="599.3" y1="320.0" x2="593.3" y2="329.8" stroke="#3a963a" stroke-width="4.2"/><line x1="628.2" y1="310.2" x2="633.4" y2="320.0" stroke="#58be48" stroke-width="4.2"/><line x1="633.4" y1="320.0" x2="638.7" y2="329.8" stroke="#e6e03c" stroke-width="4.2"/><line x1="673.6" y1="310.2" x2="685.0" y2="310.2" stroke="#e6e03c" stroke-width="4.2"/><line x1="685.0" y1="310.2" x2="696.4" y2="310.2" stroke="#e6e03c" stroke-width="4.2"/><line x1="673.6" y1="310.2" x2="667.5" y2="320.0" stroke="#a39c2c" stroke-width="4.2"/><line x1="667.5" y1="320.0" x2="661.5" y2="329.8" stroke="#3a963a" stroke-width="4.2"/><line x1="696.4" y1="310.2" x2="701.6" y2="320.0" stroke="#e6e03c" stroke-width="4.2"/><line x1="701.6" y1="320.0" x2="706.9" y2="329.8" stroke="#e6e03c" stroke-width="4.2"/><line x1="741.8" y1="310.2" x2="753.2" y2="310.2" stroke="#e6e03c" stroke-width="4.2"/><line x1="753.2" y1="310.2" x2="764.6" y2="310.2" stroke="#58be48" stroke-width="4.2"/><line x1="741.8" y1="310.2" x2="735.8" y2="320.0" stroke="#a39c2c" stroke-width="4.2"/><line x1="735.8" y1="320.0" x2="729.7" y2="329.8" stroke="#3a963a" stroke-width="4.2"/><line x1="764.6" y1="310.2" x2="769.9" y2="320.0" stroke="#58be48" stroke-width="4.2"/><line x1="769.9" y1="320.0" x2="775.1" y2="329.8" stroke="#e6e03c" stroke-width="4.2"/><line x1="810.0" y1="310.2" x2="821.4" y2="310.2" stroke="#e6e03c" stroke-width="4.2"/><line x1="821.4" y1="310.2" x2="832.8" y2="310.2" stroke="#58be48" stroke-width="4.2"/><line x1="810.0" y1="310.2" x2="804.0" y2="320.0" stroke="#a39c2c" stroke-width="4.2"/><line x1="804.0" y1="320.0" x2="797.9" y2="329.8" stroke="#3a963a" stroke-width="4.2"/><line x1="832.8" y1="310.2" x2="838.0" y2="320.0" stroke="#58be48" stroke-width="4.2"/><line x1="838.0" y1="320.0" x2="843.3" y2="329.8" stroke="#e6e03c" stroke-width="4.2"/><line x1="570.5" y1="329.8" x2="581.9" y2="329.8" stroke="#e6e03c" stroke-width="4.2"/><line x1="581.9" y1="329.8" x2="593.3" y2="329.8" stroke="#58be48" stroke-width="4.2"/><line x1="570.5" y1="329.8" x2="565.2" y2="339.6" stroke="#a39c2c" stroke-width="4.2"/><line x1="565.2" y1="339.6" x2="560.0" y2="349.4" stroke="#3a963a" stroke-width="4.2"/><line x1="593.3" y1="329.8" x2="599.3" y2="339.6" stroke="#58be48" stroke-width="4.2"/><line x1="599.3" y1="339.6" x2="605.4" y2="349.4" stroke="#e6e03c" stroke-width="4.2"/><line x1="638.7" y1="329.8" x2="650.1" y2="329.8" stroke="#e6e03c" stroke-width="4.2"/><line x1="650.1" y1="329.8" x2="661.5" y2="329.8" stroke="#58be48" stroke-width="4.2"/><line x1="638.7" y1="329.8" x2="633.4" y2="339.6" stroke="#a39c2c" stroke-width="4.2"/><line x1="633.4" y1="339.6" x2="628.2" y2="349.4" stroke="#3a963a" stroke-width="4.2"/><line x1="661.5" y1="329.8" x2="667.5" y2="339.6" stroke="#58be48" stroke-width="4.2"/><line x1="667.5" y1="339.6" x2="673.6" y2="349.4" stroke="#e6e03c" stroke-width="4.2"/><line x1="706.9" y1="329.8" x2="718.3" y2="329.8" stroke="#e6e03c" stroke-width="4.2"/><line x1="718.3" y1="329.8" x2="729.7" y2="329.8" stroke="#58be48" stroke-width="4.2"/><line x1="706.9" y1="329.8" x2="701.6" y2="339.6" stroke="#a39c2c" stroke-width="4.2"/><line x1="701.6" y1="339.6" x2="696.4" y2="349.4" stroke="#3a963a" stroke-width="4.2"/><line x1="729.7" y1="329.8" x2="735.8" y2="339.6" stroke="#58be48" stroke-width="4.2"/><line x1="735.8" y1="339.6" x2="741.8" y2="349.4" stroke="#e6e03c" stroke-width="4.2"/><line x1="775.1" y1="329.8" x2="786.5" y2="329.8" stroke="#e6e03c" stroke-width="4.2"/><line x1="786.5" y1="329.8" x2="797.9" y2="329.8" stroke="#58be48" stroke-width="4.2"/><line x1="775.1" y1="329.8" x2="769.9" y2="339.6" stroke="#a39c2c" stroke-width="4.2"/><line x1="769.9" y1="339.6" x2="764.6" y2="349.4" stroke="#3a963a" stroke-width="4.2"/><line x1="797.9" y1="329.8" x2="804.0" y2="339.6" stroke="#58be48" stroke-width="4.2"/><line x1="804.0" y1="339.6" x2="810.0" y2="349.4" stroke="#e6e03c" stroke-width="4.2"/><line x1="843.3" y1="329.8" x2="854.7" y2="329.8" stroke="#e6e03c" stroke-width="4.2"/><line x1="854.7" y1="329.8" x2="866.1" y2="329.8" stroke="#58be48" stroke-width="4.2"/><line x1="843.3" y1="329.8" x2="838.0" y2="339.6" stroke="#a39c2c" stroke-width="4.2"/><line x1="838.0" y1="339.6" x2="832.8" y2="349.4" stroke="#3a963a" stroke-width="4.2"/><line x1="537.2" y1="349.4" x2="548.6" y2="349.4" stroke="#e6e03c" stroke-width="4.2"/><line x1="548.6" y1="349.4" x2="560.0" y2="349.4" stroke="#58be48" stroke-width="4.2"/><line x1="560.0" y1="349.4" x2="565.2" y2="359.2" stroke="#58be48" stroke-width="4.2"/><line x1="565.2" y1="359.2" x2="570.5" y2="369.0" stroke="#e6e03c" stroke-width="4.2"/><line x1="605.4" y1="349.4" x2="616.8" y2="349.4" stroke="#e6e03c" stroke-width="4.2"/><line x1="616.8" y1="349.4" x2="628.2" y2="349.4" stroke="#58be48" stroke-width="4.2"/><line x1="605.4" y1="349.4" x2="599.3" y2="359.2" stroke="#a39c2c" stroke-width="4.2"/><line x1="599.3" y1="359.2" x2="593.3" y2="369.0" stroke="#3a963a" stroke-width="4.2"/><line x1="628.2" y1="349.4" x2="633.4" y2="359.2" stroke="#58be48" stroke-width="4.2"/><line x1="633.4" y1="359.2" x2="638.7" y2="369.0" stroke="#e6e03c" stroke-width="4.2"/><line x1="673.6" y1="349.4" x2="685.0" y2="349.4" stroke="#e6e03c" stroke-width="4.2"/><line x1="685.0" y1="349.4" x2="696.4" y2="349.4" stroke="#58be48" stroke-width="4.2"/><line x1="673.6" y1="349.4" x2="667.5" y2="359.2" stroke="#a39c2c" stroke-width="4.2"/><line x1="667.5" y1="359.2" x2="661.5" y2="369.0" stroke="#3a963a" stroke-width="4.2"/><line x1="696.4" y1="349.4" x2="701.6" y2="359.2" stroke="#58be48" stroke-width="4.2"/><line x1="701.6" y1="359.2" x2="706.9" y2="369.0" stroke="#e6e03c" stroke-width="4.2"/><line x1="741.8" y1="349.4" x2="753.2" y2="349.4" stroke="#e6e03c" stroke-width="4.2"/><line x1="753.2" y1="349.4" x2="764.6" y2="349.4" stroke="#58be48" stroke-width="4.2"/><line x1="741.8" y1="349.4" x2="735.8" y2="359.2" stroke="#a39c2c" stroke-width="4.2"/><line x1="735.8" y1="359.2" x2="729.7" y2="369.0" stroke="#3a963a" stroke-width="4.2"/><line x1="764.6" y1="349.4" x2="769.9" y2="359.2" stroke="#58be48" stroke-width="4.2"/><line x1="769.9" y1="359.2" x2="775.1" y2="369.0" stroke="#e6e03c" stroke-width="4.2"/><line x1="810.0" y1="349.4" x2="821.4" y2="349.4" stroke="#e6e03c" stroke-width="4.2"/><line x1="821.4" y1="349.4" x2="832.8" y2="349.4" stroke="#58be48" stroke-width="4.2"/><line x1="810.0" y1="349.4" x2="804.0" y2="359.2" stroke="#a39c2c" stroke-width="4.2"/><line x1="804.0" y1="359.2" x2="797.9" y2="369.0" stroke="#3a963a" stroke-width="4.2"/><line x1="832.8" y1="349.4" x2="838.0" y2="359.2" stroke="#58be48" stroke-width="4.2"/><line x1="838.0" y1="359.2" x2="843.3" y2="369.0" stroke="#e6e03c" stroke-width="4.2"/><line x1="570.5" y1="369.0" x2="581.9" y2="369.0" stroke="#e6e03c" stroke-width="4.2"/><line x1="581.9" y1="369.0" x2="593.3" y2="369.0" stroke="#58be48" stroke-width="4.2"/><line x1="570.5" y1="369.0" x2="565.2" y2="378.8" stroke="#a39c2c" stroke-width="4.2"/><line x1="565.2" y1="378.8" x2="560.0" y2="388.6" stroke="#3a963a" stroke-width="4.2"/><line x1="593.3" y1="369.0" x2="599.3" y2="378.8" stroke="#58be48" stroke-width="4.2"/><line x1="599.3" y1="378.8" x2="605.4" y2="388.6" stroke="#e6e03c" stroke-width="4.2"/><line x1="638.7" y1="369.0" x2="650.1" y2="369.0" stroke="#e6e03c" stroke-width="4.2"/><line x1="650.1" y1="369.0" x2="661.5" y2="369.0" stroke="#58be48" stroke-width="4.2"/><line x1="638.7" y1="369.0" x2="633.4" y2="378.8" stroke="#a39c2c" stroke-width="4.2"/><line x1="633.4" y1="378.8" x2="628.2" y2="388.6" stroke="#3a963a" stroke-width="4.2"/><line x1="661.5" y1="369.0" x2="667.5" y2="378.8" stroke="#58be48" stroke-width="4.2"/><line x1="667.5" y1="378.8" x2="673.6" y2="388.6" stroke="#e6e03c" stroke-width="4.2"/><line x1="706.9" y1="369.0" x2="718.3" y2="369.0" stroke="#e6e03c" stroke-width="4.2"/><line x1="718.3" y1="369.0" x2="729.7" y2="369.0" stroke="#58be48" stroke-width="4.2"/><line x1="706.9" y1="369.0" x2="701.6" y2="378.8" stroke="#a39c2c" stroke-width="4.2"/><line x1="701.6" y1="378.8" x2="696.4" y2="388.6" stroke="#3a963a" stroke-width="4.2"/><line x1="729.7" y1="369.0" x2="735.8" y2="378.8" stroke="#58be48" stroke-width="4.2"/><line x1="735.8" y1="378.8" x2="741.8" y2="388.6" stroke="#e6e03c" stroke-width="4.2"/><line x1="775.1" y1="369.0" x2="786.5" y2="369.0" stroke="#e6e03c" stroke-width="4.2"/><line x1="786.5" y1="369.0" x2="797.9" y2="369.0" stroke="#58be48" stroke-width="4.2"/><line x1="775.1" y1="369.0" x2="769.9" y2="378.8" stroke="#a39c2c" stroke-width="4.2"/><line x1="769.9" y1="378.8" x2="764.6" y2="388.6" stroke="#3a963a" stroke-width="4.2"/><line x1="797.9" y1="369.0" x2="804.0" y2="378.8" stroke="#58be48" stroke-width="4.2"/><line x1="804.0" y1="378.8" x2="810.0" y2="388.6" stroke="#e6e03c" stroke-width="4.2"/><line x1="843.3" y1="369.0" x2="854.7" y2="369.0" stroke="#e6e03c" stroke-width="4.2"/><line x1="854.7" y1="369.0" x2="866.1" y2="369.0" stroke="#58be48" stroke-width="4.2"/><line x1="843.3" y1="369.0" x2="838.0" y2="378.8" stroke="#a39c2c" stroke-width="4.2"/><line x1="838.0" y1="378.8" x2="832.8" y2="388.6" stroke="#3a963a" stroke-width="4.2"/><line x1="537.2" y1="388.6" x2="548.6" y2="388.6" stroke="#e6e03c" stroke-width="4.2"/><line x1="548.6" y1="388.6" x2="560.0" y2="388.6" stroke="#58be48" stroke-width="4.2"/><line x1="560.0" y1="388.6" x2="565.2" y2="398.4" stroke="#58be48" stroke-width="4.2"/><line x1="565.2" y1="398.4" x2="570.5" y2="408.2" stroke="#e6e03c" stroke-width="4.2"/><line x1="605.4" y1="388.6" x2="616.8" y2="388.6" stroke="#e6e03c" stroke-width="4.2"/><line x1="616.8" y1="388.6" x2="628.2" y2="388.6" stroke="#58be48" stroke-width="4.2"/><line x1="605.4" y1="388.6" x2="599.3" y2="398.4" stroke="#a39c2c" stroke-width="4.2"/><line x1="599.3" y1="398.4" x2="593.3" y2="408.2" stroke="#3a963a" stroke-width="4.2"/><line x1="628.2" y1="388.6" x2="633.4" y2="398.4" stroke="#58be48" stroke-width="4.2"/><line x1="633.4" y1="398.4" x2="638.7" y2="408.2" stroke="#e6e03c" stroke-width="4.2"/><line x1="673.6" y1="388.6" x2="685.0" y2="388.6" stroke="#e6e03c" stroke-width="4.2"/><line x1="685.0" y1="388.6" x2="696.4" y2="388.6" stroke="#58be48" stroke-width="4.2"/><line x1="673.6" y1="388.6" x2="667.5" y2="398.4" stroke="#a39c2c" stroke-width="4.2"/><line x1="667.5" y1="398.4" x2="661.5" y2="408.2" stroke="#3a963a" stroke-width="4.2"/><line x1="696.4" y1="388.6" x2="701.6" y2="398.4" stroke="#58be48" stroke-width="4.2"/><line x1="701.6" y1="398.4" x2="706.9" y2="408.2" stroke="#e6e03c" stroke-width="4.2"/><line x1="741.8" y1="388.6" x2="753.2" y2="388.6" stroke="#e6e03c" stroke-width="4.2"/><line x1="753.2" y1="388.6" x2="764.6" y2="388.6" stroke="#58be48" stroke-width="4.2"/><line x1="741.8" y1="388.6" x2="735.8" y2="398.4" stroke="#a39c2c" stroke-width="4.2"/><line x1="735.8" y1="398.4" x2="729.7" y2="408.2" stroke="#3a963a" stroke-width="4.2"/><line x1="764.6" y1="388.6" x2="769.9" y2="398.4" stroke="#58be48" stroke-width="4.2"/><line x1="769.9" y1="398.4" x2="775.1" y2="408.2" stroke="#e6e03c" stroke-width="4.2"/><line x1="810.0" y1="388.6" x2="821.4" y2="388.6" stroke="#e6e03c" stroke-width="4.2"/><line x1="821.4" y1="388.6" x2="832.8" y2="388.6" stroke="#58be48" stroke-width="4.2"/><line x1="810.0" y1="388.6" x2="804.0" y2="398.4" stroke="#a39c2c" stroke-width="4.2"/><line x1="804.0" y1="398.4" x2="797.9" y2="408.2" stroke="#3a963a" stroke-width="4.2"/><line x1="832.8" y1="388.6" x2="838.0" y2="398.4" stroke="#58be48" stroke-width="4.2"/><line x1="838.0" y1="398.4" x2="843.3" y2="408.2" stroke="#e6e03c" stroke-width="4.2"/><line x1="570.5" y1="408.2" x2="581.9" y2="408.2" stroke="#e6e03c" stroke-width="4.2"/><line x1="581.9" y1="408.2" x2="593.3" y2="408.2" stroke="#58be48" stroke-width="4.2"/><line x1="638.7" y1="408.2" x2="650.1" y2="408.2" stroke="#e6e03c" stroke-width="4.2"/><line x1="650.1" y1="408.2" x2="661.5" y2="408.2" stroke="#58be48" stroke-width="4.2"/><line x1="706.9" y1="408.2" x2="718.3" y2="408.2" stroke="#e6e03c" stroke-width="4.2"/><line x1="718.3" y1="408.2" x2="729.7" y2="408.2" stroke="#58be48" stroke-width="4.2"/><line x1="775.1" y1="408.2" x2="786.5" y2="408.2" stroke="#e6e03c" stroke-width="4.2"/><line x1="786.5" y1="408.2" x2="797.9" y2="408.2" stroke="#58be48" stroke-width="4.2"/><line x1="843.3" y1="408.2" x2="854.7" y2="408.2" stroke="#e6e03c" stroke-width="4.2"/><line x1="854.7" y1="408.2" x2="866.1" y2="408.2" stroke="#58be48" stroke-width="4.2"/><circle cx="537.2" cy="231.8" r="6.2" fill="url(#gS)"/><circle cx="560.0" cy="231.8" r="6.4" fill="url(#gM2)"/><circle cx="605.4" cy="231.8" r="6.2" fill="url(#gS)"/><circle cx="628.2" cy="231.8" r="6.4" fill="url(#gM2)"/><circle cx="673.6" cy="231.8" r="6.2" fill="url(#gS)"/><circle cx="696.4" cy="231.8" r="6.4" fill="url(#gM2)"/><circle cx="741.8" cy="231.8" r="6.2" fill="url(#gS)"/><circle cx="764.6" cy="231.8" r="6.4" fill="url(#gM2)"/><circle cx="810.0" cy="231.8" r="6.2" fill="url(#gS)"/><circle cx="832.8" cy="231.8" r="6.4" fill="url(#gM2)"/><circle cx="570.5" cy="251.4" r="6.2" fill="url(#gS)"/><circle cx="593.3" cy="251.4" r="6.4" fill="url(#gM2)"/><circle cx="638.7" cy="251.4" r="6.2" fill="url(#gS)"/><circle cx="661.5" cy="251.4" r="6.4" fill="url(#gM2)"/><circle cx="706.9" cy="251.4" r="6.2" fill="url(#gS)"/><circle cx="729.7" cy="251.4" r="6.4" fill="url(#gM2)"/><circle cx="775.1" cy="251.4" r="6.2" fill="url(#gS)"/><circle cx="797.9" cy="251.4" r="6.4" fill="url(#gM2)"/><circle cx="843.3" cy="251.4" r="6.2" fill="url(#gS)"/><circle cx="866.1" cy="251.4" r="6.4" fill="url(#gM2)"/><circle cx="537.2" cy="271.0" r="6.2" fill="url(#gS)"/><circle cx="560.0" cy="271.0" r="6.4" fill="url(#gM2)"/><circle cx="605.4" cy="271.0" r="6.2" fill="url(#gS)"/><circle cx="628.2" cy="271.0" r="6.4" fill="url(#gM2)"/><circle cx="673.6" cy="271.0" r="6.2" fill="url(#gS)"/><circle cx="696.4" cy="271.0" r="6.4" fill="url(#gM2)"/><circle cx="741.8" cy="271.0" r="6.2" fill="url(#gS)"/><circle cx="764.6" cy="271.0" r="6.4" fill="url(#gM2)"/><circle cx="810.0" cy="271.0" r="6.2" fill="url(#gS)"/><circle cx="832.8" cy="271.0" r="6.4" fill="url(#gM2)"/><circle cx="570.5" cy="290.6" r="6.2" fill="url(#gS)"/><circle cx="593.3" cy="290.6" r="6.4" fill="url(#gM2)"/><circle cx="638.7" cy="290.6" r="6.2" fill="url(#gS)"/><circle cx="661.5" cy="290.6" r="6.4" fill="url(#gM2)"/><circle cx="706.9" cy="290.6" r="6.2" fill="url(#gS)"/><circle cx="729.7" cy="290.6" r="6.4" fill="url(#gM2)"/><circle cx="775.1" cy="290.6" r="6.2" fill="url(#gS)"/><circle cx="797.9" cy="290.6" r="6.4" fill="url(#gM2)"/><circle cx="843.3" cy="290.6" r="6.2" fill="url(#gS)"/><circle cx="866.1" cy="290.6" r="6.4" fill="url(#gM2)"/><circle cx="537.2" cy="310.2" r="6.2" fill="url(#gS)"/><circle cx="560.0" cy="310.2" r="6.4" fill="url(#gM2)"/><circle cx="605.4" cy="310.2" r="6.2" fill="url(#gS)"/><circle cx="628.2" cy="310.2" r="6.4" fill="url(#gM2)"/><circle cx="673.6" cy="310.2" r="6.2" fill="url(#gS)"/><circle cx="696.4" cy="310.2" r="6.2" fill="url(#gS)"/><circle cx="741.8" cy="310.2" r="6.2" fill="url(#gS)"/><circle cx="764.6" cy="310.2" r="6.4" fill="url(#gM2)"/><circle cx="810.0" cy="310.2" r="6.2" fill="url(#gS)"/><circle cx="832.8" cy="310.2" r="6.4" fill="url(#gM2)"/><circle cx="570.5" cy="329.8" r="6.2" fill="url(#gS)"/><circle cx="593.3" cy="329.8" r="6.4" fill="url(#gM2)"/><circle cx="638.7" cy="329.8" r="6.2" fill="url(#gS)"/><circle cx="661.5" cy="329.8" r="6.4" fill="url(#gM2)"/><circle cx="706.9" cy="329.8" r="6.2" fill="url(#gS)"/><circle cx="729.7" cy="329.8" r="6.4" fill="url(#gM2)"/><circle cx="775.1" cy="329.8" r="6.2" fill="url(#gS)"/><circle cx="797.9" cy="329.8" r="6.4" fill="url(#gM2)"/><circle cx="843.3" cy="329.8" r="6.2" fill="url(#gS)"/><circle cx="866.1" cy="329.8" r="6.4" fill="url(#gM2)"/><circle cx="537.2" cy="349.4" r="6.2" fill="url(#gS)"/><circle cx="560.0" cy="349.4" r="6.4" fill="url(#gM2)"/><circle cx="605.4" cy="349.4" r="6.2" fill="url(#gS)"/><circle cx="628.2" cy="349.4" r="6.4" fill="url(#gM2)"/><circle cx="673.6" cy="349.4" r="6.2" fill="url(#gS)"/><circle cx="696.4" cy="349.4" r="6.4" fill="url(#gM2)"/><circle cx="741.8" cy="349.4" r="6.2" fill="url(#gS)"/><circle cx="764.6" cy="349.4" r="6.4" fill="url(#gM2)"/><circle cx="810.0" cy="349.4" r="6.2" fill="url(#gS)"/><circle cx="832.8" cy="349.4" r="6.4" fill="url(#gM2)"/><circle cx="570.5" cy="369.0" r="6.2" fill="url(#gS)"/><circle cx="593.3" cy="369.0" r="6.4" fill="url(#gM2)"/><circle cx="638.7" cy="369.0" r="6.2" fill="url(#gS)"/><circle cx="661.5" cy="369.0" r="6.4" fill="url(#gM2)"/><circle cx="706.9" cy="369.0" r="6.2" fill="url(#gS)"/><circle cx="729.7" cy="369.0" r="6.4" fill="url(#gM2)"/><circle cx="775.1" cy="369.0" r="6.2" fill="url(#gS)"/><circle cx="797.9" cy="369.0" r="6.4" fill="url(#gM2)"/><circle cx="843.3" cy="369.0" r="6.2" fill="url(#gS)"/><circle cx="866.1" cy="369.0" r="6.4" fill="url(#gM2)"/><circle cx="537.2" cy="388.6" r="6.2" fill="url(#gS)"/><circle cx="560.0" cy="388.6" r="6.4" fill="url(#gM2)"/><circle cx="605.4" cy="388.6" r="6.2" fill="url(#gS)"/><circle cx="628.2" cy="388.6" r="6.4" fill="url(#gM2)"/><circle cx="673.6" cy="388.6" r="6.2" fill="url(#gS)"/><circle cx="696.4" cy="388.6" r="6.4" fill="url(#gM2)"/><circle cx="741.8" cy="388.6" r="6.2" fill="url(#gS)"/><circle cx="764.6" cy="388.6" r="6.4" fill="url(#gM2)"/><circle cx="810.0" cy="388.6" r="6.2" fill="url(#gS)"/><circle cx="832.8" cy="388.6" r="6.4" fill="url(#gM2)"/><circle cx="570.5" cy="408.2" r="6.2" fill="url(#gS)"/><circle cx="593.3" cy="408.2" r="6.4" fill="url(#gM2)"/><circle cx="638.7" cy="408.2" r="6.2" fill="url(#gS)"/><circle cx="661.5" cy="408.2" r="6.4" fill="url(#gM2)"/><circle cx="706.9" cy="408.2" r="6.2" fill="url(#gS)"/><circle cx="729.7" cy="408.2" r="6.4" fill="url(#gM2)"/><circle cx="775.1" cy="408.2" r="6.2" fill="url(#gS)"/><circle cx="797.9" cy="408.2" r="6.4" fill="url(#gM2)"/><circle cx="843.3" cy="408.2" r="6.2" fill="url(#gS)"/><circle cx="866.1" cy="408.2" r="6.4" fill="url(#gM2)"/></g><circle cx="696.8" cy="311.5" r="10.0" fill="none" stroke="#000" stroke-width="2.3" stroke-dasharray="3.6 2.4"/>
<g font-family="'DejaVu Sans', 'Liberation Sans', sans-serif" fill="#000"><text x="792.9" y="394.8" font-size="32.4">Mo</text><text x="840.0" y="401.0" font-size="26.0">S</text></g>
<clipPath id="c9"><rect x="756.2" y="406.9" width="133.9" height="55.8"/></clipPath>
<g clip-path="url(#c9)"><line x1="744.0" y1="436.0" x2="734.5" y2="426.5" stroke="#58be48" stroke-width="3.8"/><line x1="734.5" y1="426.5" x2="725.0" y2="417.0" stroke="#e6e03c" stroke-width="3.8"/><line x1="744.0" y1="436.0" x2="734.5" y2="446.1" stroke="#58be48" stroke-width="3.8"/><line x1="734.5" y1="446.1" x2="725.0" y2="456.3" stroke="#e6e03c" stroke-width="3.8"/><line x1="744.0" y1="436.0" x2="751.5" y2="426.5" stroke="#58be48" stroke-width="3.8"/><line x1="751.5" y1="426.5" x2="759.0" y2="417.0" stroke="#e6e03c" stroke-width="3.8"/><line x1="744.0" y1="436.0" x2="751.5" y2="446.1" stroke="#58be48" stroke-width="3.8"/><line x1="751.5" y1="446.1" x2="759.0" y2="456.3" stroke="#e6e03c" stroke-width="3.8"/><line x1="778.0" y1="436.0" x2="768.5" y2="426.5" stroke="#58be48" stroke-width="3.8"/><line x1="768.5" y1="426.5" x2="759.0" y2="417.0" stroke="#e6e03c" stroke-width="3.8"/><line x1="778.0" y1="436.0" x2="768.5" y2="446.1" stroke="#58be48" stroke-width="3.8"/><line x1="768.5" y1="446.1" x2="759.0" y2="456.3" stroke="#e6e03c" stroke-width="3.8"/><line x1="778.0" y1="436.0" x2="783.8" y2="426.5" stroke="#58be48" stroke-width="3.8"/><line x1="783.8" y1="426.5" x2="789.6" y2="417.0" stroke="#e6e03c" stroke-width="3.8"/><line x1="778.0" y1="436.0" x2="783.8" y2="446.1" stroke="#58be48" stroke-width="3.8"/><line x1="783.8" y1="446.1" x2="789.6" y2="456.3" stroke="#e6e03c" stroke-width="3.8"/><line x1="812.2" y1="436.0" x2="800.9" y2="426.5" stroke="#58be48" stroke-width="3.8"/><line x1="800.9" y1="426.5" x2="789.6" y2="417.0" stroke="#e6e03c" stroke-width="3.8"/><line x1="812.2" y1="436.0" x2="800.9" y2="446.1" stroke="#58be48" stroke-width="3.8"/><line x1="800.9" y1="446.1" x2="789.6" y2="456.3" stroke="#e6e03c" stroke-width="3.8"/><line x1="812.2" y1="436.0" x2="817.6" y2="446.1" stroke="#58be48" stroke-width="3.8"/><line x1="817.6" y1="446.1" x2="823.0" y2="456.3" stroke="#e6e03c" stroke-width="3.8"/><line x1="845.1" y1="436.0" x2="834.0" y2="446.1" stroke="#58be48" stroke-width="3.8"/><line x1="834.0" y1="446.1" x2="823.0" y2="456.3" stroke="#e6e03c" stroke-width="3.8"/><line x1="845.1" y1="436.0" x2="850.5" y2="426.5" stroke="#58be48" stroke-width="3.8"/><line x1="850.5" y1="426.5" x2="855.9" y2="417.0" stroke="#e6e03c" stroke-width="3.8"/><line x1="845.1" y1="436.0" x2="850.5" y2="446.1" stroke="#58be48" stroke-width="3.8"/><line x1="850.5" y1="446.1" x2="855.9" y2="456.3" stroke="#e6e03c" stroke-width="3.8"/><line x1="879.3" y1="436.0" x2="867.6" y2="426.5" stroke="#58be48" stroke-width="3.8"/><line x1="867.6" y1="426.5" x2="855.9" y2="417.0" stroke="#e6e03c" stroke-width="3.8"/><line x1="879.3" y1="436.0" x2="867.6" y2="446.1" stroke="#58be48" stroke-width="3.8"/><line x1="867.6" y1="446.1" x2="855.9" y2="456.3" stroke="#e6e03c" stroke-width="3.8"/><line x1="879.3" y1="436.0" x2="883.4" y2="426.5" stroke="#58be48" stroke-width="3.8"/><line x1="883.4" y1="426.5" x2="887.5" y2="417.0" stroke="#e6e03c" stroke-width="3.8"/><line x1="879.3" y1="436.0" x2="883.4" y2="446.1" stroke="#58be48" stroke-width="3.8"/><line x1="883.4" y1="446.1" x2="887.5" y2="456.3" stroke="#e6e03c" stroke-width="3.8"/><line x1="913.0" y1="436.0" x2="900.2" y2="426.5" stroke="#58be48" stroke-width="3.8"/><line x1="900.2" y1="426.5" x2="887.5" y2="417.0" stroke="#e6e03c" stroke-width="3.8"/><line x1="913.0" y1="436.0" x2="900.2" y2="446.1" stroke="#58be48" stroke-width="3.8"/><line x1="900.2" y1="446.1" x2="887.5" y2="456.3" stroke="#e6e03c" stroke-width="3.8"/><line x1="913.0" y1="436.0" x2="917.0" y2="426.5" stroke="#58be48" stroke-width="3.8"/><line x1="917.0" y1="426.5" x2="921.0" y2="417.0" stroke="#e6e03c" stroke-width="3.8"/><line x1="913.0" y1="436.0" x2="917.0" y2="446.1" stroke="#58be48" stroke-width="3.8"/><line x1="917.0" y1="446.1" x2="921.0" y2="456.3" stroke="#e6e03c" stroke-width="3.8"/><line x1="845.1" y1="436.0" x2="836.2" y2="425.2" stroke="#58be48" stroke-width="3.8"/><line x1="836.2" y1="425.2" x2="827.4" y2="414.5" stroke="#58be48" stroke-width="3.8"/><circle cx="725.0" cy="417.0" r="6.2" fill="url(#gS)"/><circle cx="725.0" cy="456.3" r="6.2" fill="url(#gS)"/><circle cx="759.0" cy="417.0" r="6.2" fill="url(#gS)"/><circle cx="759.0" cy="456.3" r="6.2" fill="url(#gS)"/><circle cx="789.6" cy="417.0" r="6.2" fill="url(#gS)"/><circle cx="789.6" cy="456.3" r="6.2" fill="url(#gS)"/><circle cx="823.0" cy="456.3" r="6.2" fill="url(#gS)"/><circle cx="855.9" cy="417.0" r="6.2" fill="url(#gS)"/><circle cx="855.9" cy="456.3" r="6.2" fill="url(#gS)"/><circle cx="887.5" cy="417.0" r="6.2" fill="url(#gS)"/><circle cx="887.5" cy="456.3" r="6.2" fill="url(#gS)"/><circle cx="921.0" cy="417.0" r="6.2" fill="url(#gS)"/><circle cx="921.0" cy="456.3" r="6.2" fill="url(#gS)"/><circle cx="744.0" cy="436.0" r="6.8" fill="url(#gM)"/><circle cx="778.0" cy="436.0" r="6.8" fill="url(#gM)"/><circle cx="812.2" cy="436.0" r="6.8" fill="url(#gM)"/><circle cx="845.1" cy="436.0" r="6.8" fill="url(#gM)"/><circle cx="879.3" cy="436.0" r="6.8" fill="url(#gM)"/><circle cx="913.0" cy="436.0" r="6.8" fill="url(#gM)"/><circle cx="827.4" cy="414.5" r="6.8" fill="url(#gM)"/></g>
<clipPath id="c10"><rect x="752.8" y="475.1" width="133.7" height="115.1"/></clipPath>
<g clip-path="url(#c10)"><line x1="686.9" y1="453.8" x2="698.0" y2="453.8" stroke="#e6e03c" stroke-width="4.2"/><line x1="698.0" y1="453.8" x2="709.2" y2="453.8" stroke="#58be48" stroke-width="4.2"/><line x1="686.9" y1="453.8" x2="681.4" y2="463.6" stroke="#a39c2c" stroke-width="4.2"/><line x1="681.4" y1="463.6" x2="675.9" y2="473.4" stroke="#3a963a" stroke-width="4.2"/><line x1="709.2" y1="453.8" x2="714.8" y2="463.6" stroke="#58be48" stroke-width="4.2"/><line x1="714.8" y1="463.6" x2="720.3" y2="473.4" stroke="#e6e03c" stroke-width="4.2"/><line x1="753.6" y1="453.8" x2="764.8" y2="453.8" stroke="#e6e03c" stroke-width="4.2"/><line x1="764.8" y1="453.8" x2="775.9" y2="453.8" stroke="#58be48" stroke-width="4.2"/><line x1="753.6" y1="453.8" x2="748.1" y2="463.6" stroke="#a39c2c" stroke-width="4.2"/><line x1="748.1" y1="463.6" x2="742.6" y2="473.4" stroke="#3a963a" stroke-width="4.2"/><line x1="775.9" y1="453.8" x2="781.5" y2="463.6" stroke="#58be48" stroke-width="4.2"/><line x1="781.5" y1="463.6" x2="787.0" y2="473.4" stroke="#e6e03c" stroke-width="4.2"/><line x1="820.3" y1="453.8" x2="831.5" y2="453.8" stroke="#e6e03c" stroke-width="4.2"/><line x1="831.5" y1="453.8" x2="842.6" y2="453.8" stroke="#58be48" stroke-width="4.2"/><line x1="820.3" y1="453.8" x2="814.8" y2="463.6" stroke="#a39c2c" stroke-width="4.2"/><line x1="814.8" y1="463.6" x2="809.3" y2="473.4" stroke="#3a963a" stroke-width="4.2"/><line x1="842.6" y1="453.8" x2="848.2" y2="463.6" stroke="#58be48" stroke-width="4.2"/><line x1="848.2" y1="463.6" x2="853.7" y2="473.4" stroke="#e6e03c" stroke-width="4.2"/><line x1="887.0" y1="453.8" x2="898.1" y2="453.8" stroke="#e6e03c" stroke-width="4.2"/><line x1="898.1" y1="453.8" x2="909.3" y2="453.8" stroke="#58be48" stroke-width="4.2"/><line x1="887.0" y1="453.8" x2="881.5" y2="463.6" stroke="#a39c2c" stroke-width="4.2"/><line x1="881.5" y1="463.6" x2="876.0" y2="473.4" stroke="#3a963a" stroke-width="4.2"/><line x1="909.3" y1="453.8" x2="914.8" y2="463.6" stroke="#58be48" stroke-width="4.2"/><line x1="914.8" y1="463.6" x2="920.4" y2="473.4" stroke="#e6e03c" stroke-width="4.2"/><line x1="953.7" y1="453.8" x2="964.9" y2="453.8" stroke="#e6e03c" stroke-width="4.2"/><line x1="964.9" y1="453.8" x2="976.0" y2="453.8" stroke="#58be48" stroke-width="4.2"/><line x1="953.7" y1="453.8" x2="948.2" y2="463.6" stroke="#a39c2c" stroke-width="4.2"/><line x1="948.2" y1="463.6" x2="942.7" y2="473.4" stroke="#3a963a" stroke-width="4.2"/><line x1="976.0" y1="453.8" x2="981.5" y2="463.6" stroke="#58be48" stroke-width="4.2"/><line x1="981.5" y1="463.6" x2="987.1" y2="473.4" stroke="#e6e03c" stroke-width="4.2"/><line x1="653.6" y1="473.4" x2="664.8" y2="473.4" stroke="#e6e03c" stroke-width="4.2"/><line x1="664.8" y1="473.4" x2="675.9" y2="473.4" stroke="#58be48" stroke-width="4.2"/><line x1="675.9" y1="473.4" x2="681.4" y2="483.2" stroke="#58be48" stroke-width="4.2"/><line x1="681.4" y1="483.2" x2="686.9" y2="493.0" stroke="#e6e03c" stroke-width="4.2"/><line x1="720.3" y1="473.4" x2="731.4" y2="473.4" stroke="#e6e03c" stroke-width="4.2"/><line x1="731.4" y1="473.4" x2="742.6" y2="473.4" stroke="#58be48" stroke-width="4.2"/><line x1="720.3" y1="473.4" x2="714.8" y2="483.2" stroke="#a39c2c" stroke-width="4.2"/><line x1="714.8" y1="483.2" x2="709.2" y2="493.0" stroke="#3a963a" stroke-width="4.2"/><line x1="742.6" y1="473.4" x2="748.1" y2="483.2" stroke="#58be48" stroke-width="4.2"/><line x1="748.1" y1="483.2" x2="753.6" y2="493.0" stroke="#e6e03c" stroke-width="4.2"/><line x1="787.0" y1="473.4" x2="798.1" y2="473.4" stroke="#e6e03c" stroke-width="4.2"/><line x1="798.1" y1="473.4" x2="809.3" y2="473.4" stroke="#58be48" stroke-width="4.2"/><line x1="787.0" y1="473.4" x2="781.5" y2="483.2" stroke="#a39c2c" stroke-width="4.2"/><line x1="781.5" y1="483.2" x2="775.9" y2="493.0" stroke="#3a963a" stroke-width="4.2"/><line x1="809.3" y1="473.4" x2="814.8" y2="483.2" stroke="#58be48" stroke-width="4.2"/><line x1="814.8" y1="483.2" x2="820.3" y2="493.0" stroke="#e6e03c" stroke-width="4.2"/><line x1="853.7" y1="473.4" x2="864.9" y2="473.4" stroke="#e6e03c" stroke-width="4.2"/><line x1="864.9" y1="473.4" x2="876.0" y2="473.4" stroke="#58be48" stroke-width="4.2"/><line x1="853.7" y1="473.4" x2="848.2" y2="483.2" stroke="#a39c2c" stroke-width="4.2"/><line x1="848.2" y1="483.2" x2="842.6" y2="493.0" stroke="#3a963a" stroke-width="4.2"/><line x1="876.0" y1="473.4" x2="881.5" y2="483.2" stroke="#58be48" stroke-width="4.2"/><line x1="881.5" y1="483.2" x2="887.0" y2="493.0" stroke="#e6e03c" stroke-width="4.2"/><line x1="920.4" y1="473.4" x2="931.5" y2="473.4" stroke="#e6e03c" stroke-width="4.2"/><line x1="931.5" y1="473.4" x2="942.7" y2="473.4" stroke="#58be48" stroke-width="4.2"/><line x1="920.4" y1="473.4" x2="914.8" y2="483.2" stroke="#a39c2c" stroke-width="4.2"/><line x1="914.8" y1="483.2" x2="909.3" y2="493.0" stroke="#3a963a" stroke-width="4.2"/><line x1="942.7" y1="473.4" x2="948.2" y2="483.2" stroke="#58be48" stroke-width="4.2"/><line x1="948.2" y1="483.2" x2="953.7" y2="493.0" stroke="#e6e03c" stroke-width="4.2"/><line x1="987.1" y1="473.4" x2="998.2" y2="473.4" stroke="#e6e03c" stroke-width="4.2"/><line x1="998.2" y1="473.4" x2="1009.4" y2="473.4" stroke="#58be48" stroke-width="4.2"/><line x1="987.1" y1="473.4" x2="981.5" y2="483.2" stroke="#a39c2c" stroke-width="4.2"/><line x1="981.5" y1="483.2" x2="976.0" y2="493.0" stroke="#3a963a" stroke-width="4.2"/><line x1="686.9" y1="493.0" x2="698.0" y2="493.0" stroke="#e6e03c" stroke-width="4.2"/><line x1="698.0" y1="493.0" x2="709.2" y2="493.0" stroke="#58be48" stroke-width="4.2"/><line x1="686.9" y1="493.0" x2="681.4" y2="502.8" stroke="#a39c2c" stroke-width="4.2"/><line x1="681.4" y1="502.8" x2="675.9" y2="512.6" stroke="#3a963a" stroke-width="4.2"/><line x1="709.2" y1="493.0" x2="714.8" y2="502.8" stroke="#58be48" stroke-width="4.2"/><line x1="714.8" y1="502.8" x2="720.3" y2="512.6" stroke="#e6e03c" stroke-width="4.2"/><line x1="753.6" y1="493.0" x2="764.8" y2="493.0" stroke="#e6e03c" stroke-width="4.2"/><line x1="764.8" y1="493.0" x2="775.9" y2="493.0" stroke="#58be48" stroke-width="4.2"/><line x1="753.6" y1="493.0" x2="748.1" y2="502.8" stroke="#a39c2c" stroke-width="4.2"/><line x1="748.1" y1="502.8" x2="742.6" y2="512.6" stroke="#3a963a" stroke-width="4.2"/><line x1="775.9" y1="493.0" x2="781.5" y2="502.8" stroke="#58be48" stroke-width="4.2"/><line x1="781.5" y1="502.8" x2="787.0" y2="512.6" stroke="#e6e03c" stroke-width="4.2"/><line x1="820.3" y1="493.0" x2="831.5" y2="493.0" stroke="#e6e03c" stroke-width="4.2"/><line x1="831.5" y1="493.0" x2="842.6" y2="493.0" stroke="#58be48" stroke-width="4.2"/><line x1="820.3" y1="493.0" x2="814.8" y2="502.8" stroke="#a39c2c" stroke-width="4.2"/><line x1="814.8" y1="502.8" x2="809.3" y2="512.6" stroke="#3a963a" stroke-width="4.2"/><line x1="842.6" y1="493.0" x2="848.2" y2="502.8" stroke="#58be48" stroke-width="4.2"/><line x1="848.2" y1="502.8" x2="853.7" y2="512.6" stroke="#e6e03c" stroke-width="4.2"/><line x1="887.0" y1="493.0" x2="898.1" y2="493.0" stroke="#e6e03c" stroke-width="4.2"/><line x1="898.1" y1="493.0" x2="909.3" y2="493.0" stroke="#58be48" stroke-width="4.2"/><line x1="887.0" y1="493.0" x2="881.5" y2="502.8" stroke="#a39c2c" stroke-width="4.2"/><line x1="881.5" y1="502.8" x2="876.0" y2="512.6" stroke="#3a963a" stroke-width="4.2"/><line x1="909.3" y1="493.0" x2="914.8" y2="502.8" stroke="#58be48" stroke-width="4.2"/><line x1="914.8" y1="502.8" x2="920.4" y2="512.6" stroke="#e6e03c" stroke-width="4.2"/><line x1="953.7" y1="493.0" x2="964.9" y2="493.0" stroke="#e6e03c" stroke-width="4.2"/><line x1="964.9" y1="493.0" x2="976.0" y2="493.0" stroke="#58be48" stroke-width="4.2"/><line x1="953.7" y1="493.0" x2="948.2" y2="502.8" stroke="#a39c2c" stroke-width="4.2"/><line x1="948.2" y1="502.8" x2="942.7" y2="512.6" stroke="#3a963a" stroke-width="4.2"/><line x1="976.0" y1="493.0" x2="981.5" y2="502.8" stroke="#58be48" stroke-width="4.2"/><line x1="981.5" y1="502.8" x2="987.1" y2="512.6" stroke="#e6e03c" stroke-width="4.2"/><line x1="653.6" y1="512.6" x2="664.8" y2="512.6" stroke="#e6e03c" stroke-width="4.2"/><line x1="664.8" y1="512.6" x2="675.9" y2="512.6" stroke="#58be48" stroke-width="4.2"/><line x1="675.9" y1="512.6" x2="681.4" y2="522.4" stroke="#58be48" stroke-width="4.2"/><line x1="681.4" y1="522.4" x2="686.9" y2="532.2" stroke="#e6e03c" stroke-width="4.2"/><line x1="720.3" y1="512.6" x2="731.4" y2="512.6" stroke="#e6e03c" stroke-width="4.2"/><line x1="731.4" y1="512.6" x2="742.6" y2="512.6" stroke="#58be48" stroke-width="4.2"/><line x1="720.3" y1="512.6" x2="714.8" y2="522.4" stroke="#a39c2c" stroke-width="4.2"/><line x1="714.8" y1="522.4" x2="709.2" y2="532.2" stroke="#3a963a" stroke-width="4.2"/><line x1="742.6" y1="512.6" x2="748.1" y2="522.4" stroke="#58be48" stroke-width="4.2"/><line x1="748.1" y1="522.4" x2="753.6" y2="532.2" stroke="#e6e03c" stroke-width="4.2"/><line x1="787.0" y1="512.6" x2="798.1" y2="512.6" stroke="#e6e03c" stroke-width="4.2"/><line x1="798.1" y1="512.6" x2="809.3" y2="512.6" stroke="#58be48" stroke-width="4.2"/><line x1="787.0" y1="512.6" x2="781.5" y2="522.4" stroke="#a39c2c" stroke-width="4.2"/><line x1="781.5" y1="522.4" x2="775.9" y2="532.2" stroke="#3a963a" stroke-width="4.2"/><line x1="809.3" y1="512.6" x2="816.0" y2="522.4" stroke="#58be48" stroke-width="4.2"/><line x1="816.0" y1="522.4" x2="822.8" y2="532.2" stroke="#58be48" stroke-width="4.2"/><line x1="853.7" y1="512.6" x2="864.9" y2="512.6" stroke="#e6e03c" stroke-width="4.2"/><line x1="864.9" y1="512.6" x2="876.0" y2="512.6" stroke="#58be48" stroke-width="4.2"/><line x1="853.7" y1="512.6" x2="848.2" y2="522.4" stroke="#a39c2c" stroke-width="4.2"/><line x1="848.2" y1="522.4" x2="842.6" y2="532.2" stroke="#3a963a" stroke-width="4.2"/><line x1="876.0" y1="512.6" x2="881.5" y2="522.4" stroke="#58be48" stroke-width="4.2"/><line x1="881.5" y1="522.4" x2="887.0" y2="532.2" stroke="#e6e03c" stroke-width="4.2"/><line x1="920.4" y1="512.6" x2="931.5" y2="512.6" stroke="#e6e03c" stroke-width="4.2"/><line x1="931.5" y1="512.6" x2="942.7" y2="512.6" stroke="#58be48" stroke-width="4.2"/><line x1="920.4" y1="512.6" x2="914.8" y2="522.4" stroke="#a39c2c" stroke-width="4.2"/><line x1="914.8" y1="522.4" x2="909.3" y2="532.2" stroke="#3a963a" stroke-width="4.2"/><line x1="942.7" y1="512.6" x2="948.2" y2="522.4" stroke="#58be48" stroke-width="4.2"/><line x1="948.2" y1="522.4" x2="953.7" y2="532.2" stroke="#e6e03c" stroke-width="4.2"/><line x1="987.1" y1="512.6" x2="998.2" y2="512.6" stroke="#e6e03c" stroke-width="4.2"/><line x1="998.2" y1="512.6" x2="1009.4" y2="512.6" stroke="#58be48" stroke-width="4.2"/><line x1="987.1" y1="512.6" x2="981.5" y2="522.4" stroke="#a39c2c" stroke-width="4.2"/><line x1="981.5" y1="522.4" x2="976.0" y2="532.2" stroke="#3a963a" stroke-width="4.2"/><line x1="686.9" y1="532.2" x2="698.0" y2="532.2" stroke="#e6e03c" stroke-width="4.2"/><line x1="698.0" y1="532.2" x2="709.2" y2="532.2" stroke="#58be48" stroke-width="4.2"/><line x1="686.9" y1="532.2" x2="681.4" y2="542.0" stroke="#a39c2c" stroke-width="4.2"/><line x1="681.4" y1="542.0" x2="675.9" y2="551.8" stroke="#3a963a" stroke-width="4.2"/><line x1="709.2" y1="532.2" x2="714.8" y2="542.0" stroke="#58be48" stroke-width="4.2"/><line x1="714.8" y1="542.0" x2="720.3" y2="551.8" stroke="#e6e03c" stroke-width="4.2"/><line x1="753.6" y1="532.2" x2="764.8" y2="532.2" stroke="#e6e03c" stroke-width="4.2"/><line x1="764.8" y1="532.2" x2="775.9" y2="532.2" stroke="#58be48" stroke-width="4.2"/><line x1="753.6" y1="532.2" x2="748.1" y2="542.0" stroke="#a39c2c" stroke-width="4.2"/><line x1="748.1" y1="542.0" x2="742.6" y2="551.8" stroke="#3a963a" stroke-width="4.2"/><line x1="775.9" y1="532.2" x2="781.5" y2="542.0" stroke="#58be48" stroke-width="4.2"/><line x1="781.5" y1="542.0" x2="787.0" y2="551.8" stroke="#e6e03c" stroke-width="4.2"/><line x1="822.8" y1="532.2" x2="832.7" y2="532.2" stroke="#58be48" stroke-width="4.2"/><line x1="832.7" y1="532.2" x2="842.6" y2="532.2" stroke="#58be48" stroke-width="4.2"/><line x1="822.8" y1="532.2" x2="816.0" y2="542.0" stroke="#3a963a" stroke-width="4.2"/><line x1="816.0" y1="542.0" x2="809.3" y2="551.8" stroke="#3a963a" stroke-width="4.2"/><line x1="842.6" y1="532.2" x2="848.2" y2="542.0" stroke="#58be48" stroke-width="4.2"/><line x1="848.2" y1="542.0" x2="853.7" y2="551.8" stroke="#e6e03c" stroke-width="4.2"/><line x1="887.0" y1="532.2" x2="898.1" y2="532.2" stroke="#e6e03c" stroke-width="4.2"/><line x1="898.1" y1="532.2" x2="909.3" y2="532.2" stroke="#58be48" stroke-width="4.2"/><line x1="887.0" y1="532.2" x2="881.5" y2="542.0" stroke="#a39c2c" stroke-width="4.2"/><line x1="881.5" y1="542.0" x2="876.0" y2="551.8" stroke="#3a963a" stroke-width="4.2"/><line x1="909.3" y1="532.2" x2="914.8" y2="542.0" stroke="#58be48" stroke-width="4.2"/><line x1="914.8" y1="542.0" x2="920.4" y2="551.8" stroke="#e6e03c" stroke-width="4.2"/><line x1="953.7" y1="532.2" x2="964.9" y2="532.2" stroke="#e6e03c" stroke-width="4.2"/><line x1="964.9" y1="532.2" x2="976.0" y2="532.2" stroke="#58be48" stroke-width="4.2"/><line x1="953.7" y1="532.2" x2="948.2" y2="542.0" stroke="#a39c2c" stroke-width="4.2"/><line x1="948.2" y1="542.0" x2="942.7" y2="551.8" stroke="#3a963a" stroke-width="4.2"/><line x1="976.0" y1="532.2" x2="981.5" y2="542.0" stroke="#58be48" stroke-width="4.2"/><line x1="981.5" y1="542.0" x2="987.1" y2="551.8" stroke="#e6e03c" stroke-width="4.2"/><line x1="653.6" y1="551.8" x2="664.8" y2="551.8" stroke="#e6e03c" stroke-width="4.2"/><line x1="664.8" y1="551.8" x2="675.9" y2="551.8" stroke="#58be48" stroke-width="4.2"/><line x1="675.9" y1="551.8" x2="681.4" y2="561.6" stroke="#58be48" stroke-width="4.2"/><line x1="681.4" y1="561.6" x2="686.9" y2="571.4" stroke="#e6e03c" stroke-width="4.2"/><line x1="720.3" y1="551.8" x2="731.4" y2="551.8" stroke="#e6e03c" stroke-width="4.2"/><line x1="731.4" y1="551.8" x2="742.6" y2="551.8" stroke="#58be48" stroke-width="4.2"/><line x1="720.3" y1="551.8" x2="714.8" y2="561.6" stroke="#a39c2c" stroke-width="4.2"/><line x1="714.8" y1="561.6" x2="709.2" y2="571.4" stroke="#3a963a" stroke-width="4.2"/><line x1="742.6" y1="551.8" x2="748.1" y2="561.6" stroke="#58be48" stroke-width="4.2"/><line x1="748.1" y1="561.6" x2="753.6" y2="571.4" stroke="#e6e03c" stroke-width="4.2"/><line x1="787.0" y1="551.8" x2="798.1" y2="551.8" stroke="#e6e03c" stroke-width="4.2"/><line x1="798.1" y1="551.8" x2="809.3" y2="551.8" stroke="#58be48" stroke-width="4.2"/><line x1="787.0" y1="551.8" x2="781.5" y2="561.6" stroke="#a39c2c" stroke-width="4.2"/><line x1="781.5" y1="561.6" x2="775.9" y2="571.4" stroke="#3a963a" stroke-width="4.2"/><line x1="809.3" y1="551.8" x2="814.8" y2="561.6" stroke="#58be48" stroke-width="4.2"/><line x1="814.8" y1="561.6" x2="820.3" y2="571.4" stroke="#e6e03c" stroke-width="4.2"/><line x1="853.7" y1="551.8" x2="864.9" y2="551.8" stroke="#e6e03c" stroke-width="4.2"/><line x1="864.9" y1="551.8" x2="876.0" y2="551.8" stroke="#58be48" stroke-width="4.2"/><line x1="853.7" y1="551.8" x2="848.2" y2="561.6" stroke="#a39c2c" stroke-width="4.2"/><line x1="848.2" y1="561.6" x2="842.6" y2="571.4" stroke="#3a963a" stroke-width="4.2"/><line x1="876.0" y1="551.8" x2="881.5" y2="561.6" stroke="#58be48" stroke-width="4.2"/><line x1="881.5" y1="561.6" x2="887.0" y2="571.4" stroke="#e6e03c" stroke-width="4.2"/><line x1="920.4" y1="551.8" x2="931.5" y2="551.8" stroke="#e6e03c" stroke-width="4.2"/><line x1="931.5" y1="551.8" x2="942.7" y2="551.8" stroke="#58be48" stroke-width="4.2"/><line x1="920.4" y1="551.8" x2="914.8" y2="561.6" stroke="#a39c2c" stroke-width="4.2"/><line x1="914.8" y1="561.6" x2="909.3" y2="571.4" stroke="#3a963a" stroke-width="4.2"/><line x1="942.7" y1="551.8" x2="948.2" y2="561.6" stroke="#58be48" stroke-width="4.2"/><line x1="948.2" y1="561.6" x2="953.7" y2="571.4" stroke="#e6e03c" stroke-width="4.2"/><line x1="987.1" y1="551.8" x2="998.2" y2="551.8" stroke="#e6e03c" stroke-width="4.2"/><line x1="998.2" y1="551.8" x2="1009.4" y2="551.8" stroke="#58be48" stroke-width="4.2"/><line x1="987.1" y1="551.8" x2="981.5" y2="561.6" stroke="#a39c2c" stroke-width="4.2"/><line x1="981.5" y1="561.6" x2="976.0" y2="571.4" stroke="#3a963a" stroke-width="4.2"/><line x1="686.9" y1="571.4" x2="698.0" y2="571.4" stroke="#e6e03c" stroke-width="4.2"/><line x1="698.0" y1="571.4" x2="709.2" y2="571.4" stroke="#58be48" stroke-width="4.2"/><line x1="686.9" y1="571.4" x2="681.4" y2="581.2" stroke="#a39c2c" stroke-width="4.2"/><line x1="681.4" y1="581.2" x2="675.9" y2="591.0" stroke="#3a963a" stroke-width="4.2"/><line x1="709.2" y1="571.4" x2="714.8" y2="581.2" stroke="#58be48" stroke-width="4.2"/><line x1="714.8" y1="581.2" x2="720.3" y2="591.0" stroke="#e6e03c" stroke-width="4.2"/><line x1="753.6" y1="571.4" x2="764.8" y2="571.4" stroke="#e6e03c" stroke-width="4.2"/><line x1="764.8" y1="571.4" x2="775.9" y2="571.4" stroke="#58be48" stroke-width="4.2"/><line x1="753.6" y1="571.4" x2="748.1" y2="581.2" stroke="#a39c2c" stroke-width="4.2"/><line x1="748.1" y1="581.2" x2="742.6" y2="591.0" stroke="#3a963a" stroke-width="4.2"/><line x1="775.9" y1="571.4" x2="781.5" y2="581.2" stroke="#58be48" stroke-width="4.2"/><line x1="781.5" y1="581.2" x2="787.0" y2="591.0" stroke="#e6e03c" stroke-width="4.2"/><line x1="820.3" y1="571.4" x2="831.5" y2="571.4" stroke="#e6e03c" stroke-width="4.2"/><line x1="831.5" y1="571.4" x2="842.6" y2="571.4" stroke="#58be48" stroke-width="4.2"/><line x1="820.3" y1="571.4" x2="814.8" y2="581.2" stroke="#a39c2c" stroke-width="4.2"/><line x1="814.8" y1="581.2" x2="809.3" y2="591.0" stroke="#3a963a" stroke-width="4.2"/><line x1="842.6" y1="571.4" x2="848.2" y2="581.2" stroke="#58be48" stroke-width="4.2"/><line x1="848.2" y1="581.2" x2="853.7" y2="591.0" stroke="#e6e03c" stroke-width="4.2"/><line x1="887.0" y1="571.4" x2="898.1" y2="571.4" stroke="#e6e03c" stroke-width="4.2"/><line x1="898.1" y1="571.4" x2="909.3" y2="571.4" stroke="#58be48" stroke-width="4.2"/><line x1="887.0" y1="571.4" x2="881.5" y2="581.2" stroke="#a39c2c" stroke-width="4.2"/><line x1="881.5" y1="581.2" x2="876.0" y2="591.0" stroke="#3a963a" stroke-width="4.2"/><line x1="909.3" y1="571.4" x2="914.8" y2="581.2" stroke="#58be48" stroke-width="4.2"/><line x1="914.8" y1="581.2" x2="920.4" y2="591.0" stroke="#e6e03c" stroke-width="4.2"/><line x1="953.7" y1="571.4" x2="964.9" y2="571.4" stroke="#e6e03c" stroke-width="4.2"/><line x1="964.9" y1="571.4" x2="976.0" y2="571.4" stroke="#58be48" stroke-width="4.2"/><line x1="953.7" y1="571.4" x2="948.2" y2="581.2" stroke="#a39c2c" stroke-width="4.2"/><line x1="948.2" y1="581.2" x2="942.7" y2="591.0" stroke="#3a963a" stroke-width="4.2"/><line x1="976.0" y1="571.4" x2="981.5" y2="581.2" stroke="#58be48" stroke-width="4.2"/><line x1="981.5" y1="581.2" x2="987.1" y2="591.0" stroke="#e6e03c" stroke-width="4.2"/><line x1="653.6" y1="591.0" x2="664.8" y2="591.0" stroke="#e6e03c" stroke-width="4.2"/><line x1="664.8" y1="591.0" x2="675.9" y2="591.0" stroke="#58be48" stroke-width="4.2"/><line x1="675.9" y1="591.0" x2="681.4" y2="600.8" stroke="#58be48" stroke-width="4.2"/><line x1="681.4" y1="600.8" x2="686.9" y2="610.6" stroke="#e6e03c" stroke-width="4.2"/><line x1="720.3" y1="591.0" x2="731.4" y2="591.0" stroke="#e6e03c" stroke-width="4.2"/><line x1="731.4" y1="591.0" x2="742.6" y2="591.0" stroke="#58be48" stroke-width="4.2"/><line x1="720.3" y1="591.0" x2="714.8" y2="600.8" stroke="#a39c2c" stroke-width="4.2"/><line x1="714.8" y1="600.8" x2="709.2" y2="610.6" stroke="#3a963a" stroke-width="4.2"/><line x1="742.6" y1="591.0" x2="748.1" y2="600.8" stroke="#58be48" stroke-width="4.2"/><line x1="748.1" y1="600.8" x2="753.6" y2="610.6" stroke="#e6e03c" stroke-width="4.2"/><line x1="787.0" y1="591.0" x2="798.1" y2="591.0" stroke="#e6e03c" stroke-width="4.2"/><line x1="798.1" y1="591.0" x2="809.3" y2="591.0" stroke="#58be48" stroke-width="4.2"/><line x1="787.0" y1="591.0" x2="781.5" y2="600.8" stroke="#a39c2c" stroke-width="4.2"/><line x1="781.5" y1="600.8" x2="775.9" y2="610.6" stroke="#3a963a" stroke-width="4.2"/><line x1="809.3" y1="591.0" x2="814.8" y2="600.8" stroke="#58be48" stroke-width="4.2"/><line x1="814.8" y1="600.8" x2="820.3" y2="610.6" stroke="#e6e03c" stroke-width="4.2"/><line x1="853.7" y1="591.0" x2="864.9" y2="591.0" stroke="#e6e03c" stroke-width="4.2"/><line x1="864.9" y1="591.0" x2="876.0" y2="591.0" stroke="#58be48" stroke-width="4.2"/><line x1="853.7" y1="591.0" x2="848.2" y2="600.8" stroke="#a39c2c" stroke-width="4.2"/><line x1="848.2" y1="600.8" x2="842.6" y2="610.6" stroke="#3a963a" stroke-width="4.2"/><line x1="876.0" y1="591.0" x2="881.5" y2="600.8" stroke="#58be48" stroke-width="4.2"/><line x1="881.5" y1="600.8" x2="887.0" y2="610.6" stroke="#e6e03c" stroke-width="4.2"/><line x1="920.4" y1="591.0" x2="931.5" y2="591.0" stroke="#e6e03c" stroke-width="4.2"/><line x1="931.5" y1="591.0" x2="942.7" y2="591.0" stroke="#58be48" stroke-width="4.2"/><line x1="920.4" y1="591.0" x2="914.8" y2="600.8" stroke="#a39c2c" stroke-width="4.2"/><line x1="914.8" y1="600.8" x2="909.3" y2="610.6" stroke="#3a963a" stroke-width="4.2"/><line x1="942.7" y1="591.0" x2="948.2" y2="600.8" stroke="#58be48" stroke-width="4.2"/><line x1="948.2" y1="600.8" x2="953.7" y2="610.6" stroke="#e6e03c" stroke-width="4.2"/><line x1="987.1" y1="591.0" x2="998.2" y2="591.0" stroke="#e6e03c" stroke-width="4.2"/><line x1="998.2" y1="591.0" x2="1009.4" y2="591.0" stroke="#58be48" stroke-width="4.2"/><line x1="987.1" y1="591.0" x2="981.5" y2="600.8" stroke="#a39c2c" stroke-width="4.2"/><line x1="981.5" y1="600.8" x2="976.0" y2="610.6" stroke="#3a963a" stroke-width="4.2"/><line x1="686.9" y1="610.6" x2="698.0" y2="610.6" stroke="#e6e03c" stroke-width="4.2"/><line x1="698.0" y1="610.6" x2="709.2" y2="610.6" stroke="#58be48" stroke-width="4.2"/><line x1="753.6" y1="610.6" x2="764.8" y2="610.6" stroke="#e6e03c" stroke-width="4.2"/><line x1="764.8" y1="610.6" x2="775.9" y2="610.6" stroke="#58be48" stroke-width="4.2"/><line x1="820.3" y1="610.6" x2="831.5" y2="610.6" stroke="#e6e03c" stroke-width="4.2"/><line x1="831.5" y1="610.6" x2="842.6" y2="610.6" stroke="#58be48" stroke-width="4.2"/><line x1="887.0" y1="610.6" x2="898.1" y2="610.6" stroke="#e6e03c" stroke-width="4.2"/><line x1="898.1" y1="610.6" x2="909.3" y2="610.6" stroke="#58be48" stroke-width="4.2"/><line x1="953.7" y1="610.6" x2="964.9" y2="610.6" stroke="#e6e03c" stroke-width="4.2"/><line x1="964.9" y1="610.6" x2="976.0" y2="610.6" stroke="#58be48" stroke-width="4.2"/><circle cx="686.9" cy="453.8" r="6.2" fill="url(#gS)"/><circle cx="709.2" cy="453.8" r="6.4" fill="url(#gM2)"/><circle cx="753.6" cy="453.8" r="6.2" fill="url(#gS)"/><circle cx="775.9" cy="453.8" r="6.4" fill="url(#gM2)"/><circle cx="820.3" cy="453.8" r="6.2" fill="url(#gS)"/><circle cx="842.6" cy="453.8" r="6.4" fill="url(#gM2)"/><circle cx="887.0" cy="453.8" r="6.2" fill="url(#gS)"/><circle cx="909.3" cy="453.8" r="6.4" fill="url(#gM2)"/><circle cx="953.7" cy="453.8" r="6.2" fill="url(#gS)"/><circle cx="976.0" cy="453.8" r="6.4" fill="url(#gM2)"/><circle cx="653.6" cy="473.4" r="6.2" fill="url(#gS)"/><circle cx="675.9" cy="473.4" r="6.4" fill="url(#gM2)"/><circle cx="720.3" cy="473.4" r="6.2" fill="url(#gS)"/><circle cx="742.6" cy="473.4" r="6.4" fill="url(#gM2)"/><circle cx="787.0" cy="473.4" r="6.2" fill="url(#gS)"/><circle cx="809.3" cy="473.4" r="6.4" fill="url(#gM2)"/><circle cx="853.7" cy="473.4" r="6.2" fill="url(#gS)"/><circle cx="876.0" cy="473.4" r="6.4" fill="url(#gM2)"/><circle cx="920.4" cy="473.4" r="6.2" fill="url(#gS)"/><circle cx="942.7" cy="473.4" r="6.4" fill="url(#gM2)"/><circle cx="987.1" cy="473.4" r="6.2" fill="url(#gS)"/><circle cx="1009.4" cy="473.4" r="6.4" fill="url(#gM2)"/><circle cx="686.9" cy="493.0" r="6.2" fill="url(#gS)"/><circle cx="709.2" cy="493.0" r="6.4" fill="url(#gM2)"/><circle cx="753.6" cy="493.0" r="6.2" fill="url(#gS)"/><circle cx="775.9" cy="493.0" r="6.4" fill="url(#gM2)"/><circle cx="820.3" cy="493.0" r="6.2" fill="url(#gS)"/><circle cx="842.6" cy="493.0" r="6.4" fill="url(#gM2)"/><circle cx="887.0" cy="493.0" r="6.2" fill="url(#gS)"/><circle cx="909.3" cy="493.0" r="6.4" fill="url(#gM2)"/><circle cx="953.7" cy="493.0" r="6.2" fill="url(#gS)"/><circle cx="976.0" cy="493.0" r="6.4" fill="url(#gM2)"/><circle cx="653.6" cy="512.6" r="6.2" fill="url(#gS)"/><circle cx="675.9" cy="512.6" r="6.4" fill="url(#gM2)"/><circle cx="720.3" cy="512.6" r="6.2" fill="url(#gS)"/><circle cx="742.6" cy="512.6" r="6.4" fill="url(#gM2)"/><circle cx="787.0" cy="512.6" r="6.2" fill="url(#gS)"/><circle cx="809.3" cy="512.6" r="6.4" fill="url(#gM2)"/><circle cx="853.7" cy="512.6" r="6.2" fill="url(#gS)"/><circle cx="876.0" cy="512.6" r="6.4" fill="url(#gM2)"/><circle cx="920.4" cy="512.6" r="6.2" fill="url(#gS)"/><circle cx="942.7" cy="512.6" r="6.4" fill="url(#gM2)"/><circle cx="987.1" cy="512.6" r="6.2" fill="url(#gS)"/><circle cx="1009.4" cy="512.6" r="6.4" fill="url(#gM2)"/><circle cx="686.9" cy="532.2" r="6.2" fill="url(#gS)"/><circle cx="709.2" cy="532.2" r="6.4" fill="url(#gM2)"/><circle cx="753.6" cy="532.2" r="6.2" fill="url(#gS)"/><circle cx="775.9" cy="532.2" r="6.4" fill="url(#gM2)"/><circle cx="822.8" cy="532.2" r="6.4" fill="url(#gM2)"/><circle cx="842.6" cy="532.2" r="6.4" fill="url(#gM2)"/><circle cx="887.0" cy="532.2" r="6.2" fill="url(#gS)"/><circle cx="909.3" cy="532.2" r="6.4" fill="url(#gM2)"/><circle cx="953.7" cy="532.2" r="6.2" fill="url(#gS)"/><circle cx="976.0" cy="532.2" r="6.4" fill="url(#gM2)"/><circle cx="653.6" cy="551.8" r="6.2" fill="url(#gS)"/><circle cx="675.9" cy="551.8" r="6.4" fill="url(#gM2)"/><circle cx="720.3" cy="551.8" r="6.2" fill="url(#gS)"/><circle cx="742.6" cy="551.8" r="6.4" fill="url(#gM2)"/><circle cx="787.0" cy="551.8" r="6.2" fill="url(#gS)"/><circle cx="809.3" cy="551.8" r="6.4" fill="url(#gM2)"/><circle cx="853.7" cy="551.8" r="6.2" fill="url(#gS)"/><circle cx="876.0" cy="551.8" r="6.4" fill="url(#gM2)"/><circle cx="920.4" cy="551.8" r="6.2" fill="url(#gS)"/><circle cx="942.7" cy="551.8" r="6.4" fill="url(#gM2)"/><circle cx="987.1" cy="551.8" r="6.2" fill="url(#gS)"/><circle cx="1009.4" cy="551.8" r="6.4" fill="url(#gM2)"/><circle cx="686.9" cy="571.4" r="6.2" fill="url(#gS)"/><circle cx="709.2" cy="571.4" r="6.4" fill="url(#gM2)"/><circle cx="753.6" cy="571.4" r="6.2" fill="url(#gS)"/><circle cx="775.9" cy="571.4" r="6.4" fill="url(#gM2)"/><circle cx="820.3" cy="571.4" r="6.2" fill="url(#gS)"/><circle cx="842.6" cy="571.4" r="6.4" fill="url(#gM2)"/><circle cx="887.0" cy="571.4" r="6.2" fill="url(#gS)"/><circle cx="909.3" cy="571.4" r="6.4" fill="url(#gM2)"/><circle cx="953.7" cy="571.4" r="6.2" fill="url(#gS)"/><circle cx="976.0" cy="571.4" r="6.4" fill="url(#gM2)"/><circle cx="653.6" cy="591.0" r="6.2" fill="url(#gS)"/><circle cx="675.9" cy="591.0" r="6.4" fill="url(#gM2)"/><circle cx="720.3" cy="591.0" r="6.2" fill="url(#gS)"/><circle cx="742.6" cy="591.0" r="6.4" fill="url(#gM2)"/><circle cx="787.0" cy="591.0" r="6.2" fill="url(#gS)"/><circle cx="809.3" cy="591.0" r="6.4" fill="url(#gM2)"/><circle cx="853.7" cy="591.0" r="6.2" fill="url(#gS)"/><circle cx="876.0" cy="591.0" r="6.4" fill="url(#gM2)"/><circle cx="920.4" cy="591.0" r="6.2" fill="url(#gS)"/><circle cx="942.7" cy="591.0" r="6.4" fill="url(#gM2)"/><circle cx="987.1" cy="591.0" r="6.2" fill="url(#gS)"/><circle cx="1009.4" cy="591.0" r="6.4" fill="url(#gM2)"/><circle cx="686.9" cy="610.6" r="6.2" fill="url(#gS)"/><circle cx="709.2" cy="610.6" r="6.4" fill="url(#gM2)"/><circle cx="753.6" cy="610.6" r="6.2" fill="url(#gS)"/><circle cx="775.9" cy="610.6" r="6.4" fill="url(#gM2)"/><circle cx="820.3" cy="610.6" r="6.2" fill="url(#gS)"/><circle cx="842.6" cy="610.6" r="6.4" fill="url(#gM2)"/><circle cx="887.0" cy="610.6" r="6.2" fill="url(#gS)"/><circle cx="909.3" cy="610.6" r="6.4" fill="url(#gM2)"/><circle cx="953.7" cy="610.6" r="6.2" fill="url(#gS)"/><circle cx="976.0" cy="610.6" r="6.4" fill="url(#gM2)"/></g><circle cx="824.3" cy="533.0" r="9.6" fill="none" stroke="#000" stroke-width="2.3" stroke-dasharray="3.6 2.4"/>
<g font-family="'DejaVu Sans', 'Liberation Sans', sans-serif" fill="#000"><text x="941.0" y="314.9" font-size="29.0" letter-spacing="1">Mo</text><text x="984.1" y="320.7" font-size="26.3">S</text><text x="1000.8" y="325.8" font-size="18.7">2</text></g>
<clipPath id="c11"><rect x="917.0" y="333.2" width="136.9" height="52.0"/></clipPath>
<g clip-path="url(#c11)"><line x1="905.0" y1="359.2" x2="895.0" y2="348.8" stroke="#58be48" stroke-width="3.8"/><line x1="895.0" y1="348.8" x2="885.0" y2="338.3" stroke="#e6e03c" stroke-width="3.8"/><line x1="905.0" y1="359.2" x2="895.0" y2="369.0" stroke="#58be48" stroke-width="3.8"/><line x1="895.0" y1="369.0" x2="885.0" y2="378.9" stroke="#e6e03c" stroke-width="3.8"/><line x1="905.0" y1="359.2" x2="912.0" y2="348.8" stroke="#58be48" stroke-width="3.8"/><line x1="912.0" y1="348.8" x2="919.0" y2="338.3" stroke="#e6e03c" stroke-width="3.8"/><line x1="905.0" y1="359.2" x2="912.0" y2="369.0" stroke="#58be48" stroke-width="3.8"/><line x1="912.0" y1="369.0" x2="919.0" y2="378.9" stroke="#e6e03c" stroke-width="3.8"/><line x1="939.2" y1="359.2" x2="929.1" y2="348.8" stroke="#58be48" stroke-width="3.8"/><line x1="929.1" y1="348.8" x2="919.0" y2="338.3" stroke="#e6e03c" stroke-width="3.8"/><line x1="939.2" y1="359.2" x2="929.1" y2="369.0" stroke="#58be48" stroke-width="3.8"/><line x1="929.1" y1="369.0" x2="919.0" y2="378.9" stroke="#e6e03c" stroke-width="3.8"/><line x1="939.2" y1="359.2" x2="944.3" y2="348.8" stroke="#58be48" stroke-width="3.8"/><line x1="944.3" y1="348.8" x2="949.4" y2="338.3" stroke="#e6e03c" stroke-width="3.8"/><line x1="939.2" y1="359.2" x2="944.3" y2="369.0" stroke="#58be48" stroke-width="3.8"/><line x1="944.3" y1="369.0" x2="949.4" y2="378.9" stroke="#e6e03c" stroke-width="3.8"/><line x1="970.9" y1="359.2" x2="960.1" y2="348.8" stroke="#58be48" stroke-width="3.8"/><line x1="960.1" y1="348.8" x2="949.4" y2="338.3" stroke="#e6e03c" stroke-width="3.8"/><line x1="970.9" y1="359.2" x2="960.1" y2="369.0" stroke="#58be48" stroke-width="3.8"/><line x1="960.1" y1="369.0" x2="949.4" y2="378.9" stroke="#e6e03c" stroke-width="3.8"/><line x1="1012.1" y1="359.2" x2="1015.9" y2="348.8" stroke="#58be48" stroke-width="3.8"/><line x1="1015.9" y1="348.8" x2="1019.6" y2="338.3" stroke="#e6e03c" stroke-width="3.8"/><line x1="1012.1" y1="359.2" x2="1015.9" y2="369.0" stroke="#58be48" stroke-width="3.8"/><line x1="1015.9" y1="369.0" x2="1019.6" y2="378.9" stroke="#e6e03c" stroke-width="3.8"/><line x1="1042.5" y1="359.2" x2="1031.0" y2="348.8" stroke="#58be48" stroke-width="3.8"/><line x1="1031.0" y1="348.8" x2="1019.6" y2="338.3" stroke="#e6e03c" stroke-width="3.8"/><line x1="1042.5" y1="359.2" x2="1031.0" y2="369.0" stroke="#58be48" stroke-width="3.8"/><line x1="1031.0" y1="369.0" x2="1019.6" y2="378.9" stroke="#e6e03c" stroke-width="3.8"/><line x1="1042.5" y1="359.2" x2="1046.7" y2="348.8" stroke="#58be48" stroke-width="3.8"/><line x1="1046.7" y1="348.8" x2="1050.8" y2="338.3" stroke="#e6e03c" stroke-width="3.8"/><line x1="1042.5" y1="359.2" x2="1046.7" y2="369.0" stroke="#58be48" stroke-width="3.8"/><line x1="1046.7" y1="369.0" x2="1050.8" y2="378.9" stroke="#e6e03c" stroke-width="3.8"/><line x1="1076.0" y1="359.2" x2="1063.4" y2="348.8" stroke="#58be48" stroke-width="3.8"/><line x1="1063.4" y1="348.8" x2="1050.8" y2="338.3" stroke="#e6e03c" stroke-width="3.8"/><line x1="1076.0" y1="359.2" x2="1063.4" y2="369.0" stroke="#58be48" stroke-width="3.8"/><line x1="1063.4" y1="369.0" x2="1050.8" y2="378.9" stroke="#e6e03c" stroke-width="3.8"/><line x1="1076.0" y1="359.2" x2="1080.0" y2="348.8" stroke="#58be48" stroke-width="3.8"/><line x1="1080.0" y1="348.8" x2="1084.0" y2="338.3" stroke="#e6e03c" stroke-width="3.8"/><line x1="1076.0" y1="359.2" x2="1080.0" y2="369.0" stroke="#58be48" stroke-width="3.8"/><line x1="1080.0" y1="369.0" x2="1084.0" y2="378.9" stroke="#e6e03c" stroke-width="3.8"/><line x1="970.9" y1="359.2" x2="977.8" y2="362.7" stroke="#58be48" stroke-width="3.8"/><line x1="977.8" y1="362.7" x2="984.8" y2="366.2" stroke="#58be48" stroke-width="3.8"/><line x1="1012.1" y1="359.2" x2="998.5" y2="362.7" stroke="#58be48" stroke-width="3.8"/><line x1="998.5" y1="362.7" x2="984.8" y2="366.2" stroke="#58be48" stroke-width="3.8"/><circle cx="885.0" cy="338.3" r="6.2" fill="url(#gS)"/><circle cx="885.0" cy="378.9" r="6.2" fill="url(#gS)"/><circle cx="919.0" cy="338.3" r="6.2" fill="url(#gS)"/><circle cx="919.0" cy="378.9" r="6.2" fill="url(#gS)"/><circle cx="949.4" cy="338.3" r="6.2" fill="url(#gS)"/><circle cx="949.4" cy="378.9" r="6.2" fill="url(#gS)"/><circle cx="1019.6" cy="338.3" r="6.2" fill="url(#gS)"/><circle cx="1019.6" cy="378.9" r="6.2" fill="url(#gS)"/><circle cx="1050.8" cy="338.3" r="6.2" fill="url(#gS)"/><circle cx="1050.8" cy="378.9" r="6.2" fill="url(#gS)"/><circle cx="1084.0" cy="338.3" r="6.2" fill="url(#gS)"/><circle cx="1084.0" cy="378.9" r="6.2" fill="url(#gS)"/><circle cx="905.0" cy="359.2" r="6.8" fill="url(#gM)"/><circle cx="939.2" cy="359.2" r="6.8" fill="url(#gM)"/><circle cx="970.9" cy="359.2" r="6.8" fill="url(#gM)"/><circle cx="1012.1" cy="359.2" r="6.8" fill="url(#gM)"/><circle cx="1042.5" cy="359.2" r="6.8" fill="url(#gM)"/><circle cx="1076.0" cy="359.2" r="6.8" fill="url(#gM)"/><circle cx="984.8" cy="366.2" r="6.8" fill="url(#gM)"/></g>
<clipPath id="c12"><rect x="917.1" y="400.0" width="137.1" height="119.0"/></clipPath>
<g clip-path="url(#c12)"><line x1="849.0" y1="379.8" x2="859.9" y2="379.8" stroke="#e6e03c" stroke-width="4.2"/><line x1="859.9" y1="379.8" x2="870.8" y2="379.8" stroke="#58be48" stroke-width="4.2"/><line x1="849.0" y1="379.8" x2="841.9" y2="389.8" stroke="#a39c2c" stroke-width="4.2"/><line x1="841.9" y1="389.8" x2="834.8" y2="399.8" stroke="#3a963a" stroke-width="4.2"/><line x1="870.8" y1="379.8" x2="876.1" y2="389.8" stroke="#58be48" stroke-width="4.2"/><line x1="876.1" y1="389.8" x2="881.5" y2="399.8" stroke="#e6e03c" stroke-width="4.2"/><line x1="917.5" y1="379.8" x2="928.4" y2="379.8" stroke="#e6e03c" stroke-width="4.2"/><line x1="928.4" y1="379.8" x2="939.3" y2="379.8" stroke="#58be48" stroke-width="4.2"/><line x1="917.5" y1="379.8" x2="910.4" y2="389.8" stroke="#a39c2c" stroke-width="4.2"/><line x1="910.4" y1="389.8" x2="903.3" y2="399.8" stroke="#3a963a" stroke-width="4.2"/><line x1="939.3" y1="379.8" x2="944.6" y2="389.8" stroke="#58be48" stroke-width="4.2"/><line x1="944.6" y1="389.8" x2="950.0" y2="399.8" stroke="#e6e03c" stroke-width="4.2"/><line x1="986.0" y1="379.8" x2="996.9" y2="379.8" stroke="#e6e03c" stroke-width="4.2"/><line x1="996.9" y1="379.8" x2="1007.8" y2="379.8" stroke="#58be48" stroke-width="4.2"/><line x1="986.0" y1="379.8" x2="978.9" y2="389.8" stroke="#a39c2c" stroke-width="4.2"/><line x1="978.9" y1="389.8" x2="971.8" y2="399.8" stroke="#3a963a" stroke-width="4.2"/><line x1="1007.8" y1="379.8" x2="1013.1" y2="389.8" stroke="#58be48" stroke-width="4.2"/><line x1="1013.1" y1="389.8" x2="1018.5" y2="399.8" stroke="#e6e03c" stroke-width="4.2"/><line x1="1054.5" y1="379.8" x2="1065.4" y2="379.8" stroke="#e6e03c" stroke-width="4.2"/><line x1="1065.4" y1="379.8" x2="1076.3" y2="379.8" stroke="#58be48" stroke-width="4.2"/><line x1="1054.5" y1="379.8" x2="1047.4" y2="389.8" stroke="#a39c2c" stroke-width="4.2"/><line x1="1047.4" y1="389.8" x2="1040.3" y2="399.8" stroke="#3a963a" stroke-width="4.2"/><line x1="1076.3" y1="379.8" x2="1081.7" y2="389.8" stroke="#58be48" stroke-width="4.2"/><line x1="1081.7" y1="389.8" x2="1087.0" y2="399.8" stroke="#e6e03c" stroke-width="4.2"/><line x1="1123.0" y1="379.8" x2="1133.9" y2="379.8" stroke="#e6e03c" stroke-width="4.2"/><line x1="1133.9" y1="379.8" x2="1144.8" y2="379.8" stroke="#58be48" stroke-width="4.2"/><line x1="1123.0" y1="379.8" x2="1115.9" y2="389.8" stroke="#a39c2c" stroke-width="4.2"/><line x1="1115.9" y1="389.8" x2="1108.8" y2="399.8" stroke="#3a963a" stroke-width="4.2"/><line x1="1144.8" y1="379.8" x2="1150.2" y2="389.8" stroke="#58be48" stroke-width="4.2"/><line x1="1150.2" y1="389.8" x2="1155.5" y2="399.8" stroke="#e6e03c" stroke-width="4.2"/><line x1="813.0" y1="399.8" x2="823.9" y2="399.8" stroke="#e6e03c" stroke-width="4.2"/><line x1="823.9" y1="399.8" x2="834.8" y2="399.8" stroke="#58be48" stroke-width="4.2"/><line x1="834.8" y1="399.8" x2="841.9" y2="409.8" stroke="#58be48" stroke-width="4.2"/><line x1="841.9" y1="409.8" x2="849.0" y2="419.8" stroke="#e6e03c" stroke-width="4.2"/><line x1="881.5" y1="399.8" x2="892.4" y2="399.8" stroke="#e6e03c" stroke-width="4.2"/><line x1="892.4" y1="399.8" x2="903.3" y2="399.8" stroke="#58be48" stroke-width="4.2"/><line x1="881.5" y1="399.8" x2="876.1" y2="409.8" stroke="#a39c2c" stroke-width="4.2"/><line x1="876.1" y1="409.8" x2="870.8" y2="419.8" stroke="#3a963a" stroke-width="4.2"/><line x1="903.3" y1="399.8" x2="910.4" y2="409.8" stroke="#58be48" stroke-width="4.2"/><line x1="910.4" y1="409.8" x2="917.5" y2="419.8" stroke="#e6e03c" stroke-width="4.2"/><line x1="950.0" y1="399.8" x2="960.9" y2="399.8" stroke="#e6e03c" stroke-width="4.2"/><line x1="960.9" y1="399.8" x2="971.8" y2="399.8" stroke="#58be48" stroke-width="4.2"/><line x1="950.0" y1="399.8" x2="944.6" y2="409.8" stroke="#a39c2c" stroke-width="4.2"/><line x1="944.6" y1="409.8" x2="939.3" y2="419.8" stroke="#3a963a" stroke-width="4.2"/><line x1="971.8" y1="399.8" x2="978.9" y2="409.8" stroke="#58be48" stroke-width="4.2"/><line x1="978.9" y1="409.8" x2="986.0" y2="419.8" stroke="#e6e03c" stroke-width="4.2"/><line x1="1018.5" y1="399.8" x2="1029.4" y2="399.8" stroke="#e6e03c" stroke-width="4.2"/><line x1="1029.4" y1="399.8" x2="1040.3" y2="399.8" stroke="#58be48" stroke-width="4.2"/><line x1="1018.5" y1="399.8" x2="1013.1" y2="409.8" stroke="#a39c2c" stroke-width="4.2"/><line x1="1013.1" y1="409.8" x2="1007.8" y2="419.8" stroke="#3a963a" stroke-width="4.2"/><line x1="1040.3" y1="399.8" x2="1047.4" y2="409.8" stroke="#58be48" stroke-width="4.2"/><line x1="1047.4" y1="409.8" x2="1054.5" y2="419.8" stroke="#e6e03c" stroke-width="4.2"/><line x1="1087.0" y1="399.8" x2="1097.9" y2="399.8" stroke="#e6e03c" stroke-width="4.2"/><line x1="1097.9" y1="399.8" x2="1108.8" y2="399.8" stroke="#58be48" stroke-width="4.2"/><line x1="1087.0" y1="399.8" x2="1081.7" y2="409.8" stroke="#a39c2c" stroke-width="4.2"/><line x1="1081.7" y1="409.8" x2="1076.3" y2="419.8" stroke="#3a963a" stroke-width="4.2"/><line x1="1108.8" y1="399.8" x2="1115.9" y2="409.8" stroke="#58be48" stroke-width="4.2"/><line x1="1115.9" y1="409.8" x2="1123.0" y2="419.8" stroke="#e6e03c" stroke-width="4.2"/><line x1="1155.5" y1="399.8" x2="1166.4" y2="399.8" stroke="#e6e03c" stroke-width="4.2"/><line x1="1166.4" y1="399.8" x2="1177.3" y2="399.8" stroke="#58be48" stroke-width="4.2"/><line x1="1155.5" y1="399.8" x2="1150.2" y2="409.8" stroke="#a39c2c" stroke-width="4.2"/><line x1="1150.2" y1="409.8" x2="1144.8" y2="419.8" stroke="#3a963a" stroke-width="4.2"/><line x1="849.0" y1="419.8" x2="859.9" y2="419.8" stroke="#e6e03c" stroke-width="4.2"/><line x1="859.9" y1="419.8" x2="870.8" y2="419.8" stroke="#58be48" stroke-width="4.2"/><line x1="849.0" y1="419.8" x2="841.9" y2="429.8" stroke="#a39c2c" stroke-width="4.2"/><line x1="841.9" y1="429.8" x2="834.8" y2="439.8" stroke="#3a963a" stroke-width="4.2"/><line x1="870.8" y1="419.8" x2="876.1" y2="429.8" stroke="#58be48" stroke-width="4.2"/><line x1="876.1" y1="429.8" x2="881.5" y2="439.8" stroke="#e6e03c" stroke-width="4.2"/><line x1="917.5" y1="419.8" x2="928.4" y2="419.8" stroke="#e6e03c" stroke-width="4.2"/><line x1="928.4" y1="419.8" x2="939.3" y2="419.8" stroke="#58be48" stroke-width="4.2"/><line x1="917.5" y1="419.8" x2="910.4" y2="429.8" stroke="#a39c2c" stroke-width="4.2"/><line x1="910.4" y1="429.8" x2="903.3" y2="439.8" stroke="#3a963a" stroke-width="4.2"/><line x1="939.3" y1="419.8" x2="944.6" y2="429.8" stroke="#58be48" stroke-width="4.2"/><line x1="944.6" y1="429.8" x2="950.0" y2="439.8" stroke="#e6e03c" stroke-width="4.2"/><line x1="986.0" y1="419.8" x2="996.9" y2="419.8" stroke="#e6e03c" stroke-width="4.2"/><line x1="996.9" y1="419.8" x2="1007.8" y2="419.8" stroke="#58be48" stroke-width="4.2"/><line x1="986.0" y1="419.8" x2="978.9" y2="429.8" stroke="#a39c2c" stroke-width="4.2"/><line x1="978.9" y1="429.8" x2="971.8" y2="439.8" stroke="#3a963a" stroke-width="4.2"/><line x1="1007.8" y1="419.8" x2="1013.1" y2="429.8" stroke="#58be48" stroke-width="4.2"/><line x1="1013.1" y1="429.8" x2="1018.5" y2="439.8" stroke="#e6e03c" stroke-width="4.2"/><line x1="1054.5" y1="419.8" x2="1065.4" y2="419.8" stroke="#e6e03c" stroke-width="4.2"/><line x1="1065.4" y1="419.8" x2="1076.3" y2="419.8" stroke="#58be48" stroke-width="4.2"/><line x1="1054.5" y1="419.8" x2="1047.4" y2="429.8" stroke="#a39c2c" stroke-width="4.2"/><line x1="1047.4" y1="429.8" x2="1040.3" y2="439.8" stroke="#3a963a" stroke-width="4.2"/><line x1="1076.3" y1="419.8" x2="1081.7" y2="429.8" stroke="#58be48" stroke-width="4.2"/><line x1="1081.7" y1="429.8" x2="1087.0" y2="439.8" stroke="#e6e03c" stroke-width="4.2"/><line x1="1123.0" y1="419.8" x2="1133.9" y2="419.8" stroke="#e6e03c" stroke-width="4.2"/><line x1="1133.9" y1="419.8" x2="1144.8" y2="419.8" stroke="#58be48" stroke-width="4.2"/><line x1="1123.0" y1="419.8" x2="1115.9" y2="429.8" stroke="#a39c2c" stroke-width="4.2"/><line x1="1115.9" y1="429.8" x2="1108.8" y2="439.8" stroke="#3a963a" stroke-width="4.2"/><line x1="1144.8" y1="419.8" x2="1150.2" y2="429.8" stroke="#58be48" stroke-width="4.2"/><line x1="1150.2" y1="429.8" x2="1155.5" y2="439.8" stroke="#e6e03c" stroke-width="4.2"/><line x1="813.0" y1="439.8" x2="823.9" y2="439.8" stroke="#e6e03c" stroke-width="4.2"/><line x1="823.9" y1="439.8" x2="834.8" y2="439.8" stroke="#58be48" stroke-width="4.2"/><line x1="834.8" y1="439.8" x2="841.9" y2="449.8" stroke="#58be48" stroke-width="4.2"/><line x1="841.9" y1="449.8" x2="849.0" y2="459.8" stroke="#e6e03c" stroke-width="4.2"/><line x1="881.5" y1="439.8" x2="892.4" y2="439.8" stroke="#e6e03c" stroke-width="4.2"/><line x1="892.4" y1="439.8" x2="903.3" y2="439.8" stroke="#58be48" stroke-width="4.2"/><line x1="881.5" y1="439.8" x2="876.1" y2="449.8" stroke="#a39c2c" stroke-width="4.2"/><line x1="876.1" y1="449.8" x2="870.8" y2="459.8" stroke="#3a963a" stroke-width="4.2"/><line x1="903.3" y1="439.8" x2="910.4" y2="449.8" stroke="#58be48" stroke-width="4.2"/><line x1="910.4" y1="449.8" x2="917.5" y2="459.8" stroke="#e6e03c" stroke-width="4.2"/><line x1="950.0" y1="439.8" x2="960.9" y2="439.8" stroke="#e6e03c" stroke-width="4.2"/><line x1="960.9" y1="439.8" x2="971.8" y2="439.8" stroke="#58be48" stroke-width="4.2"/><line x1="950.0" y1="439.8" x2="944.6" y2="449.8" stroke="#a39c2c" stroke-width="4.2"/><line x1="944.6" y1="449.8" x2="939.3" y2="459.8" stroke="#3a963a" stroke-width="4.2"/><line x1="971.8" y1="439.8" x2="978.9" y2="449.8" stroke="#58be48" stroke-width="4.2"/><line x1="978.9" y1="449.8" x2="986.0" y2="459.8" stroke="#58be48" stroke-width="4.2"/><line x1="1018.5" y1="439.8" x2="1029.4" y2="439.8" stroke="#e6e03c" stroke-width="4.2"/><line x1="1029.4" y1="439.8" x2="1040.3" y2="439.8" stroke="#58be48" stroke-width="4.2"/><line x1="1018.5" y1="439.8" x2="1014.4" y2="449.8" stroke="#a39c2c" stroke-width="4.2"/><line x1="1014.4" y1="449.8" x2="1010.3" y2="459.8" stroke="#3a963a" stroke-width="4.2"/><line x1="1040.3" y1="439.8" x2="1047.4" y2="449.8" stroke="#58be48" stroke-width="4.2"/><line x1="1047.4" y1="449.8" x2="1054.5" y2="459.8" stroke="#e6e03c" stroke-width="4.2"/><line x1="1087.0" y1="439.8" x2="1097.9" y2="439.8" stroke="#e6e03c" stroke-width="4.2"/><line x1="1097.9" y1="439.8" x2="1108.8" y2="439.8" stroke="#58be48" stroke-width="4.2"/><line x1="1087.0" y1="439.8" x2="1081.7" y2="449.8" stroke="#a39c2c" stroke-width="4.2"/><line x1="1081.7" y1="449.8" x2="1076.3" y2="459.8" stroke="#3a963a" stroke-width="4.2"/><line x1="1108.8" y1="439.8" x2="1115.9" y2="449.8" stroke="#58be48" stroke-width="4.2"/><line x1="1115.9" y1="449.8" x2="1123.0" y2="459.8" stroke="#e6e03c" stroke-width="4.2"/><line x1="1155.5" y1="439.8" x2="1166.4" y2="439.8" stroke="#e6e03c" stroke-width="4.2"/><line x1="1166.4" y1="439.8" x2="1177.3" y2="439.8" stroke="#58be48" stroke-width="4.2"/><line x1="1155.5" y1="439.8" x2="1150.2" y2="449.8" stroke="#a39c2c" stroke-width="4.2"/><line x1="1150.2" y1="449.8" x2="1144.8" y2="459.8" stroke="#3a963a" stroke-width="4.2"/><line x1="849.0" y1="459.8" x2="859.9" y2="459.8" stroke="#e6e03c" stroke-width="4.2"/><line x1="859.9" y1="459.8" x2="870.8" y2="459.8" stroke="#58be48" stroke-width="4.2"/><line x1="849.0" y1="459.8" x2="841.9" y2="469.8" stroke="#a39c2c" stroke-width="4.2"/><line x1="841.9" y1="469.8" x2="834.8" y2="479.7" stroke="#3a963a" stroke-width="4.2"/><line x1="870.8" y1="459.8" x2="876.1" y2="469.8" stroke="#58be48" stroke-width="4.2"/><line x1="876.1" y1="469.8" x2="881.5" y2="479.7" stroke="#e6e03c" stroke-width="4.2"/><line x1="917.5" y1="459.8" x2="928.4" y2="459.8" stroke="#e6e03c" stroke-width="4.2"/><line x1="928.4" y1="459.8" x2="939.3" y2="459.8" stroke="#58be48" stroke-width="4.2"/><line x1="917.5" y1="459.8" x2="910.4" y2="469.8" stroke="#a39c2c" stroke-width="4.2"/><line x1="910.4" y1="469.8" x2="903.3" y2="479.7" stroke="#3a963a" stroke-width="4.2"/><line x1="939.3" y1="459.8" x2="944.6" y2="469.8" stroke="#58be48" stroke-width="4.2"/><line x1="944.6" y1="469.8" x2="950.0" y2="479.7" stroke="#e6e03c" stroke-width="4.2"/><line x1="986.0" y1="459.8" x2="998.1" y2="459.8" stroke="#58be48" stroke-width="4.2"/><line x1="998.1" y1="459.8" x2="1010.3" y2="459.8" stroke="#58be48" stroke-width="4.2"/><line x1="986.0" y1="459.8" x2="978.9" y2="469.8" stroke="#3a963a" stroke-width="4.2"/><line x1="978.9" y1="469.8" x2="971.8" y2="479.7" stroke="#3a963a" stroke-width="4.2"/><line x1="1010.3" y1="459.8" x2="1014.4" y2="469.8" stroke="#58be48" stroke-width="4.2"/><line x1="1014.4" y1="469.8" x2="1018.5" y2="479.7" stroke="#e6e03c" stroke-width="4.2"/><line x1="1054.5" y1="459.8" x2="1065.4" y2="459.8" stroke="#e6e03c" stroke-width="4.2"/><line x1="1065.4" y1="459.8" x2="1076.3" y2="459.8" stroke="#58be48" stroke-width="4.2"/><line x1="1054.5" y1="459.8" x2="1047.4" y2="469.8" stroke="#a39c2c" stroke-width="4.2"/><line x1="1047.4" y1="469.8" x2="1040.3" y2="479.7" stroke="#3a963a" stroke-width="4.2"/><line x1="1076.3" y1="459.8" x2="1081.7" y2="469.8" stroke="#58be48" stroke-width="4.2"/><line x1="1081.7" y1="469.8" x2="1087.0" y2="479.7" stroke="#e6e03c" stroke-width="4.2"/><line x1="1123.0" y1="459.8" x2="1133.9" y2="459.8" stroke="#e6e03c" stroke-width="4.2"/><line x1="1133.9" y1="459.8" x2="1144.8" y2="459.8" stroke="#58be48" stroke-width="4.2"/><line x1="1123.0" y1="459.8" x2="1115.9" y2="469.8" stroke="#a39c2c" stroke-width="4.2"/><line x1="1115.9" y1="469.8" x2="1108.8" y2="479.7" stroke="#3a963a" stroke-width="4.2"/><line x1="1144.8" y1="459.8" x2="1150.2" y2="469.8" stroke="#58be48" stroke-width="4.2"/><line x1="1150.2" y1="469.8" x2="1155.5" y2="479.7" stroke="#e6e03c" stroke-width="4.2"/><line x1="813.0" y1="479.7" x2="823.9" y2="479.7" stroke="#e6e03c" stroke-width="4.2"/><line x1="823.9" y1="479.7" x2="834.8" y2="479.7" stroke="#58be48" stroke-width="4.2"/><line x1="834.8" y1="479.7" x2="841.9" y2="489.7" stroke="#58be48" stroke-width="4.2"/><line x1="841.9" y1="489.7" x2="849.0" y2="499.7" stroke="#e6e03c" stroke-width="4.2"/><line x1="881.5" y1="479.7" x2="892.4" y2="479.7" stroke="#e6e03c" stroke-width="4.2"/><line x1="892.4" y1="479.7" x2="903.3" y2="479.7" stroke="#58be48" stroke-width="4.2"/><line x1="881.5" y1="479.7" x2="876.1" y2="489.7" stroke="#a39c2c" stroke-width="4.2"/><line x1="876.1" y1="489.7" x2="870.8" y2="499.7" stroke="#3a963a" stroke-width="4.2"/><line x1="903.3" y1="479.7" x2="910.4" y2="489.7" stroke="#58be48" stroke-width="4.2"/><line x1="910.4" y1="489.7" x2="917.5" y2="499.7" stroke="#e6e03c" stroke-width="4.2"/><line x1="950.0" y1="479.7" x2="960.9" y2="479.7" stroke="#e6e03c" stroke-width="4.2"/><line x1="960.9" y1="479.7" x2="971.8" y2="479.7" stroke="#58be48" stroke-width="4.2"/><line x1="950.0" y1="479.7" x2="944.6" y2="489.7" stroke="#a39c2c" stroke-width="4.2"/><line x1="944.6" y1="489.7" x2="939.3" y2="499.7" stroke="#3a963a" stroke-width="4.2"/><line x1="971.8" y1="479.7" x2="978.9" y2="489.7" stroke="#58be48" stroke-width="4.2"/><line x1="978.9" y1="489.7" x2="986.0" y2="499.7" stroke="#e6e03c" stroke-width="4.2"/><line x1="1018.5" y1="479.7" x2="1029.4" y2="479.7" stroke="#e6e03c" stroke-width="4.2"/><line x1="1029.4" y1="479.7" x2="1040.3" y2="479.7" stroke="#58be48" stroke-width="4.2"/><line x1="1018.5" y1="479.7" x2="1013.1" y2="489.7" stroke="#a39c2c" stroke-width="4.2"/><line x1="1013.1" y1="489.7" x2="1007.8" y2="499.7" stroke="#3a963a" stroke-width="4.2"/><line x1="1040.3" y1="479.7" x2="1047.4" y2="489.7" stroke="#58be48" stroke-width="4.2"/><line x1="1047.4" y1="489.7" x2="1054.5" y2="499.7" stroke="#e6e03c" stroke-width="4.2"/><line x1="1087.0" y1="479.7" x2="1097.9" y2="479.7" stroke="#e6e03c" stroke-width="4.2"/><line x1="1097.9" y1="479.7" x2="1108.8" y2="479.7" stroke="#58be48" stroke-width="4.2"/><line x1="1087.0" y1="479.7" x2="1081.7" y2="489.7" stroke="#a39c2c" stroke-width="4.2"/><line x1="1081.7" y1="489.7" x2="1076.3" y2="499.7" stroke="#3a963a" stroke-width="4.2"/><line x1="1108.8" y1="479.7" x2="1115.9" y2="489.7" stroke="#58be48" stroke-width="4.2"/><line x1="1115.9" y1="489.7" x2="1123.0" y2="499.7" stroke="#e6e03c" stroke-width="4.2"/><line x1="1155.5" y1="479.7" x2="1166.4" y2="479.7" stroke="#e6e03c" stroke-width="4.2"/><line x1="1166.4" y1="479.7" x2="1177.3" y2="479.7" stroke="#58be48" stroke-width="4.2"/><line x1="1155.5" y1="479.7" x2="1150.2" y2="489.7" stroke="#a39c2c" stroke-width="4.2"/><line x1="1150.2" y1="489.7" x2="1144.8" y2="499.7" stroke="#3a963a" stroke-width="4.2"/><line x1="849.0" y1="499.7" x2="859.9" y2="499.7" stroke="#e6e03c" stroke-width="4.2"/><line x1="859.9" y1="499.7" x2="870.8" y2="499.7" stroke="#58be48" stroke-width="4.2"/><line x1="849.0" y1="499.7" x2="841.9" y2="509.7" stroke="#a39c2c" stroke-width="4.2"/><line x1="841.9" y1="509.7" x2="834.8" y2="519.7" stroke="#3a963a" stroke-width="4.2"/><line x1="870.8" y1="499.7" x2="876.1" y2="509.7" stroke="#58be48" stroke-width="4.2"/><line x1="876.1" y1="509.7" x2="881.5" y2="519.7" stroke="#e6e03c" stroke-width="4.2"/><line x1="917.5" y1="499.7" x2="928.4" y2="499.7" stroke="#e6e03c" stroke-width="4.2"/><line x1="928.4" y1="499.7" x2="939.3" y2="499.7" stroke="#58be48" stroke-width="4.2"/><line x1="917.5" y1="499.7" x2="910.4" y2="509.7" stroke="#a39c2c" stroke-width="4.2"/><line x1="910.4" y1="509.7" x2="903.3" y2="519.7" stroke="#3a963a" stroke-width="4.2"/><line x1="939.3" y1="499.7" x2="944.6" y2="509.7" stroke="#58be48" stroke-width="4.2"/><line x1="944.6" y1="509.7" x2="950.0" y2="519.7" stroke="#e6e03c" stroke-width="4.2"/><line x1="986.0" y1="499.7" x2="996.9" y2="499.7" stroke="#e6e03c" stroke-width="4.2"/><line x1="996.9" y1="499.7" x2="1007.8" y2="499.7" stroke="#58be48" stroke-width="4.2"/><line x1="986.0" y1="499.7" x2="978.9" y2="509.7" stroke="#a39c2c" stroke-width="4.2"/><line x1="978.9" y1="509.7" x2="971.8" y2="519.7" stroke="#3a963a" stroke-width="4.2"/><line x1="1007.8" y1="499.7" x2="1013.1" y2="509.7" stroke="#58be48" stroke-width="4.2"/><line x1="1013.1" y1="509.7" x2="1018.5" y2="519.7" stroke="#e6e03c" stroke-width="4.2"/><line x1="1054.5" y1="499.7" x2="1065.4" y2="499.7" stroke="#e6e03c" stroke-width="4.2"/><line x1="1065.4" y1="499.7" x2="1076.3" y2="499.7" stroke="#58be48" stroke-width="4.2"/><line x1="1054.5" y1="499.7" x2="1047.4" y2="509.7" stroke="#a39c2c" stroke-width="4.2"/><line x1="1047.4" y1="509.7" x2="1040.3" y2="519.7" stroke="#3a963a" stroke-width="4.2"/><line x1="1076.3" y1="499.7" x2="1081.7" y2="509.7" stroke="#58be48" stroke-width="4.2"/><line x1="1081.7" y1="509.7" x2="1087.0" y2="519.7" stroke="#e6e03c" stroke-width="4.2"/><line x1="1123.0" y1="499.7" x2="1133.9" y2="499.7" stroke="#e6e03c" stroke-width="4.2"/><line x1="1133.9" y1="499.7" x2="1144.8" y2="499.7" stroke="#58be48" stroke-width="4.2"/><line x1="1123.0" y1="499.7" x2="1115.9" y2="509.7" stroke="#a39c2c" stroke-width="4.2"/><line x1="1115.9" y1="509.7" x2="1108.8" y2="519.7" stroke="#3a963a" stroke-width="4.2"/><line x1="1144.8" y1="499.7" x2="1150.2" y2="509.7" stroke="#58be48" stroke-width="4.2"/><line x1="1150.2" y1="509.7" x2="1155.5" y2="519.7" stroke="#e6e03c" stroke-width="4.2"/><line x1="813.0" y1="519.7" x2="823.9" y2="519.7" stroke="#e6e03c" stroke-width="4.2"/><line x1="823.9" y1="519.7" x2="834.8" y2="519.7" stroke="#58be48" stroke-width="4.2"/><line x1="834.8" y1="519.7" x2="841.9" y2="529.7" stroke="#58be48" stroke-width="4.2"/><line x1="841.9" y1="529.7" x2="849.0" y2="539.7" stroke="#e6e03c" stroke-width="4.2"/><line x1="881.5" y1="519.7" x2="892.4" y2="519.7" stroke="#e6e03c" stroke-width="4.2"/><line x1="892.4" y1="519.7" x2="903.3" y2="519.7" stroke="#58be48" stroke-width="4.2"/><line x1="881.5" y1="519.7" x2="876.1" y2="529.7" stroke="#a39c2c" stroke-width="4.2"/><line x1="876.1" y1="529.7" x2="870.8" y2="539.7" stroke="#3a963a" stroke-width="4.2"/><line x1="903.3" y1="519.7" x2="910.4" y2="529.7" stroke="#58be48" stroke-width="4.2"/><line x1="910.4" y1="529.7" x2="917.5" y2="539.7" stroke="#e6e03c" stroke-width="4.2"/><line x1="950.0" y1="519.7" x2="960.9" y2="519.7" stroke="#e6e03c" stroke-width="4.2"/><line x1="960.9" y1="519.7" x2="971.8" y2="519.7" stroke="#58be48" stroke-width="4.2"/><line x1="950.0" y1="519.7" x2="944.6" y2="529.7" stroke="#a39c2c" stroke-width="4.2"/><line x1="944.6" y1="529.7" x2="939.3" y2="539.7" stroke="#3a963a" stroke-width="4.2"/><line x1="971.8" y1="519.7" x2="978.9" y2="529.7" stroke="#58be48" stroke-width="4.2"/><line x1="978.9" y1="529.7" x2="986.0" y2="539.7" stroke="#e6e03c" stroke-width="4.2"/><line x1="1018.5" y1="519.7" x2="1029.4" y2="519.7" stroke="#e6e03c" stroke-width="4.2"/><line x1="1029.4" y1="519.7" x2="1040.3" y2="519.7" stroke="#58be48" stroke-width="4.2"/><line x1="1018.5" y1="519.7" x2="1013.1" y2="529.7" stroke="#a39c2c" stroke-width="4.2"/><line x1="1013.1" y1="529.7" x2="1007.8" y2="539.7" stroke="#3a963a" stroke-width="4.2"/><line x1="1040.3" y1="519.7" x2="1047.4" y2="529.7" stroke="#58be48" stroke-width="4.2"/><line x1="1047.4" y1="529.7" x2="1054.5" y2="539.7" stroke="#e6e03c" stroke-width="4.2"/><line x1="1087.0" y1="519.7" x2="1097.9" y2="519.7" stroke="#e6e03c" stroke-width="4.2"/><line x1="1097.9" y1="519.7" x2="1108.8" y2="519.7" stroke="#58be48" stroke-width="4.2"/><line x1="1087.0" y1="519.7" x2="1081.7" y2="529.7" stroke="#a39c2c" stroke-width="4.2"/><line x1="1081.7" y1="529.7" x2="1076.3" y2="539.7" stroke="#3a963a" stroke-width="4.2"/><line x1="1108.8" y1="519.7" x2="1115.9" y2="529.7" stroke="#58be48" stroke-width="4.2"/><line x1="1115.9" y1="529.7" x2="1123.0" y2="539.7" stroke="#e6e03c" stroke-width="4.2"/><line x1="1155.5" y1="519.7" x2="1166.4" y2="519.7" stroke="#e6e03c" stroke-width="4.2"/><line x1="1166.4" y1="519.7" x2="1177.3" y2="519.7" stroke="#58be48" stroke-width="4.2"/><line x1="1155.5" y1="519.7" x2="1150.2" y2="529.7" stroke="#a39c2c" stroke-width="4.2"/><line x1="1150.2" y1="529.7" x2="1144.8" y2="539.7" stroke="#3a963a" stroke-width="4.2"/><line x1="849.0" y1="539.7" x2="859.9" y2="539.7" stroke="#e6e03c" stroke-width="4.2"/><line x1="859.9" y1="539.7" x2="870.8" y2="539.7" stroke="#58be48" stroke-width="4.2"/><line x1="917.5" y1="539.7" x2="928.4" y2="539.7" stroke="#e6e03c" stroke-width="4.2"/><line x1="928.4" y1="539.7" x2="939.3" y2="539.7" stroke="#58be48" stroke-width="4.2"/><line x1="986.0" y1="539.7" x2="996.9" y2="539.7" stroke="#e6e03c" stroke-width="4.2"/><line x1="996.9" y1="539.7" x2="1007.8" y2="539.7" stroke="#58be48" stroke-width="4.2"/><line x1="1054.5" y1="539.7" x2="1065.4" y2="539.7" stroke="#e6e03c" stroke-width="4.2"/><line x1="1065.4" y1="539.7" x2="1076.3" y2="539.7" stroke="#58be48" stroke-width="4.2"/><line x1="1123.0" y1="539.7" x2="1133.9" y2="539.7" stroke="#e6e03c" stroke-width="4.2"/><line x1="1133.9" y1="539.7" x2="1144.8" y2="539.7" stroke="#58be48" stroke-width="4.2"/><circle cx="849.0" cy="379.8" r="6.2" fill="url(#gS)"/><circle cx="870.8" cy="379.8" r="6.4" fill="url(#gM2)"/><circle cx="917.5" cy="379.8" r="6.2" fill="url(#gS)"/><circle cx="939.3" cy="379.8" r="6.4" fill="url(#gM2)"/><circle cx="986.0" cy="379.8" r="6.2" fill="url(#gS)"/><circle cx="1007.8" cy="379.8" r="6.4" fill="url(#gM2)"/><circle cx="1054.5" cy="379.8" r="6.2" fill="url(#gS)"/><circle cx="1076.3" cy="379.8" r="6.4" fill="url(#gM2)"/><circle cx="1123.0" cy="379.8" r="6.2" fill="url(#gS)"/><circle cx="1144.8" cy="379.8" r="6.4" fill="url(#gM2)"/><circle cx="813.0" cy="399.8" r="6.2" fill="url(#gS)"/><circle cx="834.8" cy="399.8" r="6.4" fill="url(#gM2)"/><circle cx="881.5" cy="399.8" r="6.2" fill="url(#gS)"/><circle cx="903.3" cy="399.8" r="6.4" fill="url(#gM2)"/><circle cx="950.0" cy="399.8" r="6.2" fill="url(#gS)"/><circle cx="971.8" cy="399.8" r="6.4" fill="url(#gM2)"/><circle cx="1018.5" cy="399.8" r="6.2" fill="url(#gS)"/><circle cx="1040.3" cy="399.8" r="6.4" fill="url(#gM2)"/><circle cx="1087.0" cy="399.8" r="6.2" fill="url(#gS)"/><circle cx="1108.8" cy="399.8" r="6.4" fill="url(#gM2)"/><circle cx="1155.5" cy="399.8" r="6.2" fill="url(#gS)"/><circle cx="1177.3" cy="399.8" r="6.4" fill="url(#gM2)"/><circle cx="849.0" cy="419.8" r="6.2" fill="url(#gS)"/><circle cx="870.8" cy="419.8" r="6.4" fill="url(#gM2)"/><circle cx="917.5" cy="419.8" r="6.2" fill="url(#gS)"/><circle cx="939.3" cy="419.8" r="6.4" fill="url(#gM2)"/><circle cx="986.0" cy="419.8" r="6.2" fill="url(#gS)"/><circle cx="1007.8" cy="419.8" r="6.4" fill="url(#gM2)"/><circle cx="1054.5" cy="419.8" r="6.2" fill="url(#gS)"/><circle cx="1076.3" cy="419.8" r="6.4" fill="url(#gM2)"/><circle cx="1123.0" cy="419.8" r="6.2" fill="url(#gS)"/><circle cx="1144.8" cy="419.8" r="6.4" fill="url(#gM2)"/><circle cx="813.0" cy="439.8" r="6.2" fill="url(#gS)"/><circle cx="834.8" cy="439.8" r="6.4" fill="url(#gM2)"/><circle cx="881.5" cy="439.8" r="6.2" fill="url(#gS)"/><circle cx="903.3" cy="439.8" r="6.4" fill="url(#gM2)"/><circle cx="950.0" cy="439.8" r="6.2" fill="url(#gS)"/><circle cx="971.8" cy="439.8" r="6.4" fill="url(#gM2)"/><circle cx="1018.5" cy="439.8" r="6.2" fill="url(#gS)"/><circle cx="1040.3" cy="439.8" r="6.4" fill="url(#gM2)"/><circle cx="1087.0" cy="439.8" r="6.2" fill="url(#gS)"/><circle cx="1108.8" cy="439.8" r="6.4" fill="url(#gM2)"/><circle cx="1155.5" cy="439.8" r="6.2" fill="url(#gS)"/><circle cx="1177.3" cy="439.8" r="6.4" fill="url(#gM2)"/><circle cx="849.0" cy="459.8" r="6.2" fill="url(#gS)"/><circle cx="870.8" cy="459.8" r="6.4" fill="url(#gM2)"/><circle cx="917.5" cy="459.8" r="6.2" fill="url(#gS)"/><circle cx="939.3" cy="459.8" r="6.4" fill="url(#gM2)"/><circle cx="986.0" cy="459.8" r="6.4" fill="url(#gM2)"/><circle cx="1010.3" cy="459.8" r="6.4" fill="url(#gM2)"/><circle cx="1054.5" cy="459.8" r="6.2" fill="url(#gS)"/><circle cx="1076.3" cy="459.8" r="6.4" fill="url(#gM2)"/><circle cx="1123.0" cy="459.8" r="6.2" fill="url(#gS)"/><circle cx="1144.8" cy="459.8" r="6.4" fill="url(#gM2)"/><circle cx="813.0" cy="479.7" r="6.2" fill="url(#gS)"/><circle cx="834.8" cy="479.7" r="6.4" fill="url(#gM2)"/><circle cx="881.5" cy="479.7" r="6.2" fill="url(#gS)"/><circle cx="903.3" cy="479.7" r="6.4" fill="url(#gM2)"/><circle cx="950.0" cy="479.7" r="6.2" fill="url(#gS)"/><circle cx="971.8" cy="479.7" r="6.4" fill="url(#gM2)"/><circle cx="1018.5" cy="479.7" r="6.2" fill="url(#gS)"/><circle cx="1040.3" cy="479.7" r="6.4" fill="url(#gM2)"/><circle cx="1087.0" cy="479.7" r="6.2" fill="url(#gS)"/><circle cx="1108.8" cy="479.7" r="6.4" fill="url(#gM2)"/><circle cx="1155.5" cy="479.7" r="6.2" fill="url(#gS)"/><circle cx="1177.3" cy="479.7" r="6.4" fill="url(#gM2)"/><circle cx="849.0" cy="499.7" r="6.2" fill="url(#gS)"/><circle cx="870.8" cy="499.7" r="6.4" fill="url(#gM2)"/><circle cx="917.5" cy="499.7" r="6.2" fill="url(#gS)"/><circle cx="939.3" cy="499.7" r="6.4" fill="url(#gM2)"/><circle cx="986.0" cy="499.7" r="6.2" fill="url(#gS)"/><circle cx="1007.8" cy="499.7" r="6.4" fill="url(#gM2)"/><circle cx="1054.5" cy="499.7" r="6.2" fill="url(#gS)"/><circle cx="1076.3" cy="499.7" r="6.4" fill="url(#gM2)"/><circle cx="1123.0" cy="499.7" r="6.2" fill="url(#gS)"/><circle cx="1144.8" cy="499.7" r="6.4" fill="url(#gM2)"/><circle cx="813.0" cy="519.7" r="6.2" fill="url(#gS)"/><circle cx="834.8" cy="519.7" r="6.4" fill="url(#gM2)"/><circle cx="881.5" cy="519.7" r="6.2" fill="url(#gS)"/><circle cx="903.3" cy="519.7" r="6.4" fill="url(#gM2)"/><circle cx="950.0" cy="519.7" r="6.2" fill="url(#gS)"/><circle cx="971.8" cy="519.7" r="6.4" fill="url(#gM2)"/><circle cx="1018.5" cy="519.7" r="6.2" fill="url(#gS)"/><circle cx="1040.3" cy="519.7" r="6.4" fill="url(#gM2)"/><circle cx="1087.0" cy="519.7" r="6.2" fill="url(#gS)"/><circle cx="1108.8" cy="519.7" r="6.4" fill="url(#gM2)"/><circle cx="1155.5" cy="519.7" r="6.2" fill="url(#gS)"/><circle cx="1177.3" cy="519.7" r="6.4" fill="url(#gM2)"/><circle cx="849.0" cy="539.7" r="6.2" fill="url(#gS)"/><circle cx="870.8" cy="539.7" r="6.4" fill="url(#gM2)"/><circle cx="917.5" cy="539.7" r="6.2" fill="url(#gS)"/><circle cx="939.3" cy="539.7" r="6.4" fill="url(#gM2)"/><circle cx="986.0" cy="539.7" r="6.2" fill="url(#gS)"/><circle cx="1007.8" cy="539.7" r="6.4" fill="url(#gM2)"/><circle cx="1054.5" cy="539.7" r="6.2" fill="url(#gS)"/><circle cx="1076.3" cy="539.7" r="6.4" fill="url(#gM2)"/><circle cx="1123.0" cy="539.7" r="6.2" fill="url(#gS)"/><circle cx="1144.8" cy="539.7" r="6.4" fill="url(#gM2)"/></g><circle cx="985.2" cy="459.8" r="10.0" fill="none" stroke="#000" stroke-width="2.3" stroke-dasharray="3.6 2.4"/>
<g font-family="'DejaVu Sans', 'Liberation Sans', sans-serif" fill="#000"><text x="1102.7" y="179.7" font-size="30.1">S</text><text x="1122.1" y="186.5" font-size="26.0">2</text><text x="1138.9" y="185.3" font-size="23.2">Mo</text></g>
<clipPath id="c13"><rect x="1076.3" y="198.6" width="135.7" height="53.7"/></clipPath>
<g clip-path="url(#c13)"><line x1="1078.9" y1="224.5" x2="1066.5" y2="214.6" stroke="#58be48" stroke-width="3.8"/><line x1="1066.5" y1="214.6" x2="1054.0" y2="204.6" stroke="#e6e03c" stroke-width="3.8"/><line x1="1078.9" y1="224.5" x2="1066.5" y2="234.1" stroke="#58be48" stroke-width="3.8"/><line x1="1066.5" y1="234.1" x2="1054.0" y2="243.7" stroke="#e6e03c" stroke-width="3.8"/><line x1="1078.9" y1="224.5" x2="1083.1" y2="214.6" stroke="#58be48" stroke-width="3.8"/><line x1="1083.1" y1="214.6" x2="1087.3" y2="204.6" stroke="#e6e03c" stroke-width="3.8"/><line x1="1078.9" y1="224.5" x2="1082.9" y2="234.1" stroke="#58be48" stroke-width="3.8"/><line x1="1082.9" y1="234.1" x2="1086.9" y2="243.7" stroke="#e6e03c" stroke-width="3.8"/><line x1="1110.0" y1="224.5" x2="1098.7" y2="214.6" stroke="#58be48" stroke-width="3.8"/><line x1="1098.7" y1="214.6" x2="1087.3" y2="204.6" stroke="#e6e03c" stroke-width="3.8"/><line x1="1110.0" y1="224.5" x2="1098.5" y2="234.1" stroke="#58be48" stroke-width="3.8"/><line x1="1098.5" y1="234.1" x2="1086.9" y2="243.7" stroke="#e6e03c" stroke-width="3.8"/><line x1="1110.0" y1="224.5" x2="1114.7" y2="214.6" stroke="#58be48" stroke-width="3.8"/><line x1="1114.7" y1="214.6" x2="1119.3" y2="204.6" stroke="#e6e03c" stroke-width="3.8"/><line x1="1110.0" y1="224.5" x2="1113.3" y2="234.1" stroke="#58be48" stroke-width="3.8"/><line x1="1113.3" y1="234.1" x2="1116.7" y2="243.7" stroke="#e6e03c" stroke-width="3.8"/><line x1="1178.9" y1="224.5" x2="1167.7" y2="214.6" stroke="#58be48" stroke-width="3.8"/><line x1="1167.7" y1="214.6" x2="1156.4" y2="204.6" stroke="#e6e03c" stroke-width="3.8"/><line x1="1178.9" y1="224.5" x2="1168.3" y2="234.1" stroke="#58be48" stroke-width="3.8"/><line x1="1168.3" y1="234.1" x2="1157.7" y2="243.7" stroke="#e6e03c" stroke-width="3.8"/><line x1="1178.9" y1="224.5" x2="1184.2" y2="214.6" stroke="#58be48" stroke-width="3.8"/><line x1="1184.2" y1="214.6" x2="1189.5" y2="204.6" stroke="#e6e03c" stroke-width="3.8"/><line x1="1178.9" y1="224.5" x2="1184.6" y2="234.1" stroke="#58be48" stroke-width="3.8"/><line x1="1184.6" y1="234.1" x2="1190.2" y2="243.7" stroke="#e6e03c" stroke-width="3.8"/><line x1="1210.5" y1="224.5" x2="1200.0" y2="214.6" stroke="#58be48" stroke-width="3.8"/><line x1="1200.0" y1="214.6" x2="1189.5" y2="204.6" stroke="#e6e03c" stroke-width="3.8"/><line x1="1210.5" y1="224.5" x2="1200.3" y2="234.1" stroke="#58be48" stroke-width="3.8"/><line x1="1200.3" y1="234.1" x2="1190.2" y2="243.7" stroke="#e6e03c" stroke-width="3.8"/><line x1="1210.5" y1="224.5" x2="1216.2" y2="214.6" stroke="#58be48" stroke-width="3.8"/><line x1="1216.2" y1="214.6" x2="1222.0" y2="204.6" stroke="#e6e03c" stroke-width="3.8"/><line x1="1210.5" y1="224.5" x2="1216.2" y2="234.1" stroke="#58be48" stroke-width="3.8"/><line x1="1216.2" y1="234.1" x2="1222.0" y2="243.7" stroke="#e6e03c" stroke-width="3.8"/><line x1="1144.5" y1="213.9" x2="1131.9" y2="209.2" stroke="#e6e03c" stroke-width="3.8"/><line x1="1131.9" y1="209.2" x2="1119.3" y2="204.6" stroke="#e6e03c" stroke-width="3.8"/><line x1="1144.5" y1="213.9" x2="1150.5" y2="209.2" stroke="#e6e03c" stroke-width="3.8"/><line x1="1150.5" y1="209.2" x2="1156.4" y2="204.6" stroke="#e6e03c" stroke-width="3.8"/><line x1="1144.5" y1="249.0" x2="1130.6" y2="246.3" stroke="#e6e03c" stroke-width="3.8"/><line x1="1130.6" y1="246.3" x2="1116.7" y2="243.7" stroke="#e6e03c" stroke-width="3.8"/><line x1="1144.5" y1="249.0" x2="1151.1" y2="246.3" stroke="#e6e03c" stroke-width="3.8"/><line x1="1151.1" y1="246.3" x2="1157.7" y2="243.7" stroke="#e6e03c" stroke-width="3.8"/><circle cx="1054.0" cy="204.6" r="6.2" fill="url(#gS)"/><circle cx="1054.0" cy="243.7" r="6.2" fill="url(#gS)"/><circle cx="1087.3" cy="204.6" r="6.2" fill="url(#gS)"/><circle cx="1086.9" cy="243.7" r="6.2" fill="url(#gS)"/><circle cx="1119.3" cy="204.6" r="6.2" fill="url(#gS)"/><circle cx="1116.7" cy="243.7" r="6.2" fill="url(#gS)"/><circle cx="1156.4" cy="204.6" r="6.2" fill="url(#gS)"/><circle cx="1157.7" cy="243.7" r="6.2" fill="url(#gS)"/><circle cx="1189.5" cy="204.6" r="6.2" fill="url(#gS)"/><circle cx="1190.2" cy="243.7" r="6.2" fill="url(#gS)"/><circle cx="1078.9" cy="224.5" r="6.8" fill="url(#gM)"/><circle cx="1110.0" cy="224.5" r="6.8" fill="url(#gM)"/><circle cx="1178.9" cy="224.5" r="6.8" fill="url(#gM)"/><circle cx="1210.5" cy="224.5" r="6.8" fill="url(#gM)"/><circle cx="1144.5" cy="213.9" r="6.2" fill="url(#gS)"/><circle cx="1144.5" cy="249.0" r="6.2" fill="url(#gS)"/><circle cx="1222.0" cy="204.6" r="6.2" fill="url(#gS)"/><circle cx="1222.0" cy="243.7" r="6.2" fill="url(#gS)"/></g>
<clipPath id="c14"><rect x="1076.3" y="266.6" width="135.5" height="116.6"/></clipPath>
<g clip-path="url(#c14)"><line x1="981.0" y1="245.2" x2="992.3" y2="245.2" stroke="#e6e03c" stroke-width="4.2"/><line x1="992.3" y1="245.2" x2="1003.6" y2="245.2" stroke="#58be48" stroke-width="4.2"/><line x1="1003.6" y1="245.2" x2="1010.1" y2="255.1" stroke="#58be48" stroke-width="4.2"/><line x1="1010.1" y1="255.1" x2="1016.6" y2="265.0" stroke="#e6e03c" stroke-width="4.2"/><line x1="1050.4" y1="245.2" x2="1061.7" y2="245.2" stroke="#e6e03c" stroke-width="4.2"/><line x1="1061.7" y1="245.2" x2="1073.0" y2="245.2" stroke="#58be48" stroke-width="4.2"/><line x1="1050.4" y1="245.2" x2="1044.8" y2="255.1" stroke="#a39c2c" stroke-width="4.2"/><line x1="1044.8" y1="255.1" x2="1039.2" y2="265.0" stroke="#3a963a" stroke-width="4.2"/><line x1="1073.0" y1="245.2" x2="1079.5" y2="255.1" stroke="#58be48" stroke-width="4.2"/><line x1="1079.5" y1="255.1" x2="1086.0" y2="265.0" stroke="#e6e03c" stroke-width="4.2"/><line x1="1119.8" y1="245.2" x2="1131.1" y2="245.2" stroke="#e6e03c" stroke-width="4.2"/><line x1="1131.1" y1="245.2" x2="1142.4" y2="245.2" stroke="#58be48" stroke-width="4.2"/><line x1="1119.8" y1="245.2" x2="1114.2" y2="255.1" stroke="#a39c2c" stroke-width="4.2"/><line x1="1114.2" y1="255.1" x2="1108.6" y2="265.0" stroke="#3a963a" stroke-width="4.2"/><line x1="1142.4" y1="245.2" x2="1148.9" y2="255.1" stroke="#58be48" stroke-width="4.2"/><line x1="1148.9" y1="255.1" x2="1155.4" y2="265.0" stroke="#e6e03c" stroke-width="4.2"/><line x1="1189.2" y1="245.2" x2="1200.5" y2="245.2" stroke="#e6e03c" stroke-width="4.2"/><line x1="1200.5" y1="245.2" x2="1211.8" y2="245.2" stroke="#58be48" stroke-width="4.2"/><line x1="1189.2" y1="245.2" x2="1183.6" y2="255.1" stroke="#a39c2c" stroke-width="4.2"/><line x1="1183.6" y1="255.1" x2="1178.0" y2="265.0" stroke="#3a963a" stroke-width="4.2"/><line x1="1211.8" y1="245.2" x2="1218.3" y2="255.1" stroke="#58be48" stroke-width="4.2"/><line x1="1218.3" y1="255.1" x2="1224.8" y2="265.0" stroke="#e6e03c" stroke-width="4.2"/><line x1="1258.6" y1="245.2" x2="1269.9" y2="245.2" stroke="#e6e03c" stroke-width="4.2"/><line x1="1269.9" y1="245.2" x2="1281.2" y2="245.2" stroke="#58be48" stroke-width="4.2"/><line x1="1258.6" y1="245.2" x2="1253.0" y2="255.1" stroke="#a39c2c" stroke-width="4.2"/><line x1="1253.0" y1="255.1" x2="1247.4" y2="265.0" stroke="#3a963a" stroke-width="4.2"/><line x1="1281.2" y1="245.2" x2="1287.7" y2="255.1" stroke="#58be48" stroke-width="4.2"/><line x1="1287.7" y1="255.1" x2="1294.2" y2="265.0" stroke="#e6e03c" stroke-width="4.2"/><line x1="1016.6" y1="265.0" x2="1027.9" y2="265.0" stroke="#e6e03c" stroke-width="4.2"/><line x1="1027.9" y1="265.0" x2="1039.2" y2="265.0" stroke="#58be48" stroke-width="4.2"/><line x1="1016.6" y1="265.0" x2="1010.1" y2="274.9" stroke="#a39c2c" stroke-width="4.2"/><line x1="1010.1" y1="274.9" x2="1003.6" y2="284.8" stroke="#3a963a" stroke-width="4.2"/><line x1="1039.2" y1="265.0" x2="1044.8" y2="274.9" stroke="#58be48" stroke-width="4.2"/><line x1="1044.8" y1="274.9" x2="1050.4" y2="284.8" stroke="#e6e03c" stroke-width="4.2"/><line x1="1086.0" y1="265.0" x2="1097.3" y2="265.0" stroke="#e6e03c" stroke-width="4.2"/><line x1="1097.3" y1="265.0" x2="1108.6" y2="265.0" stroke="#58be48" stroke-width="4.2"/><line x1="1086.0" y1="265.0" x2="1079.5" y2="274.9" stroke="#a39c2c" stroke-width="4.2"/><line x1="1079.5" y1="274.9" x2="1073.0" y2="284.8" stroke="#3a963a" stroke-width="4.2"/><line x1="1108.6" y1="265.0" x2="1114.2" y2="274.9" stroke="#58be48" stroke-width="4.2"/><line x1="1114.2" y1="274.9" x2="1119.8" y2="284.8" stroke="#e6e03c" stroke-width="4.2"/><line x1="1155.4" y1="265.0" x2="1166.7" y2="265.0" stroke="#e6e03c" stroke-width="4.2"/><line x1="1166.7" y1="265.0" x2="1178.0" y2="265.0" stroke="#58be48" stroke-width="4.2"/><line x1="1155.4" y1="265.0" x2="1148.9" y2="274.9" stroke="#a39c2c" stroke-width="4.2"/><line x1="1148.9" y1="274.9" x2="1142.4" y2="284.8" stroke="#3a963a" stroke-width="4.2"/><line x1="1178.0" y1="265.0" x2="1183.6" y2="274.9" stroke="#58be48" stroke-width="4.2"/><line x1="1183.6" y1="274.9" x2="1189.2" y2="284.8" stroke="#e6e03c" stroke-width="4.2"/><line x1="1224.8" y1="265.0" x2="1236.1" y2="265.0" stroke="#e6e03c" stroke-width="4.2"/><line x1="1236.1" y1="265.0" x2="1247.4" y2="265.0" stroke="#58be48" stroke-width="4.2"/><line x1="1224.8" y1="265.0" x2="1218.3" y2="274.9" stroke="#a39c2c" stroke-width="4.2"/><line x1="1218.3" y1="274.9" x2="1211.8" y2="284.8" stroke="#3a963a" stroke-width="4.2"/><line x1="1247.4" y1="265.0" x2="1253.0" y2="274.9" stroke="#58be48" stroke-width="4.2"/><line x1="1253.0" y1="274.9" x2="1258.6" y2="284.8" stroke="#e6e03c" stroke-width="4.2"/><line x1="1294.2" y1="265.0" x2="1305.5" y2="265.0" stroke="#e6e03c" stroke-width="4.2"/><line x1="1305.5" y1="265.0" x2="1316.8" y2="265.0" stroke="#58be48" stroke-width="4.2"/><line x1="1294.2" y1="265.0" x2="1287.7" y2="274.9" stroke="#a39c2c" stroke-width="4.2"/><line x1="1287.7" y1="274.9" x2="1281.2" y2="284.8" stroke="#3a963a" stroke-width="4.2"/><line x1="981.0" y1="284.8" x2="992.3" y2="284.8" stroke="#e6e03c" stroke-width="4.2"/><line x1="992.3" y1="284.8" x2="1003.6" y2="284.8" stroke="#58be48" stroke-width="4.2"/><line x1="1003.6" y1="284.8" x2="1010.1" y2="294.7" stroke="#58be48" stroke-width="4.2"/><line x1="1010.1" y1="294.7" x2="1016.6" y2="304.6" stroke="#e6e03c" stroke-width="4.2"/><line x1="1050.4" y1="284.8" x2="1061.7" y2="284.8" stroke="#e6e03c" stroke-width="4.2"/><line x1="1061.7" y1="284.8" x2="1073.0" y2="284.8" stroke="#58be48" stroke-width="4.2"/><line x1="1050.4" y1="284.8" x2="1044.8" y2="294.7" stroke="#a39c2c" stroke-width="4.2"/><line x1="1044.8" y1="294.7" x2="1039.2" y2="304.6" stroke="#3a963a" stroke-width="4.2"/><line x1="1073.0" y1="284.8" x2="1079.5" y2="294.7" stroke="#58be48" stroke-width="4.2"/><line x1="1079.5" y1="294.7" x2="1086.0" y2="304.6" stroke="#e6e03c" stroke-width="4.2"/><line x1="1119.8" y1="284.8" x2="1131.1" y2="284.8" stroke="#e6e03c" stroke-width="4.2"/><line x1="1131.1" y1="284.8" x2="1142.4" y2="284.8" stroke="#58be48" stroke-width="4.2"/><line x1="1119.8" y1="284.8" x2="1114.2" y2="294.7" stroke="#a39c2c" stroke-width="4.2"/><line x1="1114.2" y1="294.7" x2="1108.6" y2="304.6" stroke="#3a963a" stroke-width="4.2"/><line x1="1142.4" y1="284.8" x2="1148.9" y2="294.7" stroke="#58be48" stroke-width="4.2"/><line x1="1148.9" y1="294.7" x2="1155.4" y2="304.6" stroke="#e6e03c" stroke-width="4.2"/><line x1="1189.2" y1="284.8" x2="1200.5" y2="284.8" stroke="#e6e03c" stroke-width="4.2"/><line x1="1200.5" y1="284.8" x2="1211.8" y2="284.8" stroke="#58be48" stroke-width="4.2"/><line x1="1189.2" y1="284.8" x2="1183.6" y2="294.7" stroke="#a39c2c" stroke-width="4.2"/><line x1="1183.6" y1="294.7" x2="1178.0" y2="304.6" stroke="#3a963a" stroke-width="4.2"/><line x1="1211.8" y1="284.8" x2="1218.3" y2="294.7" stroke="#58be48" stroke-width="4.2"/><line x1="1218.3" y1="294.7" x2="1224.8" y2="304.6" stroke="#e6e03c" stroke-width="4.2"/><line x1="1258.6" y1="284.8" x2="1269.9" y2="284.8" stroke="#e6e03c" stroke-width="4.2"/><line x1="1269.9" y1="284.8" x2="1281.2" y2="284.8" stroke="#58be48" stroke-width="4.2"/><line x1="1258.6" y1="284.8" x2="1253.0" y2="294.7" stroke="#a39c2c" stroke-width="4.2"/><line x1="1253.0" y1="294.7" x2="1247.4" y2="304.6" stroke="#3a963a" stroke-width="4.2"/><line x1="1281.2" y1="284.8" x2="1287.7" y2="294.7" stroke="#58be48" stroke-width="4.2"/><line x1="1287.7" y1="294.7" x2="1294.2" y2="304.6" stroke="#e6e03c" stroke-width="4.2"/><line x1="1016.6" y1="304.6" x2="1027.9" y2="304.6" stroke="#e6e03c" stroke-width="4.2"/><line x1="1027.9" y1="304.6" x2="1039.2" y2="304.6" stroke="#58be48" stroke-width="4.2"/><line x1="1016.6" y1="304.6" x2="1010.1" y2="314.5" stroke="#a39c2c" stroke-width="4.2"/><line x1="1010.1" y1="314.5" x2="1003.6" y2="324.4" stroke="#3a963a" stroke-width="4.2"/><line x1="1039.2" y1="304.6" x2="1044.8" y2="314.5" stroke="#58be48" stroke-width="4.2"/><line x1="1044.8" y1="314.5" x2="1050.4" y2="324.4" stroke="#e6e03c" stroke-width="4.2"/><line x1="1086.0" y1="304.6" x2="1097.3" y2="304.6" stroke="#e6e03c" stroke-width="4.2"/><line x1="1097.3" y1="304.6" x2="1108.6" y2="304.6" stroke="#58be48" stroke-width="4.2"/><line x1="1086.0" y1="304.6" x2="1079.5" y2="314.5" stroke="#a39c2c" stroke-width="4.2"/><line x1="1079.5" y1="314.5" x2="1073.0" y2="324.4" stroke="#3a963a" stroke-width="4.2"/><line x1="1108.6" y1="304.6" x2="1114.2" y2="314.5" stroke="#58be48" stroke-width="4.2"/><line x1="1114.2" y1="314.5" x2="1119.8" y2="324.4" stroke="#e6e03c" stroke-width="4.2"/><line x1="1155.4" y1="304.6" x2="1166.7" y2="304.6" stroke="#e6e03c" stroke-width="4.2"/><line x1="1166.7" y1="304.6" x2="1178.0" y2="304.6" stroke="#58be48" stroke-width="4.2"/><line x1="1155.4" y1="304.6" x2="1148.9" y2="314.5" stroke="#a39c2c" stroke-width="4.2"/><line x1="1148.9" y1="314.5" x2="1142.4" y2="324.4" stroke="#a39c2c" stroke-width="4.2"/><line x1="1178.0" y1="304.6" x2="1183.6" y2="314.5" stroke="#58be48" stroke-width="4.2"/><line x1="1183.6" y1="314.5" x2="1189.2" y2="324.4" stroke="#e6e03c" stroke-width="4.2"/><line x1="1224.8" y1="304.6" x2="1236.1" y2="304.6" stroke="#e6e03c" stroke-width="4.2"/><line x1="1236.1" y1="304.6" x2="1247.4" y2="304.6" stroke="#58be48" stroke-width="4.2"/><line x1="1224.8" y1="304.6" x2="1218.3" y2="314.5" stroke="#a39c2c" stroke-width="4.2"/><line x1="1218.3" y1="314.5" x2="1211.8" y2="324.4" stroke="#3a963a" stroke-width="4.2"/><line x1="1247.4" y1="304.6" x2="1253.0" y2="314.5" stroke="#58be48" stroke-width="4.2"/><line x1="1253.0" y1="314.5" x2="1258.6" y2="324.4" stroke="#e6e03c" stroke-width="4.2"/><line x1="1294.2" y1="304.6" x2="1305.5" y2="304.6" stroke="#e6e03c" stroke-width="4.2"/><line x1="1305.5" y1="304.6" x2="1316.8" y2="304.6" stroke="#58be48" stroke-width="4.2"/><line x1="1294.2" y1="304.6" x2="1287.7" y2="314.5" stroke="#a39c2c" stroke-width="4.2"/><line x1="1287.7" y1="314.5" x2="1281.2" y2="324.4" stroke="#3a963a" stroke-width="4.2"/><line x1="981.0" y1="324.4" x2="992.3" y2="324.4" stroke="#e6e03c" stroke-width="4.2"/><line x1="992.3" y1="324.4" x2="1003.6" y2="324.4" stroke="#58be48" stroke-width="4.2"/><line x1="1003.6" y1="324.4" x2="1010.1" y2="334.3" stroke="#58be48" stroke-width="4.2"/><line x1="1010.1" y1="334.3" x2="1016.6" y2="344.2" stroke="#e6e03c" stroke-width="4.2"/><line x1="1050.4" y1="324.4" x2="1061.7" y2="324.4" stroke="#e6e03c" stroke-width="4.2"/><line x1="1061.7" y1="324.4" x2="1073.0" y2="324.4" stroke="#58be48" stroke-width="4.2"/><line x1="1050.4" y1="324.4" x2="1044.8" y2="334.3" stroke="#a39c2c" stroke-width="4.2"/><line x1="1044.8" y1="334.3" x2="1039.2" y2="344.2" stroke="#3a963a" stroke-width="4.2"/><line x1="1073.0" y1="324.4" x2="1079.5" y2="334.3" stroke="#58be48" stroke-width="4.2"/><line x1="1079.5" y1="334.3" x2="1086.0" y2="344.2" stroke="#e6e03c" stroke-width="4.2"/><line x1="1119.8" y1="324.4" x2="1131.1" y2="324.4" stroke="#e6e03c" stroke-width="4.2"/><line x1="1131.1" y1="324.4" x2="1142.4" y2="324.4" stroke="#e6e03c" stroke-width="4.2"/><line x1="1119.8" y1="324.4" x2="1114.2" y2="334.3" stroke="#a39c2c" stroke-width="4.2"/><line x1="1114.2" y1="334.3" x2="1108.6" y2="344.2" stroke="#3a963a" stroke-width="4.2"/><line x1="1142.4" y1="324.4" x2="1148.9" y2="334.3" stroke="#e6e03c" stroke-width="4.2"/><line x1="1148.9" y1="334.3" x2="1155.4" y2="344.2" stroke="#e6e03c" stroke-width="4.2"/><line x1="1189.2" y1="324.4" x2="1200.5" y2="324.4" stroke="#e6e03c" stroke-width="4.2"/><line x1="1200.5" y1="324.4" x2="1211.8" y2="324.4" stroke="#58be48" stroke-width="4.2"/><line x1="1189.2" y1="324.4" x2="1183.6" y2="334.3" stroke="#a39c2c" stroke-width="4.2"/><line x1="1183.6" y1="334.3" x2="1178.0" y2="344.2" stroke="#3a963a" stroke-width="4.2"/><line x1="1211.8" y1="324.4" x2="1218.3" y2="334.3" stroke="#58be48" stroke-width="4.2"/><line x1="1218.3" y1="334.3" x2="1224.8" y2="344.2" stroke="#e6e03c" stroke-width="4.2"/><line x1="1258.6" y1="324.4" x2="1269.9" y2="324.4" stroke="#e6e03c" stroke-width="4.2"/><line x1="1269.9" y1="324.4" x2="1281.2" y2="324.4" stroke="#58be48" stroke-width="4.2"/><line x1="1258.6" y1="324.4" x2="1253.0" y2="334.3" stroke="#a39c2c" stroke-width="4.2"/><line x1="1253.0" y1="334.3" x2="1247.4" y2="344.2" stroke="#3a963a" stroke-width="4.2"/><line x1="1281.2" y1="324.4" x2="1287.7" y2="334.3" stroke="#58be48" stroke-width="4.2"/><line x1="1287.7" y1="334.3" x2="1294.2" y2="344.2" stroke="#e6e03c" stroke-width="4.2"/><line x1="1016.6" y1="344.2" x2="1027.9" y2="344.2" stroke="#e6e03c" stroke-width="4.2"/><line x1="1027.9" y1="344.2" x2="1039.2" y2="344.2" stroke="#58be48" stroke-width="4.2"/><line x1="1016.6" y1="344.2" x2="1010.1" y2="354.1" stroke="#a39c2c" stroke-width="4.2"/><line x1="1010.1" y1="354.1" x2="1003.6" y2="364.0" stroke="#3a963a" stroke-width="4.2"/><line x1="1039.2" y1="344.2" x2="1044.8" y2="354.1" stroke="#58be48" stroke-width="4.2"/><line x1="1044.8" y1="354.1" x2="1050.4" y2="364.0" stroke="#e6e03c" stroke-width="4.2"/><line x1="1086.0" y1="344.2" x2="1097.3" y2="344.2" stroke="#e6e03c" stroke-width="4.2"/><line x1="1097.3" y1="344.2" x2="1108.6" y2="344.2" stroke="#58be48" stroke-width="4.2"/><line x1="1086.0" y1="344.2" x2="1079.5" y2="354.1" stroke="#a39c2c" stroke-width="4.2"/><line x1="1079.5" y1="354.1" x2="1073.0" y2="364.0" stroke="#3a963a" stroke-width="4.2"/><line x1="1108.6" y1="344.2" x2="1114.2" y2="354.1" stroke="#58be48" stroke-width="4.2"/><line x1="1114.2" y1="354.1" x2="1119.8" y2="364.0" stroke="#e6e03c" stroke-width="4.2"/><line x1="1155.4" y1="344.2" x2="1166.7" y2="344.2" stroke="#e6e03c" stroke-width="4.2"/><line x1="1166.7" y1="344.2" x2="1178.0" y2="344.2" stroke="#58be48" stroke-width="4.2"/><line x1="1155.4" y1="344.2" x2="1148.9" y2="354.1" stroke="#a39c2c" stroke-width="4.2"/><line x1="1148.9" y1="354.1" x2="1142.4" y2="364.0" stroke="#3a963a" stroke-width="4.2"/><line x1="1178.0" y1="344.2" x2="1183.6" y2="354.1" stroke="#58be48" stroke-width="4.2"/><line x1="1183.6" y1="354.1" x2="1189.2" y2="364.0" stroke="#e6e03c" stroke-width="4.2"/><line x1="1224.8" y1="344.2" x2="1236.1" y2="344.2" stroke="#e6e03c" stroke-width="4.2"/><line x1="1236.1" y1="344.2" x2="1247.4" y2="344.2" stroke="#58be48" stroke-width="4.2"/><line x1="1224.8" y1="344.2" x2="1218.3" y2="354.1" stroke="#a39c2c" stroke-width="4.2"/><line x1="1218.3" y1="354.1" x2="1211.8" y2="364.0" stroke="#3a963a" stroke-width="4.2"/><line x1="1247.4" y1="344.2" x2="1253.0" y2="354.1" stroke="#58be48" stroke-width="4.2"/><line x1="1253.0" y1="354.1" x2="1258.6" y2="364.0" stroke="#e6e03c" stroke-width="4.2"/><line x1="1294.2" y1="344.2" x2="1305.5" y2="344.2" stroke="#e6e03c" stroke-width="4.2"/><line x1="1305.5" y1="344.2" x2="1316.8" y2="344.2" stroke="#58be48" stroke-width="4.2"/><line x1="1294.2" y1="344.2" x2="1287.7" y2="354.1" stroke="#a39c2c" stroke-width="4.2"/><line x1="1287.7" y1="354.1" x2="1281.2" y2="364.0" stroke="#3a963a" stroke-width="4.2"/><line x1="981.0" y1="364.0" x2="992.3" y2="364.0" stroke="#e6e03c" stroke-width="4.2"/><line x1="992.3" y1="364.0" x2="1003.6" y2="364.0" stroke="#58be48" stroke-width="4.2"/><line x1="1003.6" y1="364.0" x2="1010.1" y2="373.9" stroke="#58be48" stroke-width="4.2"/><line x1="1010.1" y1="373.9" x2="1016.6" y2="383.8" stroke="#e6e03c" stroke-width="4.2"/><line x1="1050.4" y1="364.0" x2="1061.7" y2="364.0" stroke="#e6e03c" stroke-width="4.2"/><line x1="1061.7" y1="364.0" x2="1073.0" y2="364.0" stroke="#58be48" stroke-width="4.2"/><line x1="1050.4" y1="364.0" x2="1044.8" y2="373.9" stroke="#a39c2c" stroke-width="4.2"/><line x1="1044.8" y1="373.9" x2="1039.2" y2="383.8" stroke="#3a963a" stroke-width="4.2"/><line x1="1073.0" y1="364.0" x2="1079.5" y2="373.9" stroke="#58be48" stroke-width="4.2"/><line x1="1079.5" y1="373.9" x2="1086.0" y2="383.8" stroke="#e6e03c" stroke-width="4.2"/><line x1="1119.8" y1="364.0" x2="1131.1" y2="364.0" stroke="#e6e03c" stroke-width="4.2"/><line x1="1131.1" y1="364.0" x2="1142.4" y2="364.0" stroke="#58be48" stroke-width="4.2"/><line x1="1119.8" y1="364.0" x2="1114.2" y2="373.9" stroke="#a39c2c" stroke-width="4.2"/><line x1="1114.2" y1="373.9" x2="1108.6" y2="383.8" stroke="#3a963a" stroke-width="4.2"/><line x1="1142.4" y1="364.0" x2="1148.9" y2="373.9" stroke="#58be48" stroke-width="4.2"/><line x1="1148.9" y1="373.9" x2="1155.4" y2="383.8" stroke="#e6e03c" stroke-width="4.2"/><line x1="1189.2" y1="364.0" x2="1200.5" y2="364.0" stroke="#e6e03c" stroke-width="4.2"/><line x1="1200.5" y1="364.0" x2="1211.8" y2="364.0" stroke="#58be48" stroke-width="4.2"/><line x1="1189.2" y1="364.0" x2="1183.6" y2="373.9" stroke="#a39c2c" stroke-width="4.2"/><line x1="1183.6" y1="373.9" x2="1178.0" y2="383.8" stroke="#3a963a" stroke-width="4.2"/><line x1="1211.8" y1="364.0" x2="1218.3" y2="373.9" stroke="#58be48" stroke-width="4.2"/><line x1="1218.3" y1="373.9" x2="1224.8" y2="383.8" stroke="#e6e03c" stroke-width="4.2"/><line x1="1258.6" y1="364.0" x2="1269.9" y2="364.0" stroke="#e6e03c" stroke-width="4.2"/><line x1="1269.9" y1="364.0" x2="1281.2" y2="364.0" stroke="#58be48" stroke-width="4.2"/><line x1="1258.6" y1="364.0" x2="1253.0" y2="373.9" stroke="#a39c2c" stroke-width="4.2"/><line x1="1253.0" y1="373.9" x2="1247.4" y2="383.8" stroke="#3a963a" stroke-width="4.2"/><line x1="1281.2" y1="364.0" x2="1287.7" y2="373.9" stroke="#58be48" stroke-width="4.2"/><line x1="1287.7" y1="373.9" x2="1294.2" y2="383.8" stroke="#e6e03c" stroke-width="4.2"/><line x1="1016.6" y1="383.8" x2="1027.9" y2="383.8" stroke="#e6e03c" stroke-width="4.2"/><line x1="1027.9" y1="383.8" x2="1039.2" y2="383.8" stroke="#58be48" stroke-width="4.2"/><line x1="1016.6" y1="383.8" x2="1010.1" y2="393.7" stroke="#a39c2c" stroke-width="4.2"/><line x1="1010.1" y1="393.7" x2="1003.6" y2="403.6" stroke="#3a963a" stroke-width="4.2"/><line x1="1039.2" y1="383.8" x2="1044.8" y2="393.7" stroke="#58be48" stroke-width="4.2"/><line x1="1044.8" y1="393.7" x2="1050.4" y2="403.6" stroke="#e6e03c" stroke-width="4.2"/><line x1="1086.0" y1="383.8" x2="1097.3" y2="383.8" stroke="#e6e03c" stroke-width="4.2"/><line x1="1097.3" y1="383.8" x2="1108.6" y2="383.8" stroke="#58be48" stroke-width="4.2"/><line x1="1086.0" y1="383.8" x2="1079.5" y2="393.7" stroke="#a39c2c" stroke-width="4.2"/><line x1="1079.5" y1="393.7" x2="1073.0" y2="403.6" stroke="#3a963a" stroke-width="4.2"/><line x1="1108.6" y1="383.8" x2="1114.2" y2="393.7" stroke="#58be48" stroke-width="4.2"/><line x1="1114.2" y1="393.7" x2="1119.8" y2="403.6" stroke="#e6e03c" stroke-width="4.2"/><line x1="1155.4" y1="383.8" x2="1166.7" y2="383.8" stroke="#e6e03c" stroke-width="4.2"/><line x1="1166.7" y1="383.8" x2="1178.0" y2="383.8" stroke="#58be48" stroke-width="4.2"/><line x1="1155.4" y1="383.8" x2="1148.9" y2="393.7" stroke="#a39c2c" stroke-width="4.2"/><line x1="1148.9" y1="393.7" x2="1142.4" y2="403.6" stroke="#3a963a" stroke-width="4.2"/><line x1="1178.0" y1="383.8" x2="1183.6" y2="393.7" stroke="#58be48" stroke-width="4.2"/><line x1="1183.6" y1="393.7" x2="1189.2" y2="403.6" stroke="#e6e03c" stroke-width="4.2"/><line x1="1224.8" y1="383.8" x2="1236.1" y2="383.8" stroke="#e6e03c" stroke-width="4.2"/><line x1="1236.1" y1="383.8" x2="1247.4" y2="383.8" stroke="#58be48" stroke-width="4.2"/><line x1="1224.8" y1="383.8" x2="1218.3" y2="393.7" stroke="#a39c2c" stroke-width="4.2"/><line x1="1218.3" y1="393.7" x2="1211.8" y2="403.6" stroke="#3a963a" stroke-width="4.2"/><line x1="1247.4" y1="383.8" x2="1253.0" y2="393.7" stroke="#58be48" stroke-width="4.2"/><line x1="1253.0" y1="393.7" x2="1258.6" y2="403.6" stroke="#e6e03c" stroke-width="4.2"/><line x1="1294.2" y1="383.8" x2="1305.5" y2="383.8" stroke="#e6e03c" stroke-width="4.2"/><line x1="1305.5" y1="383.8" x2="1316.8" y2="383.8" stroke="#58be48" stroke-width="4.2"/><line x1="1294.2" y1="383.8" x2="1287.7" y2="393.7" stroke="#a39c2c" stroke-width="4.2"/><line x1="1287.7" y1="393.7" x2="1281.2" y2="403.6" stroke="#3a963a" stroke-width="4.2"/><line x1="981.0" y1="403.6" x2="992.3" y2="403.6" stroke="#e6e03c" stroke-width="4.2"/><line x1="992.3" y1="403.6" x2="1003.6" y2="403.6" stroke="#58be48" stroke-width="4.2"/><line x1="1050.4" y1="403.6" x2="1061.7" y2="403.6" stroke="#e6e03c" stroke-width="4.2"/><line x1="1061.7" y1="403.6" x2="1073.0" y2="403.6" stroke="#58be48" stroke-width="4.2"/><line x1="1119.8" y1="403.6" x2="1131.1" y2="403.6" stroke="#e6e03c" stroke-width="4.2"/><line x1="1131.1" y1="403.6" x2="1142.4" y2="403.6" stroke="#58be48" stroke-width="4.2"/><line x1="1189.2" y1="403.6" x2="1200.5" y2="403.6" stroke="#e6e03c" stroke-width="4.2"/><line x1="1200.5" y1="403.6" x2="1211.8" y2="403.6" stroke="#58be48" stroke-width="4.2"/><line x1="1258.6" y1="403.6" x2="1269.9" y2="403.6" stroke="#e6e03c" stroke-width="4.2"/><line x1="1269.9" y1="403.6" x2="1281.2" y2="403.6" stroke="#58be48" stroke-width="4.2"/><circle cx="981.0" cy="245.2" r="6.2" fill="url(#gS)"/><circle cx="1003.6" cy="245.2" r="6.4" fill="url(#gM2)"/><circle cx="1050.4" cy="245.2" r="6.2" fill="url(#gS)"/><circle cx="1073.0" cy="245.2" r="6.4" fill="url(#gM2)"/><circle cx="1119.8" cy="245.2" r="6.2" fill="url(#gS)"/><circle cx="1142.4" cy="245.2" r="6.4" fill="url(#gM2)"/><circle cx="1189.2" cy="245.2" r="6.2" fill="url(#gS)"/><circle cx="1211.8" cy="245.2" r="6.4" fill="url(#gM2)"/><circle cx="1258.6" cy="245.2" r="6.2" fill="url(#gS)"/><circle cx="1281.2" cy="245.2" r="6.4" fill="url(#gM2)"/><circle cx="1016.6" cy="265.0" r="6.2" fill="url(#gS)"/><circle cx="1039.2" cy="265.0" r="6.4" fill="url(#gM2)"/><circle cx="1086.0" cy="265.0" r="6.2" fill="url(#gS)"/><circle cx="1108.6" cy="265.0" r="6.4" fill="url(#gM2)"/><circle cx="1155.4" cy="265.0" r="6.2" fill="url(#gS)"/><circle cx="1178.0" cy="265.0" r="6.4" fill="url(#gM2)"/><circle cx="1224.8" cy="265.0" r="6.2" fill="url(#gS)"/><circle cx="1247.4" cy="265.0" r="6.4" fill="url(#gM2)"/><circle cx="1294.2" cy="265.0" r="6.2" fill="url(#gS)"/><circle cx="1316.8" cy="265.0" r="6.4" fill="url(#gM2)"/><circle cx="981.0" cy="284.8" r="6.2" fill="url(#gS)"/><circle cx="1003.6" cy="284.8" r="6.4" fill="url(#gM2)"/><circle cx="1050.4" cy="284.8" r="6.2" fill="url(#gS)"/><circle cx="1073.0" cy="284.8" r="6.4" fill="url(#gM2)"/><circle cx="1119.8" cy="284.8" r="6.2" fill="url(#gS)"/><circle cx="1142.4" cy="284.8" r="6.4" fill="url(#gM2)"/><circle cx="1189.2" cy="284.8" r="6.2" fill="url(#gS)"/><circle cx="1211.8" cy="284.8" r="6.4" fill="url(#gM2)"/><circle cx="1258.6" cy="284.8" r="6.2" fill="url(#gS)"/><circle cx="1281.2" cy="284.8" r="6.4" fill="url(#gM2)"/><circle cx="1016.6" cy="304.6" r="6.2" fill="url(#gS)"/><circle cx="1039.2" cy="304.6" r="6.4" fill="url(#gM2)"/><circle cx="1086.0" cy="304.6" r="6.2" fill="url(#gS)"/><circle cx="1108.6" cy="304.6" r="6.4" fill="url(#gM2)"/><circle cx="1155.4" cy="304.6" r="6.2" fill="url(#gS)"/><circle cx="1178.0" cy="304.6" r="6.4" fill="url(#gM2)"/><circle cx="1224.8" cy="304.6" r="6.2" fill="url(#gS)"/><circle cx="1247.4" cy="304.6" r="6.4" fill="url(#gM2)"/><circle cx="1294.2" cy="304.6" r="6.2" fill="url(#gS)"/><circle cx="1316.8" cy="304.6" r="6.4" fill="url(#gM2)"/><circle cx="981.0" cy="324.4" r="6.2" fill="url(#gS)"/><circle cx="1003.6" cy="324.4" r="6.4" fill="url(#gM2)"/><circle cx="1050.4" cy="324.4" r="6.2" fill="url(#gS)"/><circle cx="1073.0" cy="324.4" r="6.4" fill="url(#gM2)"/><circle cx="1119.8" cy="324.4" r="6.2" fill="url(#gS)"/><circle cx="1142.4" cy="324.4" r="6.2" fill="url(#gS)"/><circle cx="1189.2" cy="324.4" r="6.2" fill="url(#gS)"/><circle cx="1211.8" cy="324.4" r="6.4" fill="url(#gM2)"/><circle cx="1258.6" cy="324.4" r="6.2" fill="url(#gS)"/><circle cx="1281.2" cy="324.4" r="6.4" fill="url(#gM2)"/><circle cx="1016.6" cy="344.2" r="6.2" fill="url(#gS)"/><circle cx="1039.2" cy="344.2" r="6.4" fill="url(#gM2)"/><circle cx="1086.0" cy="344.2" r="6.2" fill="url(#gS)"/><circle cx="1108.6" cy="344.2" r="6.4" fill="url(#gM2)"/><circle cx="1155.4" cy="344.2" r="6.2" fill="url(#gS)"/><circle cx="1178.0" cy="344.2" r="6.4" fill="url(#gM2)"/><circle cx="1224.8" cy="344.2" r="6.2" fill="url(#gS)"/><circle cx="1247.4" cy="344.2" r="6.4" fill="url(#gM2)"/><circle cx="1294.2" cy="344.2" r="6.2" fill="url(#gS)"/><circle cx="1316.8" cy="344.2" r="6.4" fill="url(#gM2)"/><circle cx="981.0" cy="364.0" r="6.2" fill="url(#gS)"/><circle cx="1003.6" cy="364.0" r="6.4" fill="url(#gM2)"/><circle cx="1050.4" cy="364.0" r="6.2" fill="url(#gS)"/><circle cx="1073.0" cy="364.0" r="6.4" fill="url(#gM2)"/><circle cx="1119.8" cy="364.0" r="6.2" fill="url(#gS)"/><circle cx="1142.4" cy="364.0" r="6.4" fill="url(#gM2)"/><circle cx="1189.2" cy="364.0" r="6.2" fill="url(#gS)"/><circle cx="1211.8" cy="364.0" r="6.4" fill="url(#gM2)"/><circle cx="1258.6" cy="364.0" r="6.2" fill="url(#gS)"/><circle cx="1281.2" cy="364.0" r="6.4" fill="url(#gM2)"/><circle cx="1016.6" cy="383.8" r="6.2" fill="url(#gS)"/><circle cx="1039.2" cy="383.8" r="6.4" fill="url(#gM2)"/><circle cx="1086.0" cy="383.8" r="6.2" fill="url(#gS)"/><circle cx="1108.6" cy="383.8" r="6.4" fill="url(#gM2)"/><circle cx="1155.4" cy="383.8" r="6.2" fill="url(#gS)"/><circle cx="1178.0" cy="383.8" r="6.4" fill="url(#gM2)"/><circle cx="1224.8" cy="383.8" r="6.2" fill="url(#gS)"/><circle cx="1247.4" cy="383.8" r="6.4" fill="url(#gM2)"/><circle cx="1294.2" cy="383.8" r="6.2" fill="url(#gS)"/><circle cx="1316.8" cy="383.8" r="6.4" fill="url(#gM2)"/><circle cx="981.0" cy="403.6" r="6.2" fill="url(#gS)"/><circle cx="1003.6" cy="403.6" r="6.4" fill="url(#gM2)"/><circle cx="1050.4" cy="403.6" r="6.2" fill="url(#gS)"/><circle cx="1073.0" cy="403.6" r="6.4" fill="url(#gM2)"/><circle cx="1119.8" cy="403.6" r="6.2" fill="url(#gS)"/><circle cx="1142.4" cy="403.6" r="6.4" fill="url(#gM2)"/><circle cx="1189.2" cy="403.6" r="6.2" fill="url(#gS)"/><circle cx="1211.8" cy="403.6" r="6.4" fill="url(#gM2)"/><circle cx="1258.6" cy="403.6" r="6.2" fill="url(#gS)"/><circle cx="1281.2" cy="403.6" r="6.4" fill="url(#gM2)"/></g><circle cx="1144.0" cy="325.2" r="10.0" fill="none" stroke="#000" stroke-width="2.3" stroke-dasharray="3.6 2.4"/>
<g font-family="'DejaVu Sans', 'Liberation Sans', sans-serif" fill="#000"><text x="1244.8" y="401.0" font-size="30.2" letter-spacing="2.5">Mo</text><text x="1289.9" y="407.0" font-size="23.5" letter-spacing="0.5">Split</text></g>
<clipPath id="c15"><rect x="1228.6" y="418.0" width="134.4" height="55.0"/></clipPath>
<g clip-path="url(#c15)"><line x1="1230.6" y1="445.1" x2="1218.3" y2="435.2" stroke="#58be48" stroke-width="3.8"/><line x1="1218.3" y1="435.2" x2="1206.0" y2="425.3" stroke="#e6e03c" stroke-width="3.8"/><line x1="1230.6" y1="445.1" x2="1218.3" y2="455.1" stroke="#58be48" stroke-width="3.8"/><line x1="1218.3" y1="455.1" x2="1206.0" y2="465.0" stroke="#e6e03c" stroke-width="3.8"/><line x1="1230.6" y1="445.1" x2="1234.5" y2="435.2" stroke="#58be48" stroke-width="3.8"/><line x1="1234.5" y1="435.2" x2="1238.5" y2="425.3" stroke="#e6e03c" stroke-width="3.8"/><line x1="1230.6" y1="445.1" x2="1234.5" y2="455.1" stroke="#58be48" stroke-width="3.8"/><line x1="1234.5" y1="455.1" x2="1238.5" y2="465.0" stroke="#e6e03c" stroke-width="3.8"/><line x1="1261.0" y1="445.1" x2="1249.8" y2="435.2" stroke="#58be48" stroke-width="3.8"/><line x1="1249.8" y1="435.2" x2="1238.5" y2="425.3" stroke="#e6e03c" stroke-width="3.8"/><line x1="1261.0" y1="445.1" x2="1249.8" y2="455.1" stroke="#58be48" stroke-width="3.8"/><line x1="1249.8" y1="455.1" x2="1238.5" y2="465.0" stroke="#e6e03c" stroke-width="3.8"/><line x1="1261.0" y1="445.1" x2="1265.0" y2="433.9" stroke="#58be48" stroke-width="3.8"/><line x1="1265.0" y1="433.9" x2="1269.0" y2="422.6" stroke="#e6e03c" stroke-width="3.8"/><line x1="1261.0" y1="445.1" x2="1265.0" y2="455.1" stroke="#58be48" stroke-width="3.8"/><line x1="1265.0" y1="455.1" x2="1269.0" y2="465.0" stroke="#e6e03c" stroke-width="3.8"/><line x1="1329.9" y1="445.1" x2="1319.3" y2="433.9" stroke="#58be48" stroke-width="3.8"/><line x1="1319.3" y1="433.9" x2="1308.7" y2="422.6" stroke="#e6e03c" stroke-width="3.8"/><line x1="1329.9" y1="445.1" x2="1319.3" y2="455.1" stroke="#58be48" stroke-width="3.8"/><line x1="1319.3" y1="455.1" x2="1308.7" y2="465.0" stroke="#e6e03c" stroke-width="3.8"/><line x1="1329.9" y1="445.1" x2="1335.6" y2="435.2" stroke="#58be48" stroke-width="3.8"/><line x1="1335.6" y1="435.2" x2="1341.2" y2="425.3" stroke="#e6e03c" stroke-width="3.8"/><line x1="1329.9" y1="445.1" x2="1335.6" y2="455.1" stroke="#58be48" stroke-width="3.8"/><line x1="1335.6" y1="455.1" x2="1341.2" y2="465.0" stroke="#e6e03c" stroke-width="3.8"/><line x1="1362.5" y1="445.1" x2="1351.8" y2="435.2" stroke="#58be48" stroke-width="3.8"/><line x1="1351.8" y1="435.2" x2="1341.2" y2="425.3" stroke="#e6e03c" stroke-width="3.8"/><line x1="1362.5" y1="445.1" x2="1351.8" y2="455.1" stroke="#58be48" stroke-width="3.8"/><line x1="1351.8" y1="455.1" x2="1341.2" y2="465.0" stroke="#e6e03c" stroke-width="3.8"/><line x1="1362.5" y1="445.1" x2="1368.2" y2="435.2" stroke="#58be48" stroke-width="3.8"/><line x1="1368.2" y1="435.2" x2="1374.0" y2="425.3" stroke="#e6e03c" stroke-width="3.8"/><line x1="1362.5" y1="445.1" x2="1368.2" y2="455.1" stroke="#58be48" stroke-width="3.8"/><line x1="1368.2" y1="455.1" x2="1374.0" y2="465.0" stroke="#e6e03c" stroke-width="3.8"/><line x1="1295.5" y1="431.9" x2="1295.5" y2="445.1" stroke="#58be48" stroke-width="3.8"/><line x1="1295.5" y1="445.1" x2="1295.5" y2="458.4" stroke="#58be48" stroke-width="3.8"/><line x1="1295.5" y1="431.9" x2="1282.2" y2="427.2" stroke="#58be48" stroke-width="3.8"/><line x1="1282.2" y1="427.2" x2="1269.0" y2="422.6" stroke="#e6e03c" stroke-width="3.8"/><line x1="1295.5" y1="431.9" x2="1302.1" y2="427.2" stroke="#58be48" stroke-width="3.8"/><line x1="1302.1" y1="427.2" x2="1308.7" y2="422.6" stroke="#e6e03c" stroke-width="3.8"/><line x1="1295.5" y1="458.4" x2="1282.2" y2="461.7" stroke="#58be48" stroke-width="3.8"/><line x1="1282.2" y1="461.7" x2="1269.0" y2="465.0" stroke="#e6e03c" stroke-width="3.8"/><line x1="1295.5" y1="458.4" x2="1302.1" y2="461.7" stroke="#58be48" stroke-width="3.8"/><line x1="1302.1" y1="461.7" x2="1308.7" y2="465.0" stroke="#e6e03c" stroke-width="3.8"/><circle cx="1206.0" cy="425.3" r="6.2" fill="url(#gS)"/><circle cx="1206.0" cy="465.0" r="6.2" fill="url(#gS)"/><circle cx="1238.5" cy="425.3" r="6.2" fill="url(#gS)"/><circle cx="1238.5" cy="465.0" r="6.2" fill="url(#gS)"/><circle cx="1269.0" cy="422.6" r="6.2" fill="url(#gS)"/><circle cx="1269.0" cy="465.0" r="6.2" fill="url(#gS)"/><circle cx="1308.7" cy="422.6" r="6.2" fill="url(#gS)"/><circle cx="1308.7" cy="465.0" r="6.2" fill="url(#gS)"/><circle cx="1341.2" cy="425.3" r="6.2" fill="url(#gS)"/><circle cx="1341.2" cy="465.0" r="6.2" fill="url(#gS)"/><circle cx="1230.6" cy="445.1" r="6.8" fill="url(#gM)"/><circle cx="1261.0" cy="445.1" r="6.8" fill="url(#gM)"/><circle cx="1329.9" cy="445.1" r="6.8" fill="url(#gM)"/><circle cx="1362.5" cy="445.1" r="6.8" fill="url(#gM)"/><circle cx="1295.5" cy="431.9" r="6.8" fill="url(#gM)"/><circle cx="1295.5" cy="458.4" r="6.8" fill="url(#gM)"/><circle cx="1374.0" cy="425.3" r="6.2" fill="url(#gS)"/><circle cx="1374.0" cy="465.0" r="6.2" fill="url(#gS)"/></g>
<clipPath id="c16"><rect x="1228.0" y="486.8" width="135.5" height="117.1"/></clipPath>
<g clip-path="url(#c16)"><line x1="1134.4" y1="466.0" x2="1145.4" y2="466.0" stroke="#e6e03c" stroke-width="4.2"/><line x1="1145.4" y1="466.0" x2="1156.3" y2="466.0" stroke="#58be48" stroke-width="4.2"/><line x1="1156.3" y1="466.0" x2="1163.0" y2="475.9" stroke="#58be48" stroke-width="4.2"/><line x1="1163.0" y1="475.9" x2="1169.6" y2="485.7" stroke="#e6e03c" stroke-width="4.2"/><line x1="1203.8" y1="466.0" x2="1214.8" y2="466.0" stroke="#e6e03c" stroke-width="4.2"/><line x1="1214.8" y1="466.0" x2="1225.7" y2="466.0" stroke="#58be48" stroke-width="4.2"/><line x1="1203.8" y1="466.0" x2="1197.7" y2="475.9" stroke="#a39c2c" stroke-width="4.2"/><line x1="1197.7" y1="475.9" x2="1191.5" y2="485.7" stroke="#3a963a" stroke-width="4.2"/><line x1="1225.7" y1="466.0" x2="1232.3" y2="475.9" stroke="#58be48" stroke-width="4.2"/><line x1="1232.3" y1="475.9" x2="1239.0" y2="485.7" stroke="#e6e03c" stroke-width="4.2"/><line x1="1273.2" y1="466.0" x2="1284.2" y2="466.0" stroke="#e6e03c" stroke-width="4.2"/><line x1="1284.2" y1="466.0" x2="1295.1" y2="466.0" stroke="#58be48" stroke-width="4.2"/><line x1="1273.2" y1="466.0" x2="1267.1" y2="475.9" stroke="#a39c2c" stroke-width="4.2"/><line x1="1267.1" y1="475.9" x2="1260.9" y2="485.7" stroke="#3a963a" stroke-width="4.2"/><line x1="1295.1" y1="466.0" x2="1301.8" y2="475.9" stroke="#58be48" stroke-width="4.2"/><line x1="1301.8" y1="475.9" x2="1308.4" y2="485.7" stroke="#e6e03c" stroke-width="4.2"/><line x1="1342.6" y1="466.0" x2="1353.6" y2="466.0" stroke="#e6e03c" stroke-width="4.2"/><line x1="1353.6" y1="466.0" x2="1364.5" y2="466.0" stroke="#58be48" stroke-width="4.2"/><line x1="1342.6" y1="466.0" x2="1336.5" y2="475.9" stroke="#a39c2c" stroke-width="4.2"/><line x1="1336.5" y1="475.9" x2="1330.3" y2="485.7" stroke="#3a963a" stroke-width="4.2"/><line x1="1364.5" y1="466.0" x2="1371.2" y2="475.9" stroke="#58be48" stroke-width="4.2"/><line x1="1371.2" y1="475.9" x2="1377.8" y2="485.7" stroke="#e6e03c" stroke-width="4.2"/><line x1="1412.0" y1="466.0" x2="1423.0" y2="466.0" stroke="#e6e03c" stroke-width="4.2"/><line x1="1423.0" y1="466.0" x2="1433.9" y2="466.0" stroke="#58be48" stroke-width="4.2"/><line x1="1412.0" y1="466.0" x2="1405.9" y2="475.9" stroke="#a39c2c" stroke-width="4.2"/><line x1="1405.9" y1="475.9" x2="1399.7" y2="485.7" stroke="#3a963a" stroke-width="4.2"/><line x1="1433.9" y1="466.0" x2="1440.6" y2="475.9" stroke="#58be48" stroke-width="4.2"/><line x1="1440.6" y1="475.9" x2="1447.2" y2="485.7" stroke="#e6e03c" stroke-width="4.2"/><line x1="1169.6" y1="485.7" x2="1180.6" y2="485.7" stroke="#e6e03c" stroke-width="4.2"/><line x1="1180.6" y1="485.7" x2="1191.5" y2="485.7" stroke="#58be48" stroke-width="4.2"/><line x1="1169.6" y1="485.7" x2="1163.0" y2="495.5" stroke="#a39c2c" stroke-width="4.2"/><line x1="1163.0" y1="495.5" x2="1156.3" y2="505.4" stroke="#3a963a" stroke-width="4.2"/><line x1="1191.5" y1="485.7" x2="1197.7" y2="495.5" stroke="#58be48" stroke-width="4.2"/><line x1="1197.7" y1="495.5" x2="1203.8" y2="505.4" stroke="#e6e03c" stroke-width="4.2"/><line x1="1239.0" y1="485.7" x2="1250.0" y2="485.7" stroke="#e6e03c" stroke-width="4.2"/><line x1="1250.0" y1="485.7" x2="1260.9" y2="485.7" stroke="#58be48" stroke-width="4.2"/><line x1="1239.0" y1="485.7" x2="1232.3" y2="495.5" stroke="#a39c2c" stroke-width="4.2"/><line x1="1232.3" y1="495.5" x2="1225.7" y2="505.4" stroke="#3a963a" stroke-width="4.2"/><line x1="1260.9" y1="485.7" x2="1267.1" y2="495.5" stroke="#58be48" stroke-width="4.2"/><line x1="1267.1" y1="495.5" x2="1273.2" y2="505.4" stroke="#e6e03c" stroke-width="4.2"/><line x1="1308.4" y1="485.7" x2="1319.4" y2="485.7" stroke="#e6e03c" stroke-width="4.2"/><line x1="1319.4" y1="485.7" x2="1330.3" y2="485.7" stroke="#58be48" stroke-width="4.2"/><line x1="1308.4" y1="485.7" x2="1301.8" y2="495.5" stroke="#a39c2c" stroke-width="4.2"/><line x1="1301.8" y1="495.5" x2="1295.1" y2="505.4" stroke="#3a963a" stroke-width="4.2"/><line x1="1330.3" y1="485.7" x2="1336.5" y2="495.5" stroke="#58be48" stroke-width="4.2"/><line x1="1336.5" y1="495.5" x2="1342.6" y2="505.4" stroke="#e6e03c" stroke-width="4.2"/><line x1="1377.8" y1="485.7" x2="1388.8" y2="485.7" stroke="#e6e03c" stroke-width="4.2"/><line x1="1388.8" y1="485.7" x2="1399.7" y2="485.7" stroke="#58be48" stroke-width="4.2"/><line x1="1377.8" y1="485.7" x2="1371.2" y2="495.5" stroke="#a39c2c" stroke-width="4.2"/><line x1="1371.2" y1="495.5" x2="1364.5" y2="505.4" stroke="#3a963a" stroke-width="4.2"/><line x1="1399.7" y1="485.7" x2="1405.9" y2="495.5" stroke="#58be48" stroke-width="4.2"/><line x1="1405.9" y1="495.5" x2="1412.0" y2="505.4" stroke="#e6e03c" stroke-width="4.2"/><line x1="1447.2" y1="485.7" x2="1458.2" y2="485.7" stroke="#e6e03c" stroke-width="4.2"/><line x1="1458.2" y1="485.7" x2="1469.1" y2="485.7" stroke="#58be48" stroke-width="4.2"/><line x1="1447.2" y1="485.7" x2="1440.6" y2="495.5" stroke="#a39c2c" stroke-width="4.2"/><line x1="1440.6" y1="495.5" x2="1433.9" y2="505.4" stroke="#3a963a" stroke-width="4.2"/><line x1="1134.4" y1="505.4" x2="1145.4" y2="505.4" stroke="#e6e03c" stroke-width="4.2"/><line x1="1145.4" y1="505.4" x2="1156.3" y2="505.4" stroke="#58be48" stroke-width="4.2"/><line x1="1156.3" y1="505.4" x2="1163.0" y2="515.2" stroke="#58be48" stroke-width="4.2"/><line x1="1163.0" y1="515.2" x2="1169.6" y2="525.1" stroke="#e6e03c" stroke-width="4.2"/><line x1="1203.8" y1="505.4" x2="1214.8" y2="505.4" stroke="#e6e03c" stroke-width="4.2"/><line x1="1214.8" y1="505.4" x2="1225.7" y2="505.4" stroke="#58be48" stroke-width="4.2"/><line x1="1203.8" y1="505.4" x2="1197.7" y2="515.2" stroke="#a39c2c" stroke-width="4.2"/><line x1="1197.7" y1="515.2" x2="1191.5" y2="525.1" stroke="#3a963a" stroke-width="4.2"/><line x1="1225.7" y1="505.4" x2="1232.3" y2="515.2" stroke="#58be48" stroke-width="4.2"/><line x1="1232.3" y1="515.2" x2="1239.0" y2="525.1" stroke="#e6e03c" stroke-width="4.2"/><line x1="1273.2" y1="505.4" x2="1284.2" y2="505.4" stroke="#e6e03c" stroke-width="4.2"/><line x1="1284.2" y1="505.4" x2="1295.1" y2="505.4" stroke="#58be48" stroke-width="4.2"/><line x1="1273.2" y1="505.4" x2="1267.1" y2="515.2" stroke="#a39c2c" stroke-width="4.2"/><line x1="1267.1" y1="515.2" x2="1260.9" y2="525.1" stroke="#3a963a" stroke-width="4.2"/><line x1="1295.1" y1="505.4" x2="1301.8" y2="515.2" stroke="#58be48" stroke-width="4.2"/><line x1="1301.8" y1="515.2" x2="1308.4" y2="525.1" stroke="#e6e03c" stroke-width="4.2"/><line x1="1342.6" y1="505.4" x2="1353.6" y2="505.4" stroke="#e6e03c" stroke-width="4.2"/><line x1="1353.6" y1="505.4" x2="1364.5" y2="505.4" stroke="#58be48" stroke-width="4.2"/><line x1="1342.6" y1="505.4" x2="1336.5" y2="515.2" stroke="#a39c2c" stroke-width="4.2"/><line x1="1336.5" y1="515.2" x2="1330.3" y2="525.1" stroke="#3a963a" stroke-width="4.2"/><line x1="1364.5" y1="505.4" x2="1371.2" y2="515.2" stroke="#58be48" stroke-width="4.2"/><line x1="1371.2" y1="515.2" x2="1377.8" y2="525.1" stroke="#e6e03c" stroke-width="4.2"/><line x1="1412.0" y1="505.4" x2="1423.0" y2="505.4" stroke="#e6e03c" stroke-width="4.2"/><line x1="1423.0" y1="505.4" x2="1433.9" y2="505.4" stroke="#58be48" stroke-width="4.2"/><line x1="1412.0" y1="505.4" x2="1405.9" y2="515.2" stroke="#a39c2c" stroke-width="4.2"/><line x1="1405.9" y1="515.2" x2="1399.7" y2="525.1" stroke="#3a963a" stroke-width="4.2"/><line x1="1433.9" y1="505.4" x2="1440.6" y2="515.2" stroke="#58be48" stroke-width="4.2"/><line x1="1440.6" y1="515.2" x2="1447.2" y2="525.1" stroke="#e6e03c" stroke-width="4.2"/><line x1="1169.6" y1="525.1" x2="1180.6" y2="525.1" stroke="#e6e03c" stroke-width="4.2"/><line x1="1180.6" y1="525.1" x2="1191.5" y2="525.1" stroke="#58be48" stroke-width="4.2"/><line x1="1169.6" y1="525.1" x2="1163.0" y2="535.0" stroke="#a39c2c" stroke-width="4.2"/><line x1="1163.0" y1="535.0" x2="1156.3" y2="544.8" stroke="#3a963a" stroke-width="4.2"/><line x1="1191.5" y1="525.1" x2="1197.7" y2="535.0" stroke="#58be48" stroke-width="4.2"/><line x1="1197.7" y1="535.0" x2="1203.8" y2="544.8" stroke="#e6e03c" stroke-width="4.2"/><line x1="1239.0" y1="525.1" x2="1250.0" y2="525.1" stroke="#e6e03c" stroke-width="4.2"/><line x1="1250.0" y1="525.1" x2="1260.9" y2="525.1" stroke="#58be48" stroke-width="4.2"/><line x1="1239.0" y1="525.1" x2="1232.3" y2="535.0" stroke="#a39c2c" stroke-width="4.2"/><line x1="1232.3" y1="535.0" x2="1225.7" y2="544.8" stroke="#3a963a" stroke-width="4.2"/><line x1="1260.9" y1="525.1" x2="1267.1" y2="535.0" stroke="#58be48" stroke-width="4.2"/><line x1="1267.1" y1="535.0" x2="1273.2" y2="544.8" stroke="#e6e03c" stroke-width="4.2"/><line x1="1308.4" y1="525.1" x2="1319.4" y2="525.1" stroke="#e6e03c" stroke-width="4.2"/><line x1="1319.4" y1="525.1" x2="1330.3" y2="525.1" stroke="#58be48" stroke-width="4.2"/><line x1="1308.4" y1="525.1" x2="1301.8" y2="535.0" stroke="#a39c2c" stroke-width="4.2"/><line x1="1301.8" y1="535.0" x2="1295.1" y2="544.8" stroke="#3a963a" stroke-width="4.2"/><line x1="1330.3" y1="525.1" x2="1336.5" y2="535.0" stroke="#58be48" stroke-width="4.2"/><line x1="1336.5" y1="535.0" x2="1342.6" y2="544.8" stroke="#e6e03c" stroke-width="4.2"/><line x1="1377.8" y1="525.1" x2="1388.8" y2="525.1" stroke="#e6e03c" stroke-width="4.2"/><line x1="1388.8" y1="525.1" x2="1399.7" y2="525.1" stroke="#58be48" stroke-width="4.2"/><line x1="1377.8" y1="525.1" x2="1371.2" y2="535.0" stroke="#a39c2c" stroke-width="4.2"/><line x1="1371.2" y1="535.0" x2="1364.5" y2="544.8" stroke="#3a963a" stroke-width="4.2"/><line x1="1399.7" y1="525.1" x2="1405.9" y2="535.0" stroke="#58be48" stroke-width="4.2"/><line x1="1405.9" y1="535.0" x2="1412.0" y2="544.8" stroke="#e6e03c" stroke-width="4.2"/><line x1="1447.2" y1="525.1" x2="1458.2" y2="525.1" stroke="#e6e03c" stroke-width="4.2"/><line x1="1458.2" y1="525.1" x2="1469.1" y2="525.1" stroke="#58be48" stroke-width="4.2"/><line x1="1447.2" y1="525.1" x2="1440.6" y2="535.0" stroke="#a39c2c" stroke-width="4.2"/><line x1="1440.6" y1="535.0" x2="1433.9" y2="544.8" stroke="#3a963a" stroke-width="4.2"/><line x1="1134.4" y1="544.8" x2="1145.4" y2="544.8" stroke="#e6e03c" stroke-width="4.2"/><line x1="1145.4" y1="544.8" x2="1156.3" y2="544.8" stroke="#58be48" stroke-width="4.2"/><line x1="1156.3" y1="544.8" x2="1163.0" y2="554.6" stroke="#58be48" stroke-width="4.2"/><line x1="1163.0" y1="554.6" x2="1169.6" y2="564.5" stroke="#e6e03c" stroke-width="4.2"/><line x1="1203.8" y1="544.8" x2="1214.8" y2="544.8" stroke="#e6e03c" stroke-width="4.2"/><line x1="1214.8" y1="544.8" x2="1225.7" y2="544.8" stroke="#58be48" stroke-width="4.2"/><line x1="1203.8" y1="544.8" x2="1197.7" y2="554.6" stroke="#a39c2c" stroke-width="4.2"/><line x1="1197.7" y1="554.6" x2="1191.5" y2="564.5" stroke="#3a963a" stroke-width="4.2"/><line x1="1225.7" y1="544.8" x2="1232.3" y2="554.6" stroke="#58be48" stroke-width="4.2"/><line x1="1232.3" y1="554.6" x2="1239.0" y2="564.5" stroke="#e6e03c" stroke-width="4.2"/><line x1="1273.2" y1="544.8" x2="1284.2" y2="544.8" stroke="#e6e03c" stroke-width="4.2"/><line x1="1284.2" y1="544.8" x2="1295.1" y2="544.8" stroke="#58be48" stroke-width="4.2"/><line x1="1273.2" y1="544.8" x2="1267.1" y2="554.6" stroke="#a39c2c" stroke-width="4.2"/><line x1="1267.1" y1="554.6" x2="1260.9" y2="564.5" stroke="#3a963a" stroke-width="4.2"/><line x1="1295.1" y1="544.8" x2="1301.8" y2="554.6" stroke="#58be48" stroke-width="4.2"/><line x1="1301.8" y1="554.6" x2="1308.4" y2="564.5" stroke="#e6e03c" stroke-width="4.2"/><line x1="1342.6" y1="544.8" x2="1353.6" y2="544.8" stroke="#e6e03c" stroke-width="4.2"/><line x1="1353.6" y1="544.8" x2="1364.5" y2="544.8" stroke="#58be48" stroke-width="4.2"/><line x1="1342.6" y1="544.8" x2="1336.5" y2="554.6" stroke="#a39c2c" stroke-width="4.2"/><line x1="1336.5" y1="554.6" x2="1330.3" y2="564.5" stroke="#3a963a" stroke-width="4.2"/><line x1="1364.5" y1="544.8" x2="1371.2" y2="554.6" stroke="#58be48" stroke-width="4.2"/><line x1="1371.2" y1="554.6" x2="1377.8" y2="564.5" stroke="#e6e03c" stroke-width="4.2"/><line x1="1412.0" y1="544.8" x2="1423.0" y2="544.8" stroke="#e6e03c" stroke-width="4.2"/><line x1="1423.0" y1="544.8" x2="1433.9" y2="544.8" stroke="#58be48" stroke-width="4.2"/><line x1="1412.0" y1="544.8" x2="1405.9" y2="554.6" stroke="#a39c2c" stroke-width="4.2"/><line x1="1405.9" y1="554.6" x2="1399.7" y2="564.5" stroke="#3a963a" stroke-width="4.2"/><line x1="1433.9" y1="544.8" x2="1440.6" y2="554.6" stroke="#58be48" stroke-width="4.2"/><line x1="1440.6" y1="554.6" x2="1447.2" y2="564.5" stroke="#e6e03c" stroke-width="4.2"/><line x1="1169.6" y1="564.5" x2="1180.6" y2="564.5" stroke="#e6e03c" stroke-width="4.2"/><line x1="1180.6" y1="564.5" x2="1191.5" y2="564.5" stroke="#58be48" stroke-width="4.2"/><line x1="1169.6" y1="564.5" x2="1163.0" y2="574.3" stroke="#a39c2c" stroke-width="4.2"/><line x1="1163.0" y1="574.3" x2="1156.3" y2="584.2" stroke="#3a963a" stroke-width="4.2"/><line x1="1191.5" y1="564.5" x2="1197.7" y2="574.3" stroke="#58be48" stroke-width="4.2"/><line x1="1197.7" y1="574.3" x2="1203.8" y2="584.2" stroke="#e6e03c" stroke-width="4.2"/><line x1="1239.0" y1="564.5" x2="1250.0" y2="564.5" stroke="#e6e03c" stroke-width="4.2"/><line x1="1250.0" y1="564.5" x2="1260.9" y2="564.5" stroke="#58be48" stroke-width="4.2"/><line x1="1239.0" y1="564.5" x2="1232.3" y2="574.3" stroke="#a39c2c" stroke-width="4.2"/><line x1="1232.3" y1="574.3" x2="1225.7" y2="584.2" stroke="#3a963a" stroke-width="4.2"/><line x1="1260.9" y1="564.5" x2="1267.1" y2="574.3" stroke="#58be48" stroke-width="4.2"/><line x1="1267.1" y1="574.3" x2="1273.2" y2="584.2" stroke="#e6e03c" stroke-width="4.2"/><line x1="1308.4" y1="564.5" x2="1319.4" y2="564.5" stroke="#e6e03c" stroke-width="4.2"/><line x1="1319.4" y1="564.5" x2="1330.3" y2="564.5" stroke="#58be48" stroke-width="4.2"/><line x1="1308.4" y1="564.5" x2="1301.8" y2="574.3" stroke="#a39c2c" stroke-width="4.2"/><line x1="1301.8" y1="574.3" x2="1295.1" y2="584.2" stroke="#3a963a" stroke-width="4.2"/><line x1="1330.3" y1="564.5" x2="1336.5" y2="574.3" stroke="#58be48" stroke-width="4.2"/><line x1="1336.5" y1="574.3" x2="1342.6" y2="584.2" stroke="#e6e03c" stroke-width="4.2"/><line x1="1377.8" y1="564.5" x2="1388.8" y2="564.5" stroke="#e6e03c" stroke-width="4.2"/><line x1="1388.8" y1="564.5" x2="1399.7" y2="564.5" stroke="#58be48" stroke-width="4.2"/><line x1="1377.8" y1="564.5" x2="1371.2" y2="574.3" stroke="#a39c2c" stroke-width="4.2"/><line x1="1371.2" y1="574.3" x2="1364.5" y2="584.2" stroke="#3a963a" stroke-width="4.2"/><line x1="1399.7" y1="564.5" x2="1405.9" y2="574.3" stroke="#58be48" stroke-width="4.2"/><line x1="1405.9" y1="574.3" x2="1412.0" y2="584.2" stroke="#e6e03c" stroke-width="4.2"/><line x1="1447.2" y1="564.5" x2="1458.2" y2="564.5" stroke="#e6e03c" stroke-width="4.2"/><line x1="1458.2" y1="564.5" x2="1469.1" y2="564.5" stroke="#58be48" stroke-width="4.2"/><line x1="1447.2" y1="564.5" x2="1440.6" y2="574.3" stroke="#a39c2c" stroke-width="4.2"/><line x1="1440.6" y1="574.3" x2="1433.9" y2="584.2" stroke="#3a963a" stroke-width="4.2"/><line x1="1134.4" y1="584.2" x2="1145.4" y2="584.2" stroke="#e6e03c" stroke-width="4.2"/><line x1="1145.4" y1="584.2" x2="1156.3" y2="584.2" stroke="#58be48" stroke-width="4.2"/><line x1="1156.3" y1="584.2" x2="1163.0" y2="594.0" stroke="#58be48" stroke-width="4.2"/><line x1="1163.0" y1="594.0" x2="1169.6" y2="603.9" stroke="#e6e03c" stroke-width="4.2"/><line x1="1203.8" y1="584.2" x2="1214.8" y2="584.2" stroke="#e6e03c" stroke-width="4.2"/><line x1="1214.8" y1="584.2" x2="1225.7" y2="584.2" stroke="#58be48" stroke-width="4.2"/><line x1="1203.8" y1="584.2" x2="1197.7" y2="594.0" stroke="#a39c2c" stroke-width="4.2"/><line x1="1197.7" y1="594.0" x2="1191.5" y2="603.9" stroke="#3a963a" stroke-width="4.2"/><line x1="1225.7" y1="584.2" x2="1232.3" y2="594.0" stroke="#58be48" stroke-width="4.2"/><line x1="1232.3" y1="594.0" x2="1239.0" y2="603.9" stroke="#e6e03c" stroke-width="4.2"/><line x1="1273.2" y1="584.2" x2="1284.2" y2="584.2" stroke="#e6e03c" stroke-width="4.2"/><line x1="1284.2" y1="584.2" x2="1295.1" y2="584.2" stroke="#58be48" stroke-width="4.2"/><line x1="1273.2" y1="584.2" x2="1267.1" y2="594.0" stroke="#a39c2c" stroke-width="4.2"/><line x1="1267.1" y1="594.0" x2="1260.9" y2="603.9" stroke="#3a963a" stroke-width="4.2"/><line x1="1295.1" y1="584.2" x2="1301.8" y2="594.0" stroke="#58be48" stroke-width="4.2"/><line x1="1301.8" y1="594.0" x2="1308.4" y2="603.9" stroke="#e6e03c" stroke-width="4.2"/><line x1="1342.6" y1="584.2" x2="1353.6" y2="584.2" stroke="#e6e03c" stroke-width="4.2"/><line x1="1353.6" y1="584.2" x2="1364.5" y2="584.2" stroke="#58be48" stroke-width="4.2"/><line x1="1342.6" y1="584.2" x2="1336.5" y2="594.0" stroke="#a39c2c" stroke-width="4.2"/><line x1="1336.5" y1="594.0" x2="1330.3" y2="603.9" stroke="#3a963a" stroke-width="4.2"/><line x1="1364.5" y1="584.2" x2="1371.2" y2="594.0" stroke="#58be48" stroke-width="4.2"/><line x1="1371.2" y1="594.0" x2="1377.8" y2="603.9" stroke="#e6e03c" stroke-width="4.2"/><line x1="1412.0" y1="584.2" x2="1423.0" y2="584.2" stroke="#e6e03c" stroke-width="4.2"/><line x1="1423.0" y1="584.2" x2="1433.9" y2="584.2" stroke="#58be48" stroke-width="4.2"/><line x1="1412.0" y1="584.2" x2="1405.9" y2="594.0" stroke="#a39c2c" stroke-width="4.2"/><line x1="1405.9" y1="594.0" x2="1399.7" y2="603.9" stroke="#3a963a" stroke-width="4.2"/><line x1="1433.9" y1="584.2" x2="1440.6" y2="594.0" stroke="#58be48" stroke-width="4.2"/><line x1="1440.6" y1="594.0" x2="1447.2" y2="603.9" stroke="#e6e03c" stroke-width="4.2"/><line x1="1169.6" y1="603.9" x2="1180.6" y2="603.9" stroke="#e6e03c" stroke-width="4.2"/><line x1="1180.6" y1="603.9" x2="1191.5" y2="603.9" stroke="#58be48" stroke-width="4.2"/><line x1="1169.6" y1="603.9" x2="1163.0" y2="613.8" stroke="#a39c2c" stroke-width="4.2"/><line x1="1163.0" y1="613.8" x2="1156.3" y2="623.6" stroke="#3a963a" stroke-width="4.2"/><line x1="1191.5" y1="603.9" x2="1197.7" y2="613.8" stroke="#58be48" stroke-width="4.2"/><line x1="1197.7" y1="613.8" x2="1203.8" y2="623.6" stroke="#e6e03c" stroke-width="4.2"/><line x1="1239.0" y1="603.9" x2="1250.0" y2="603.9" stroke="#e6e03c" stroke-width="4.2"/><line x1="1250.0" y1="603.9" x2="1260.9" y2="603.9" stroke="#58be48" stroke-width="4.2"/><line x1="1239.0" y1="603.9" x2="1232.3" y2="613.8" stroke="#a39c2c" stroke-width="4.2"/><line x1="1232.3" y1="613.8" x2="1225.7" y2="623.6" stroke="#3a963a" stroke-width="4.2"/><line x1="1260.9" y1="603.9" x2="1267.1" y2="613.8" stroke="#58be48" stroke-width="4.2"/><line x1="1267.1" y1="613.8" x2="1273.2" y2="623.6" stroke="#e6e03c" stroke-width="4.2"/><line x1="1308.4" y1="603.9" x2="1319.4" y2="603.9" stroke="#e6e03c" stroke-width="4.2"/><line x1="1319.4" y1="603.9" x2="1330.3" y2="603.9" stroke="#58be48" stroke-width="4.2"/><line x1="1308.4" y1="603.9" x2="1301.8" y2="613.8" stroke="#a39c2c" stroke-width="4.2"/><line x1="1301.8" y1="613.8" x2="1295.1" y2="623.6" stroke="#3a963a" stroke-width="4.2"/><line x1="1330.3" y1="603.9" x2="1336.5" y2="613.8" stroke="#58be48" stroke-width="4.2"/><line x1="1336.5" y1="613.8" x2="1342.6" y2="623.6" stroke="#e6e03c" stroke-width="4.2"/><line x1="1377.8" y1="603.9" x2="1388.8" y2="603.9" stroke="#e6e03c" stroke-width="4.2"/><line x1="1388.8" y1="603.9" x2="1399.7" y2="603.9" stroke="#58be48" stroke-width="4.2"/><line x1="1377.8" y1="603.9" x2="1371.2" y2="613.8" stroke="#a39c2c" stroke-width="4.2"/><line x1="1371.2" y1="613.8" x2="1364.5" y2="623.6" stroke="#3a963a" stroke-width="4.2"/><line x1="1399.7" y1="603.9" x2="1405.9" y2="613.8" stroke="#58be48" stroke-width="4.2"/><line x1="1405.9" y1="613.8" x2="1412.0" y2="623.6" stroke="#e6e03c" stroke-width="4.2"/><line x1="1447.2" y1="603.9" x2="1458.2" y2="603.9" stroke="#e6e03c" stroke-width="4.2"/><line x1="1458.2" y1="603.9" x2="1469.1" y2="603.9" stroke="#58be48" stroke-width="4.2"/><line x1="1447.2" y1="603.9" x2="1440.6" y2="613.8" stroke="#a39c2c" stroke-width="4.2"/><line x1="1440.6" y1="613.8" x2="1433.9" y2="623.6" stroke="#3a963a" stroke-width="4.2"/><line x1="1134.4" y1="623.6" x2="1145.4" y2="623.6" stroke="#e6e03c" stroke-width="4.2"/><line x1="1145.4" y1="623.6" x2="1156.3" y2="623.6" stroke="#58be48" stroke-width="4.2"/><line x1="1203.8" y1="623.6" x2="1214.8" y2="623.6" stroke="#e6e03c" stroke-width="4.2"/><line x1="1214.8" y1="623.6" x2="1225.7" y2="623.6" stroke="#58be48" stroke-width="4.2"/><line x1="1273.2" y1="623.6" x2="1284.2" y2="623.6" stroke="#e6e03c" stroke-width="4.2"/><line x1="1284.2" y1="623.6" x2="1295.1" y2="623.6" stroke="#58be48" stroke-width="4.2"/><line x1="1342.6" y1="623.6" x2="1353.6" y2="623.6" stroke="#e6e03c" stroke-width="4.2"/><line x1="1353.6" y1="623.6" x2="1364.5" y2="623.6" stroke="#58be48" stroke-width="4.2"/><line x1="1412.0" y1="623.6" x2="1423.0" y2="623.6" stroke="#e6e03c" stroke-width="4.2"/><line x1="1423.0" y1="623.6" x2="1433.9" y2="623.6" stroke="#58be48" stroke-width="4.2"/><circle cx="1134.4" cy="466.0" r="6.2" fill="url(#gS)"/><circle cx="1156.3" cy="466.0" r="6.4" fill="url(#gM2)"/><circle cx="1203.8" cy="466.0" r="6.2" fill="url(#gS)"/><circle cx="1225.7" cy="466.0" r="6.4" fill="url(#gM2)"/><circle cx="1273.2" cy="466.0" r="6.2" fill="url(#gS)"/><circle cx="1295.1" cy="466.0" r="6.4" fill="url(#gM2)"/><circle cx="1342.6" cy="466.0" r="6.2" fill="url(#gS)"/><circle cx="1364.5" cy="466.0" r="6.4" fill="url(#gM2)"/><circle cx="1412.0" cy="466.0" r="6.2" fill="url(#gS)"/><circle cx="1433.9" cy="466.0" r="6.4" fill="url(#gM2)"/><circle cx="1169.6" cy="485.7" r="6.2" fill="url(#gS)"/><circle cx="1191.5" cy="485.7" r="6.4" fill="url(#gM2)"/><circle cx="1239.0" cy="485.7" r="6.2" fill="url(#gS)"/><circle cx="1260.9" cy="485.7" r="6.4" fill="url(#gM2)"/><circle cx="1308.4" cy="485.7" r="6.2" fill="url(#gS)"/><circle cx="1330.3" cy="485.7" r="6.4" fill="url(#gM2)"/><circle cx="1377.8" cy="485.7" r="6.2" fill="url(#gS)"/><circle cx="1399.7" cy="485.7" r="6.4" fill="url(#gM2)"/><circle cx="1447.2" cy="485.7" r="6.2" fill="url(#gS)"/><circle cx="1469.1" cy="485.7" r="6.4" fill="url(#gM2)"/><circle cx="1134.4" cy="505.4" r="6.2" fill="url(#gS)"/><circle cx="1156.3" cy="505.4" r="6.4" fill="url(#gM2)"/><circle cx="1203.8" cy="505.4" r="6.2" fill="url(#gS)"/><circle cx="1225.7" cy="505.4" r="6.4" fill="url(#gM2)"/><circle cx="1273.2" cy="505.4" r="6.2" fill="url(#gS)"/><circle cx="1295.1" cy="505.4" r="6.4" fill="url(#gM2)"/><circle cx="1342.6" cy="505.4" r="6.2" fill="url(#gS)"/><circle cx="1364.5" cy="505.4" r="6.4" fill="url(#gM2)"/><circle cx="1412.0" cy="505.4" r="6.2" fill="url(#gS)"/><circle cx="1433.9" cy="505.4" r="6.4" fill="url(#gM2)"/><circle cx="1169.6" cy="525.1" r="6.2" fill="url(#gS)"/><circle cx="1191.5" cy="525.1" r="6.4" fill="url(#gM2)"/><circle cx="1239.0" cy="525.1" r="6.2" fill="url(#gS)"/><circle cx="1260.9" cy="525.1" r="6.4" fill="url(#gM2)"/><circle cx="1308.4" cy="525.1" r="6.2" fill="url(#gS)"/><circle cx="1330.3" cy="525.1" r="6.4" fill="url(#gM2)"/><circle cx="1377.8" cy="525.1" r="6.2" fill="url(#gS)"/><circle cx="1399.7" cy="525.1" r="6.4" fill="url(#gM2)"/><circle cx="1447.2" cy="525.1" r="6.2" fill="url(#gS)"/><circle cx="1469.1" cy="525.1" r="6.4" fill="url(#gM2)"/><circle cx="1134.4" cy="544.8" r="6.2" fill="url(#gS)"/><circle cx="1156.3" cy="544.8" r="6.4" fill="url(#gM2)"/><circle cx="1203.8" cy="544.8" r="6.2" fill="url(#gS)"/><circle cx="1225.7" cy="544.8" r="6.4" fill="url(#gM2)"/><circle cx="1273.2" cy="544.8" r="6.2" fill="url(#gS)"/><circle cx="1295.1" cy="544.8" r="6.4" fill="url(#gM2)"/><circle cx="1342.6" cy="544.8" r="6.2" fill="url(#gS)"/><circle cx="1364.5" cy="544.8" r="6.4" fill="url(#gM2)"/><circle cx="1412.0" cy="544.8" r="6.2" fill="url(#gS)"/><circle cx="1433.9" cy="544.8" r="6.4" fill="url(#gM2)"/><circle cx="1169.6" cy="564.5" r="6.2" fill="url(#gS)"/><circle cx="1191.5" cy="564.5" r="6.4" fill="url(#gM2)"/><circle cx="1239.0" cy="564.5" r="6.2" fill="url(#gS)"/><circle cx="1260.9" cy="564.5" r="6.4" fill="url(#gM2)"/><circle cx="1308.4" cy="564.5" r="6.2" fill="url(#gS)"/><circle cx="1330.3" cy="564.5" r="6.4" fill="url(#gM2)"/><circle cx="1377.8" cy="564.5" r="6.2" fill="url(#gS)"/><circle cx="1399.7" cy="564.5" r="6.4" fill="url(#gM2)"/><circle cx="1447.2" cy="564.5" r="6.2" fill="url(#gS)"/><circle cx="1469.1" cy="564.5" r="6.4" fill="url(#gM2)"/><circle cx="1134.4" cy="584.2" r="6.2" fill="url(#gS)"/><circle cx="1156.3" cy="584.2" r="6.4" fill="url(#gM2)"/><circle cx="1203.8" cy="584.2" r="6.2" fill="url(#gS)"/><circle cx="1225.7" cy="584.2" r="6.4" fill="url(#gM2)"/><circle cx="1273.2" cy="584.2" r="6.2" fill="url(#gS)"/><circle cx="1295.1" cy="584.2" r="6.4" fill="url(#gM2)"/><circle cx="1342.6" cy="584.2" r="6.2" fill="url(#gS)"/><circle cx="1364.5" cy="584.2" r="6.4" fill="url(#gM2)"/><circle cx="1412.0" cy="584.2" r="6.2" fill="url(#gS)"/><circle cx="1433.9" cy="584.2" r="6.4" fill="url(#gM2)"/><circle cx="1169.6" cy="603.9" r="6.2" fill="url(#gS)"/><circle cx="1191.5" cy="603.9" r="6.4" fill="url(#gM2)"/><circle cx="1239.0" cy="603.9" r="6.2" fill="url(#gS)"/><circle cx="1260.9" cy="603.9" r="6.4" fill="url(#gM2)"/><circle cx="1308.4" cy="603.9" r="6.2" fill="url(#gS)"/><circle cx="1330.3" cy="603.9" r="6.4" fill="url(#gM2)"/><circle cx="1377.8" cy="603.9" r="6.2" fill="url(#gS)"/><circle cx="1399.7" cy="603.9" r="6.4" fill="url(#gM2)"/><circle cx="1447.2" cy="603.9" r="6.2" fill="url(#gS)"/><circle cx="1469.1" cy="603.9" r="6.4" fill="url(#gM2)"/><circle cx="1134.4" cy="623.6" r="6.2" fill="url(#gS)"/><circle cx="1156.3" cy="623.6" r="6.4" fill="url(#gM2)"/><circle cx="1203.8" cy="623.6" r="6.2" fill="url(#gS)"/><circle cx="1225.7" cy="623.6" r="6.4" fill="url(#gM2)"/><circle cx="1273.2" cy="623.6" r="6.2" fill="url(#gS)"/><circle cx="1295.1" cy="623.6" r="6.4" fill="url(#gM2)"/><circle cx="1342.6" cy="623.6" r="6.2" fill="url(#gS)"/><circle cx="1364.5" cy="623.6" r="6.4" fill="url(#gM2)"/><circle cx="1412.0" cy="623.6" r="6.2" fill="url(#gS)"/><circle cx="1433.9" cy="623.6" r="6.4" fill="url(#gM2)"/></g><circle cx="1296.0" cy="545.3" r="10.5" fill="none" stroke="#000" stroke-width="2.3" stroke-dasharray="3.6 2.4"/>
<line x1="210.8" y1="668" x2="212.7" y2="531.2" stroke="#646464" stroke-opacity="0.75" stroke-width="2.6" stroke-dasharray="11 11.8"/>
<path d="M212.7,514.2 L220.0,533.2 Q212.7,528.7 205.39999999999998,533.2 Z" fill="url(#gArr)" stroke="#6e6e6e" stroke-width="0.6"/>
<line x1="212.7" y1="532.2" x2="212.7" y2="520.2" stroke="#5e5e5e" stroke-width="2.4"/>
<line x1="365.6" y1="641" x2="364.5" y2="341.8" stroke="#646464" stroke-opacity="0.75" stroke-width="2.6" stroke-dasharray="11 11.8"/>
<path d="M364.5,324.8 L371.8,343.8 Q364.5,339.3 357.2,343.8 Z" fill="url(#gArr)" stroke="#6e6e6e" stroke-width="0.6"/>
<line x1="364.5" y1="342.8" x2="364.5" y2="330.8" stroke="#5e5e5e" stroke-width="2.4"/>
<line x1="521.2" y1="147.5" x2="521.1" y2="600.8" stroke="#646464" stroke-opacity="0.75" stroke-width="2.6" stroke-dasharray="11 11.8"/>
<path d="M521.1,617.8 L528.4,598.8 Q521.1,603.3 513.8000000000001,598.8 Z" fill="url(#gArr)" stroke="#6e6e6e" stroke-width="0.6"/>
<line x1="521.1" y1="599.8" x2="521.1" y2="611.8" stroke="#5e5e5e" stroke-width="2.4"/>
<line x1="677.2" y1="643" x2="678.3" y2="393.0" stroke="#646464" stroke-opacity="0.75" stroke-width="2.6" stroke-dasharray="11 11.8"/>
<path d="M678.3,376.0 L685.5999999999999,395.0 Q678.3,390.5 671.0,395.0 Z" fill="url(#gArr)" stroke="#6e6e6e" stroke-width="0.6"/>
<line x1="678.3" y1="394.0" x2="678.3" y2="382.0" stroke="#5e5e5e" stroke-width="2.4"/>
<line x1="831.5" y1="745" x2="831.6" y2="607.1" stroke="#646464" stroke-opacity="0.75" stroke-width="2.6" stroke-dasharray="11 11.8"/>
<path d="M831.6,590.1 L838.9,609.1 Q831.6,604.6 824.3000000000001,609.1 Z" fill="url(#gArr)" stroke="#6e6e6e" stroke-width="0.6"/>
<line x1="831.6" y1="608.1" x2="831.6" y2="596.1" stroke="#5e5e5e" stroke-width="2.4"/>
<line x1="986.4" y1="676" x2="986.0" y2="539.1" stroke="#646464" stroke-opacity="0.75" stroke-width="2.6" stroke-dasharray="11 11.8"/>
<path d="M986.0,522.1 L993.3,541.1 Q986.0,536.6 978.7,541.1 Z" fill="url(#gArr)" stroke="#6e6e6e" stroke-width="0.6"/>
<line x1="986.0" y1="540.1" x2="986.0" y2="528.1" stroke="#5e5e5e" stroke-width="2.4"/>
<line x1="1141.9" y1="641" x2="1142.0" y2="405.6" stroke="#646464" stroke-opacity="0.75" stroke-width="2.6" stroke-dasharray="11 11.8"/>
<path d="M1142.0,388.6 L1149.3,407.6 Q1142.0,403.1 1134.7,407.6 Z" fill="url(#gArr)" stroke="#6e6e6e" stroke-width="0.6"/>
<line x1="1142.0" y1="406.6" x2="1142.0" y2="394.6" stroke="#5e5e5e" stroke-width="2.4"/>
<line x1="1296.5" y1="816" x2="1296.0" y2="625.1" stroke="#646464" stroke-opacity="0.75" stroke-width="2.6" stroke-dasharray="11 11.8"/>
<path d="M1296.0,608.1 L1303.3,627.1 Q1296.0,622.6 1288.7,627.1 Z" fill="url(#gArr)" stroke="#6e6e6e" stroke-width="0.6"/>
<line x1="1296.0" y1="626.1" x2="1296.0" y2="614.1" stroke="#5e5e5e" stroke-width="2.4"/>
</svg></body></html>
